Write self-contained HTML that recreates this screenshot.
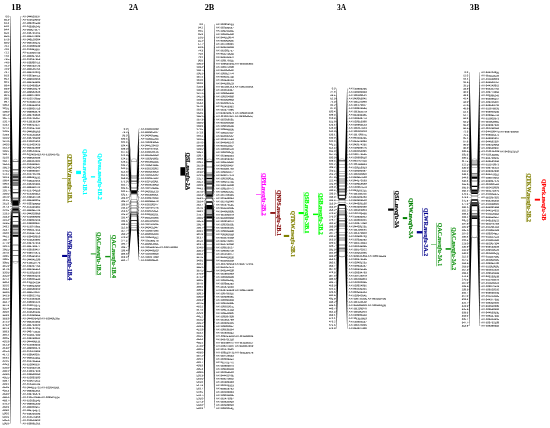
<!DOCTYPE html>
<html lang="en">
<head>
<meta charset="utf-8">
<title>QTL linkage map</title>
<style>
html,body{margin:0;padding:0;background:#fff;}
svg{display:block;}
</style>
</head>
<body>
<svg width="550" height="428" viewBox="0 0 550 428">
<rect width="550" height="428" fill="#fff"/>
<g>
<text x="16.1" y="9.9" font-family="'Liberation Serif',serif" font-weight="bold" font-size="8.5" text-anchor="middle">1B</text>
<path d="M12.5 162.25 A3.05 3.05 0 0 1 18.6 162.25 L18.6 204.1 L18.6 206.3 L18.6 208.5 L18.6 260.35 A3.05 3.05 0 0 1 12.5 260.35 L12.5 208.5 L12.5 206.3 L12.5 204.1 Z" fill="#fff" stroke="#000" stroke-width="0.2"/>
<path d="M12.5 161.06L18.6 161.06L18.6 161.34L12.5 161.34ZM12.5 161.46L18.6 161.46L18.6 161.74L12.5 161.74ZM12.5 169.36L18.6 169.36L18.6 169.64L12.5 169.64ZM12.5 170.26L18.6 170.26L18.6 170.54L12.5 170.54ZM12.5 172.16L18.6 172.16L18.6 172.44L12.5 172.44ZM12.5 173.06L18.6 173.06L18.6 173.34L12.5 173.34ZM12.5 173.96L18.6 173.96L18.6 174.24L12.5 174.24ZM12.5 174.86L18.6 174.86L18.6 175.14L12.5 175.14ZM12.5 175.86L18.6 175.86L18.6 176.14L12.5 176.14ZM12.5 176.26L18.6 176.26L18.6 176.54L12.5 176.54ZM12.5 176.66L18.6 176.66L18.6 176.94L12.5 176.94ZM12.5 177.06L18.6 177.06L18.6 177.34L12.5 177.34ZM12.5 177.46L18.6 177.46L18.6 177.74L12.5 177.74ZM12.5 177.86L18.6 177.86L18.6 178.14L12.5 178.14ZM12.5 179.16L18.6 179.16L18.6 179.44L12.5 179.44ZM12.5 179.54L18.6 179.54L18.6 179.82L12.5 179.82ZM12.5 179.92L18.6 179.92L18.6 180.2L12.5 180.2ZM12.5 180.3L18.6 180.3L18.6 180.58L12.5 180.58ZM12.5 180.68L18.6 180.68L18.6 180.96L12.5 180.96ZM12.5 181.06L18.6 181.06L18.6 181.34L12.5 181.34ZM12.5 181.96L18.6 181.96L18.6 182.24L12.5 182.24ZM12.5 182.593L18.6 182.593L18.6 182.873L12.5 182.873ZM12.5 183.227L18.6 183.227L18.6 183.507L12.5 183.507ZM12.5 183.86L18.6 183.86L18.6 184.14L12.5 184.14ZM12.5 184.76L18.6 184.76L18.6 185.04L12.5 185.04ZM12.5 185.21L18.6 185.21L18.6 185.49L12.5 185.49ZM12.5 185.66L18.6 185.66L18.6 185.94L12.5 185.94ZM12.5 188.96L18.6 188.96L18.6 189.24L12.5 189.24ZM12.5 192.06L18.6 192.06L18.6 192.34L12.5 192.34ZM12.5 192.427L18.6 192.427L18.6 192.707L12.5 192.707ZM12.5 192.793L18.6 192.793L18.6 193.073L12.5 193.073ZM12.5 193.16L18.6 193.16L18.6 193.44L12.5 193.44ZM12.5 197.86L18.6 197.86L18.6 198.14L12.5 198.14ZM12.5 198.51L18.6 198.51L18.6 198.79L12.5 198.79ZM12.5 199.16L18.6 199.16L18.6 199.44L12.5 199.44ZM12.5 200.16L18.6 200.16L18.6 200.44L12.5 200.44ZM12.5 200.401L18.6 200.401L18.6 200.681L12.5 200.681ZM12.5 200.642L18.6 200.642L18.6 200.922L12.5 200.922ZM12.5 200.883L18.6 200.883L18.6 201.163L12.5 201.163ZM12.5 201.124L18.6 201.124L18.6 201.404L12.5 201.404ZM12.5 201.365L18.6 201.365L18.6 201.645L12.5 201.645ZM12.5 201.605L18.6 201.605L18.6 201.885L12.5 201.885ZM12.5 201.846L18.6 201.846L18.6 202.126L12.5 202.126ZM12.5 202.087L18.6 202.087L18.6 202.367L12.5 202.367ZM12.5 202.328L18.6 202.328L18.6 202.608L12.5 202.608ZM12.5 202.569L18.6 202.569L18.6 202.849L12.5 202.849ZM12.5 202.81L18.6 202.81L18.6 203.09L12.5 203.09ZM12.5 203.051L18.6 203.051L18.6 203.331L12.5 203.331ZM12.5 203.292L18.6 203.292L18.6 203.572L12.5 203.572ZM12.5 203.533L18.6 203.533L18.6 203.813L12.5 203.813ZM12.5 203.774L18.6 203.774L18.6 204.054L12.5 204.054ZM12.5 204.015L18.6 204.015L18.6 204.295L12.5 204.295ZM12.5 204.255L18.6 204.255L18.6 204.535L12.5 204.535ZM12.5 204.496L18.6 204.496L18.6 204.776L12.5 204.776ZM12.5 204.737L18.6 204.737L18.6 205.017L12.5 205.017ZM12.5 204.978L18.6 204.978L18.6 205.258L12.5 205.258ZM12.5 205.219L18.6 205.219L18.6 205.499L12.5 205.499ZM12.5 205.46L18.6 205.46L18.6 205.74L12.5 205.74ZM12.5 206.16L18.6 206.16L18.6 206.44L12.5 206.44ZM12.5 207.01L18.6 207.01L18.6 207.29L12.5 207.29ZM12.5 207.86L18.6 207.86L18.6 208.14L12.5 208.14ZM12.5 208.56L18.6 208.56L18.6 208.84L12.5 208.84ZM12.5 208.704L18.6 208.704L18.6 208.984L12.5 208.984ZM12.5 208.849L18.6 208.849L18.6 209.129L12.5 209.129ZM12.5 208.993L18.6 208.993L18.6 209.273L12.5 209.273ZM12.5 209.138L18.6 209.138L18.6 209.418L12.5 209.418ZM12.5 209.282L18.6 209.282L18.6 209.562L12.5 209.562ZM12.5 209.427L18.6 209.427L18.6 209.707L12.5 209.707ZM12.5 209.571L18.6 209.571L18.6 209.851L12.5 209.851ZM12.5 209.716L18.6 209.716L18.6 209.996L12.5 209.996ZM12.5 209.86L18.6 209.86L18.6 210.14L12.5 210.14ZM12.5 210.46L18.6 210.46L18.6 210.74L12.5 210.74ZM12.5 210.82L18.6 210.82L18.6 211.1L12.5 211.1ZM12.5 211.18L18.6 211.18L18.6 211.46L12.5 211.46ZM12.5 211.54L18.6 211.54L18.6 211.82L12.5 211.82ZM12.5 211.9L18.6 211.9L18.6 212.18L12.5 212.18ZM12.5 212.26L18.6 212.26L18.6 212.54L12.5 212.54ZM12.5 212.86L18.6 212.86L18.6 213.14L12.5 213.14ZM12.5 212.96L18.6 212.96L18.6 213.24L12.5 213.24ZM12.5 213.06L18.6 213.06L18.6 213.34L12.5 213.34ZM12.5 216.06L18.6 216.06L18.6 216.34L12.5 216.34ZM12.5 216.21L18.6 216.21L18.6 216.49L12.5 216.49ZM12.5 216.36L18.6 216.36L18.6 216.64L12.5 216.64ZM12.5 216.51L18.6 216.51L18.6 216.79L12.5 216.79ZM12.5 216.66L18.6 216.66L18.6 216.94L12.5 216.94ZM12.5 216.81L18.6 216.81L18.6 217.09L12.5 217.09ZM12.5 216.96L18.6 216.96L18.6 217.24L12.5 217.24ZM12.5 221.36L18.6 221.36L18.6 221.64L12.5 221.64ZM12.5 221.46L18.6 221.46L18.6 221.74L12.5 221.74ZM12.5 221.56L18.6 221.56L18.6 221.84L12.5 221.84ZM12.5 224.66L18.6 224.66L18.6 224.94L12.5 224.94ZM12.5 224.76L18.6 224.76L18.6 225.04L12.5 225.04ZM12.5 224.86L18.6 224.86L18.6 225.14L12.5 225.14ZM12.5 225.46L18.6 225.46L18.6 225.74L12.5 225.74ZM12.5 225.793L18.6 225.793L18.6 226.073L12.5 226.073ZM12.5 226.127L18.6 226.127L18.6 226.407L12.5 226.407ZM12.5 226.46L18.6 226.46L18.6 226.74L12.5 226.74ZM12.5 226.793L18.6 226.793L18.6 227.073L12.5 227.073ZM12.5 227.127L18.6 227.127L18.6 227.407L12.5 227.407ZM12.5 227.46L18.6 227.46L18.6 227.74L12.5 227.74ZM12.5 228.86L18.6 228.86L18.6 229.14L12.5 229.14ZM12.5 229.01L18.6 229.01L18.6 229.29L12.5 229.29ZM12.5 229.16L18.6 229.16L18.6 229.44L12.5 229.44ZM12.5 230.86L18.6 230.86L18.6 231.14L12.5 231.14ZM12.5 230.96L18.6 230.96L18.6 231.24L12.5 231.24ZM12.5 231.06L18.6 231.06L18.6 231.34L12.5 231.34ZM12.5 232.46L18.6 232.46L18.6 232.74L12.5 232.74ZM12.5 232.727L18.6 232.727L18.6 233.007L12.5 233.007ZM12.5 232.993L18.6 232.993L18.6 233.273L12.5 233.273ZM12.5 233.26L18.6 233.26L18.6 233.54L12.5 233.54ZM12.5 234.86L18.6 234.86L18.6 235.14L12.5 235.14ZM12.5 235.089L18.6 235.089L18.6 235.369L12.5 235.369ZM12.5 235.317L18.6 235.317L18.6 235.597L12.5 235.597ZM12.5 235.546L18.6 235.546L18.6 235.826L12.5 235.826ZM12.5 235.774L18.6 235.774L18.6 236.054L12.5 236.054ZM12.5 236.003L18.6 236.003L18.6 236.283L12.5 236.283ZM12.5 236.231L18.6 236.231L18.6 236.511L12.5 236.511ZM12.5 236.46L18.6 236.46L18.6 236.74L12.5 236.74ZM12.5 244.86L18.6 244.86L18.6 245.14L12.5 245.14ZM12.5 250.36L18.6 250.36L18.6 250.64L12.5 250.64ZM12.5 250.36L18.6 250.36L18.6 250.64L12.5 250.64ZM12.5 255.06L18.6 255.06L18.6 255.34L12.5 255.34ZM12.5 255.16L18.6 255.16L18.6 255.44L12.5 255.44ZM12.5 255.26L18.6 255.26L18.6 255.54L12.5 255.54ZM12.5 261.16L18.6 261.16L18.6 261.44L12.5 261.44Z" fill="#000" stroke="none"/>
<path d="M9.2 16.34L10.33 16.34L10.33 16.46L9.2 16.46ZM20.67 16.34L21.4 16.34L21.4 16.46L20.67 16.46ZM10.07 16.4L10.33 16.4L12.58 161.2L12.32 161.2ZM20.67 16.4L20.93 16.4L18.78 161.2L18.52 161.2ZM9.2 19.622L10.33 19.622L10.33 19.742L9.2 19.742ZM20.67 19.622L21.4 19.622L21.4 19.742L20.67 19.742ZM10.07 19.682L10.33 19.682L12.58 161.6L12.32 161.6ZM20.67 19.682L20.93 19.682L18.78 161.6L18.52 161.6ZM9.2 22.904L10.33 22.904L10.33 23.024L9.2 23.024ZM20.67 22.904L21.4 22.904L21.4 23.024L20.67 23.024ZM10.07 22.964L10.33 22.964L12.58 169.5L12.32 169.5ZM20.67 22.964L20.93 22.964L18.78 169.5L18.52 169.5ZM9.2 26.186L10.33 26.186L10.33 26.306L9.2 26.306ZM20.67 26.186L21.4 26.186L21.4 26.306L20.67 26.306ZM10.07 26.246L10.33 26.246L12.58 170.4L12.32 170.4ZM20.67 26.246L20.93 26.246L18.78 170.4L18.52 170.4ZM9.2 29.468L10.33 29.468L10.33 29.588L9.2 29.588ZM20.67 29.468L21.4 29.468L21.4 29.588L20.67 29.588ZM10.07 29.528L10.33 29.528L12.58 172.3L12.32 172.3ZM20.67 29.528L20.93 29.528L18.78 172.3L18.52 172.3ZM9.2 32.75L10.33 32.75L10.33 32.87L9.2 32.87ZM20.67 32.75L21.4 32.75L21.4 32.87L20.67 32.87ZM10.07 32.81L10.33 32.81L12.58 173.2L12.32 173.2ZM20.67 32.81L20.93 32.81L18.78 173.2L18.52 173.2ZM9.2 36.032L10.33 36.032L10.33 36.152L9.2 36.152ZM20.67 36.032L21.4 36.032L21.4 36.152L20.67 36.152ZM10.07 36.092L10.33 36.092L12.58 174.1L12.32 174.1ZM20.67 36.092L20.93 36.092L18.78 174.1L18.52 174.1ZM9.2 39.314L10.33 39.314L10.33 39.434L9.2 39.434ZM20.67 39.314L21.4 39.314L21.4 39.434L20.67 39.434ZM10.07 39.374L10.33 39.374L12.58 175L12.32 175ZM20.67 39.374L20.93 39.374L18.78 175L18.52 175ZM9.2 42.596L10.33 42.596L10.33 42.716L9.2 42.716ZM20.67 42.596L21.4 42.596L21.4 42.716L20.67 42.716ZM10.07 42.656L10.33 42.656L12.58 176L12.32 176ZM20.67 42.656L20.93 42.656L18.78 176L18.52 176ZM9.2 45.878L10.33 45.878L10.33 45.998L9.2 45.998ZM20.67 45.878L21.4 45.878L21.4 45.998L20.67 45.998ZM10.07 45.938L10.33 45.938L12.58 176.4L12.32 176.4ZM20.67 45.938L20.93 45.938L18.78 176.4L18.52 176.4ZM9.2 49.16L10.33 49.16L10.33 49.28L9.2 49.28ZM20.67 49.16L21.4 49.16L21.4 49.28L20.67 49.28ZM10.07 49.22L10.33 49.22L12.58 176.8L12.32 176.8ZM20.67 49.22L20.93 49.22L18.78 176.8L18.52 176.8ZM9.2 52.442L10.33 52.442L10.33 52.562L9.2 52.562ZM20.67 52.442L21.4 52.442L21.4 52.562L20.67 52.562ZM10.07 52.502L10.33 52.502L12.58 177.2L12.32 177.2ZM20.67 52.502L20.93 52.502L18.78 177.2L18.52 177.2ZM9.2 55.724L10.33 55.724L10.33 55.844L9.2 55.844ZM20.67 55.724L21.4 55.724L21.4 55.844L20.67 55.844ZM10.07 55.784L10.33 55.784L12.58 177.6L12.32 177.6ZM20.67 55.784L20.93 55.784L18.78 177.6L18.52 177.6ZM9.2 59.006L10.33 59.006L10.33 59.126L9.2 59.126ZM20.67 59.006L21.4 59.006L21.4 59.126L20.67 59.126ZM10.07 59.066L10.33 59.066L12.58 178L12.32 178ZM20.67 59.066L20.93 59.066L18.78 178L18.52 178ZM9.2 62.288L10.33 62.288L10.33 62.408L9.2 62.408ZM20.67 62.288L21.4 62.288L21.4 62.408L20.67 62.408ZM10.07 62.348L10.33 62.348L12.58 179.3L12.32 179.3ZM20.67 62.348L20.93 62.348L18.78 179.3L18.52 179.3ZM9.2 65.57L10.33 65.57L10.33 65.69L9.2 65.69ZM20.67 65.57L21.4 65.57L21.4 65.69L20.67 65.69ZM10.07 65.63L10.33 65.63L12.58 179.68L12.32 179.68ZM20.67 65.63L20.93 65.63L18.78 179.68L18.52 179.68ZM9.2 68.852L10.33 68.852L10.33 68.972L9.2 68.972ZM20.67 68.852L21.4 68.852L21.4 68.972L20.67 68.972ZM10.07 68.912L10.33 68.912L12.58 180.06L12.32 180.06ZM20.67 68.912L20.93 68.912L18.78 180.06L18.52 180.06ZM9.2 72.134L10.33 72.134L10.33 72.254L9.2 72.254ZM20.67 72.134L21.4 72.134L21.4 72.254L20.67 72.254ZM10.07 72.194L10.33 72.194L12.58 180.44L12.32 180.44ZM20.67 72.194L20.93 72.194L18.78 180.44L18.52 180.44ZM9.2 75.416L10.33 75.416L10.33 75.536L9.2 75.536ZM20.67 75.416L21.4 75.416L21.4 75.536L20.67 75.536ZM10.07 75.476L10.33 75.476L12.58 180.82L12.32 180.82ZM20.67 75.476L20.93 75.476L18.78 180.82L18.52 180.82ZM9.2 78.698L10.33 78.698L10.33 78.818L9.2 78.818ZM20.67 78.698L21.4 78.698L21.4 78.818L20.67 78.818ZM10.07 78.758L10.33 78.758L12.58 181.2L12.32 181.2ZM20.67 78.758L20.93 78.758L18.78 181.2L18.52 181.2ZM9.2 81.98L10.33 81.98L10.33 82.1L9.2 82.1ZM20.67 81.98L21.4 81.98L21.4 82.1L20.67 82.1ZM10.07 82.04L10.33 82.04L12.58 182.1L12.32 182.1ZM20.67 82.04L20.93 82.04L18.78 182.1L18.52 182.1ZM9.2 85.262L10.33 85.262L10.33 85.382L9.2 85.382ZM20.67 85.262L21.4 85.262L21.4 85.382L20.67 85.382ZM10.07 85.322L10.33 85.322L12.58 182.733L12.32 182.733ZM20.67 85.322L20.93 85.322L18.78 182.733L18.52 182.733ZM9.2 88.544L10.33 88.544L10.33 88.664L9.2 88.664ZM20.67 88.544L21.4 88.544L21.4 88.664L20.67 88.664ZM10.07 88.604L10.33 88.604L12.58 183.367L12.32 183.367ZM20.67 88.604L20.93 88.604L18.78 183.367L18.52 183.367ZM9.2 91.826L10.33 91.826L10.33 91.946L9.2 91.946ZM20.67 91.826L21.4 91.826L21.4 91.946L20.67 91.946ZM10.07 91.886L10.33 91.886L12.58 184L12.32 184ZM20.67 91.886L20.93 91.886L18.78 184L18.52 184ZM9.2 95.108L10.33 95.108L10.33 95.228L9.2 95.228ZM20.67 95.108L21.4 95.108L21.4 95.228L20.67 95.228ZM10.07 95.168L10.33 95.168L12.58 184.9L12.32 184.9ZM20.67 95.168L20.93 95.168L18.78 184.9L18.52 184.9ZM9.2 98.39L10.33 98.39L10.33 98.51L9.2 98.51ZM20.67 98.39L21.4 98.39L21.4 98.51L20.67 98.51ZM10.07 98.45L10.33 98.45L12.58 185.35L12.32 185.35ZM20.67 98.45L20.93 98.45L18.78 185.35L18.52 185.35ZM9.2 101.672L10.33 101.672L10.33 101.792L9.2 101.792ZM20.67 101.672L21.4 101.672L21.4 101.792L20.67 101.792ZM10.07 101.732L10.33 101.732L12.58 185.8L12.32 185.8ZM20.67 101.732L20.93 101.732L18.78 185.8L18.52 185.8ZM9.2 104.954L10.33 104.954L10.33 105.074L9.2 105.074ZM20.67 104.954L21.4 104.954L21.4 105.074L20.67 105.074ZM10.07 105.014L10.33 105.014L12.58 189.1L12.32 189.1ZM20.67 105.014L20.93 105.014L18.78 189.1L18.52 189.1ZM9.2 108.236L10.33 108.236L10.33 108.356L9.2 108.356ZM20.67 108.236L21.4 108.236L21.4 108.356L20.67 108.356ZM10.07 108.296L10.33 108.296L12.58 192.2L12.32 192.2ZM20.67 108.296L20.93 108.296L18.78 192.2L18.52 192.2ZM9.2 111.518L10.33 111.518L10.33 111.638L9.2 111.638ZM20.67 111.518L21.4 111.518L21.4 111.638L20.67 111.638ZM10.07 111.578L10.33 111.578L12.58 192.567L12.32 192.567ZM20.67 111.578L20.93 111.578L18.78 192.567L18.52 192.567ZM9.2 114.8L10.33 114.8L10.33 114.92L9.2 114.92ZM20.67 114.8L21.4 114.8L21.4 114.92L20.67 114.92ZM10.07 114.86L10.33 114.86L12.58 192.933L12.32 192.933ZM20.67 114.86L20.93 114.86L18.78 192.933L18.52 192.933ZM9.2 118.082L10.33 118.082L10.33 118.202L9.2 118.202ZM20.67 118.082L21.4 118.082L21.4 118.202L20.67 118.202ZM10.07 118.142L10.33 118.142L12.58 193.3L12.32 193.3ZM20.67 118.142L20.93 118.142L18.78 193.3L18.52 193.3ZM9.2 121.364L10.33 121.364L10.33 121.484L9.2 121.484ZM20.67 121.364L21.4 121.364L21.4 121.484L20.67 121.484ZM10.07 121.424L10.33 121.424L12.58 198L12.32 198ZM20.67 121.424L20.93 121.424L18.78 198L18.52 198ZM9.2 124.646L10.33 124.646L10.33 124.766L9.2 124.766ZM20.67 124.646L21.4 124.646L21.4 124.766L20.67 124.766ZM10.07 124.706L10.33 124.706L12.58 198.65L12.32 198.65ZM20.67 124.706L20.93 124.706L18.78 198.65L18.52 198.65ZM9.2 127.928L10.33 127.928L10.33 128.048L9.2 128.048ZM20.67 127.928L21.4 127.928L21.4 128.048L20.67 128.048ZM10.07 127.988L10.33 127.988L12.58 199.3L12.32 199.3ZM20.67 127.988L20.93 127.988L18.78 199.3L18.52 199.3ZM9.2 131.21L10.33 131.21L10.33 131.33L9.2 131.33ZM20.67 131.21L21.4 131.21L21.4 131.33L20.67 131.33ZM10.07 131.27L10.33 131.27L12.58 200.3L12.32 200.3ZM20.67 131.27L20.93 131.27L18.78 200.3L18.52 200.3ZM9.2 134.492L10.33 134.492L10.33 134.612L9.2 134.612ZM20.67 134.492L21.4 134.492L21.4 134.612L20.67 134.612ZM10.07 134.552L10.33 134.552L12.58 200.541L12.32 200.541ZM20.67 134.552L20.93 134.552L18.78 200.541L18.52 200.541ZM9.2 137.774L10.33 137.774L10.33 137.894L9.2 137.894ZM20.67 137.774L21.4 137.774L21.4 137.894L20.67 137.894ZM10.07 137.834L10.33 137.834L12.58 200.782L12.32 200.782ZM20.67 137.834L20.93 137.834L18.78 200.782L18.52 200.782ZM9.2 141.056L10.33 141.056L10.33 141.176L9.2 141.176ZM20.67 141.056L21.4 141.056L21.4 141.176L20.67 141.176ZM10.07 141.116L10.33 141.116L12.58 201.023L12.32 201.023ZM20.67 141.116L20.93 141.116L18.78 201.023L18.52 201.023ZM9.2 144.338L10.33 144.338L10.33 144.458L9.2 144.458ZM20.67 144.338L21.4 144.338L21.4 144.458L20.67 144.458ZM10.07 144.398L10.33 144.398L12.58 201.264L12.32 201.264ZM20.67 144.398L20.93 144.398L18.78 201.264L18.52 201.264ZM9.2 147.62L10.33 147.62L10.33 147.74L9.2 147.74ZM20.67 147.62L21.4 147.62L21.4 147.74L20.67 147.74ZM10.07 147.68L10.33 147.68L12.58 201.505L12.32 201.505ZM20.67 147.68L20.93 147.68L18.78 201.505L18.52 201.505ZM9.2 150.902L10.33 150.902L10.33 151.022L9.2 151.022ZM20.67 150.902L21.4 150.902L21.4 151.022L20.67 151.022ZM10.07 150.962L10.33 150.962L12.58 201.745L12.32 201.745ZM20.67 150.962L20.93 150.962L18.78 201.745L18.52 201.745ZM9.2 154.184L10.33 154.184L10.33 154.304L9.2 154.304ZM20.67 154.184L21.4 154.184L21.4 154.304L20.67 154.304ZM10.07 154.244L10.33 154.244L12.58 201.986L12.32 201.986ZM20.67 154.244L20.93 154.244L18.78 201.986L18.52 201.986ZM9.2 157.466L10.33 157.466L10.33 157.586L9.2 157.586ZM20.67 157.466L21.4 157.466L21.4 157.586L20.67 157.586ZM10.07 157.526L10.33 157.526L12.58 202.227L12.32 202.227ZM20.67 157.526L20.93 157.526L18.78 202.227L18.52 202.227ZM9.2 160.748L10.33 160.748L10.33 160.868L9.2 160.868ZM20.67 160.748L21.4 160.748L21.4 160.868L20.67 160.868ZM10.07 160.808L10.33 160.808L12.58 202.468L12.32 202.468ZM20.67 160.808L20.93 160.808L18.78 202.468L18.52 202.468ZM9.2 164.03L10.33 164.03L10.33 164.15L9.2 164.15ZM20.67 164.03L21.4 164.03L21.4 164.15L20.67 164.15ZM10.07 164.09L10.33 164.09L12.58 202.709L12.32 202.709ZM20.67 164.09L20.93 164.09L18.78 202.709L18.52 202.709ZM9.2 167.312L10.33 167.312L10.33 167.432L9.2 167.432ZM20.67 167.312L21.4 167.312L21.4 167.432L20.67 167.432ZM10.07 167.372L10.33 167.372L12.58 202.95L12.32 202.95ZM20.67 167.372L20.93 167.372L18.78 202.95L18.52 202.95ZM9.2 170.594L10.33 170.594L10.33 170.714L9.2 170.714ZM20.67 170.594L21.4 170.594L21.4 170.714L20.67 170.714ZM10.07 170.654L10.33 170.654L12.58 203.191L12.32 203.191ZM20.67 170.654L20.93 170.654L18.78 203.191L18.52 203.191ZM9.2 173.876L10.33 173.876L10.33 173.996L9.2 173.996ZM20.67 173.876L21.4 173.876L21.4 173.996L20.67 173.996ZM10.07 173.936L10.33 173.936L12.58 203.432L12.32 203.432ZM20.67 173.936L20.93 173.936L18.78 203.432L18.52 203.432ZM9.2 177.158L10.33 177.158L10.33 177.278L9.2 177.278ZM20.67 177.158L21.4 177.158L21.4 177.278L20.67 177.278ZM10.07 177.218L10.33 177.218L12.58 203.673L12.32 203.673ZM20.67 177.218L20.93 177.218L18.78 203.673L18.52 203.673ZM9.2 180.44L10.33 180.44L10.33 180.56L9.2 180.56ZM20.67 180.44L21.4 180.44L21.4 180.56L20.67 180.56ZM10.069 180.5L10.331 180.5L12.581 203.914L12.319 203.914ZM20.669 180.5L20.931 180.5L18.781 203.914L18.519 203.914ZM9.2 183.722L10.33 183.722L10.33 183.842L9.2 183.842ZM20.67 183.722L21.4 183.722L21.4 183.842L20.67 183.842ZM10.069 183.782L10.331 183.782L12.581 204.155L12.319 204.155ZM20.669 183.782L20.931 183.782L18.781 204.155L18.519 204.155ZM9.2 187.004L10.33 187.004L10.33 187.124L9.2 187.124ZM20.67 187.004L21.4 187.004L21.4 187.124L20.67 187.124ZM10.069 187.064L10.331 187.064L12.581 204.395L12.319 204.395ZM20.669 187.064L20.931 187.064L18.781 204.395L18.519 204.395ZM9.2 190.286L10.33 190.286L10.33 190.406L9.2 190.406ZM20.67 190.286L21.4 190.286L21.4 190.406L20.67 190.406ZM10.068 190.346L10.332 190.346L12.582 204.636L12.318 204.636ZM20.669 190.346L20.931 190.346L18.781 204.636L18.519 204.636ZM9.2 193.568L10.33 193.568L10.33 193.688L9.2 193.688ZM20.67 193.568L21.4 193.568L21.4 193.688L20.67 193.688ZM10.067 193.628L10.333 193.628L12.583 204.877L12.317 204.877ZM20.668 193.628L20.932 193.628L18.782 204.877L18.518 204.877ZM9.2 196.85L10.33 196.85L10.33 196.97L9.2 196.97ZM20.67 196.85L21.4 196.85L21.4 196.97L20.67 196.97ZM10.065 196.91L10.335 196.91L12.585 205.118L12.315 205.118ZM20.666 196.91L20.934 196.91L18.784 205.118L18.516 205.118ZM9.2 200.132L10.33 200.132L10.33 200.252L9.2 200.252ZM20.67 200.132L21.4 200.132L21.4 200.252L20.67 200.252ZM10.058 200.192L10.342 200.192L12.592 205.359L12.308 205.359ZM20.659 200.192L20.941 200.192L18.791 205.359L18.509 205.359ZM9.2 203.414L10.33 203.414L10.33 203.534L9.2 203.534ZM20.67 203.414L21.4 203.414L21.4 203.534L20.67 203.534ZM10.2 203.295L12.45 205.421L12.45 205.779L10.2 203.653ZM20.8 203.657L18.65 205.783L18.65 205.417L20.8 203.291ZM9.2 206.696L10.33 206.696L10.33 206.816L9.2 206.816ZM20.67 206.696L21.4 206.696L21.4 206.816L20.67 206.816ZM10.2 206.623L12.45 206.167L12.45 206.433L10.2 206.889ZM20.8 206.889L18.65 206.433L18.65 206.167L20.8 206.623ZM9.2 209.978L10.33 209.978L10.33 210.098L9.2 210.098ZM20.67 209.978L21.4 209.978L21.4 210.098L20.67 210.098ZM12.285 207.15L12.615 207.15L10.365 210.038L10.035 210.038ZM18.488 207.15L18.812 207.15L20.962 210.038L20.638 210.038ZM9.2 213.26L10.33 213.26L10.33 213.38L9.2 213.38ZM20.67 213.26L21.4 213.26L21.4 213.38L20.67 213.38ZM12.309 208L12.591 208L10.341 213.32L10.059 213.32ZM18.51 208L18.79 208L20.94 213.32L20.66 213.32ZM9.2 216.542L10.33 216.542L10.33 216.662L9.2 216.662ZM20.67 216.542L21.4 216.542L21.4 216.662L20.67 216.662ZM12.315 208.7L12.585 208.7L10.335 216.602L10.065 216.602ZM18.515 208.7L18.785 208.7L20.935 216.602L20.665 216.602ZM9.2 219.824L10.33 219.824L10.33 219.944L9.2 219.944ZM20.67 219.824L21.4 219.824L21.4 219.944L20.67 219.944ZM12.317 208.844L12.583 208.844L10.333 219.884L10.067 219.884ZM18.518 208.844L18.782 208.844L20.932 219.884L20.668 219.884ZM9.2 223.106L10.33 223.106L10.33 223.226L9.2 223.226ZM20.67 223.106L21.4 223.106L21.4 223.226L20.67 223.226ZM12.318 208.989L12.582 208.989L10.332 223.166L10.068 223.166ZM18.519 208.989L18.781 208.989L20.931 223.166L20.669 223.166ZM9.2 226.388L10.33 226.388L10.33 226.508L9.2 226.508ZM20.67 226.388L21.4 226.388L21.4 226.508L20.67 226.508ZM12.319 209.133L12.581 209.133L10.331 226.448L10.069 226.448ZM18.519 209.133L18.781 209.133L20.931 226.448L20.669 226.448ZM9.2 229.67L10.33 229.67L10.33 229.79L9.2 229.79ZM20.67 229.67L21.4 229.67L21.4 229.79L20.67 229.79ZM12.319 209.278L12.581 209.278L10.331 229.73L10.069 229.73ZM18.519 209.278L18.781 209.278L20.931 229.73L20.669 229.73ZM9.2 232.952L10.33 232.952L10.33 233.072L9.2 233.072ZM20.67 232.952L21.4 232.952L21.4 233.072L20.67 233.072ZM12.319 209.422L12.581 209.422L10.331 233.012L10.069 233.012ZM18.519 209.422L18.781 209.422L20.931 233.012L20.669 233.012ZM9.2 236.234L10.33 236.234L10.33 236.354L9.2 236.354ZM20.67 236.234L21.4 236.234L21.4 236.354L20.67 236.354ZM12.32 209.567L12.58 209.567L10.33 236.294L10.07 236.294ZM18.52 209.567L18.78 209.567L20.93 236.294L20.67 236.294ZM9.2 239.516L10.33 239.516L10.33 239.636L9.2 239.636ZM20.67 239.516L21.4 239.516L21.4 239.636L20.67 239.636ZM12.32 209.711L12.58 209.711L10.33 239.576L10.07 239.576ZM18.52 209.711L18.78 209.711L20.93 239.576L20.67 239.576ZM9.2 242.798L10.33 242.798L10.33 242.918L9.2 242.918ZM20.67 242.798L21.4 242.798L21.4 242.918L20.67 242.918ZM12.32 209.856L12.58 209.856L10.33 242.858L10.07 242.858ZM18.52 209.856L18.78 209.856L20.93 242.858L20.67 242.858ZM9.2 246.08L10.33 246.08L10.33 246.2L9.2 246.2ZM20.67 246.08L21.4 246.08L21.4 246.2L20.67 246.2ZM12.32 210L12.58 210L10.33 246.14L10.07 246.14ZM18.52 210L18.78 210L20.93 246.14L20.67 246.14ZM9.2 249.362L10.33 249.362L10.33 249.482L9.2 249.482ZM20.67 249.362L21.4 249.362L21.4 249.482L20.67 249.482ZM12.32 210.6L12.58 210.6L10.33 249.422L10.07 249.422ZM18.52 210.6L18.78 210.6L20.93 249.422L20.67 249.422ZM9.2 252.644L10.33 252.644L10.33 252.764L9.2 252.764ZM20.67 252.644L21.4 252.644L21.4 252.764L20.67 252.764ZM12.32 210.96L12.58 210.96L10.33 252.704L10.07 252.704ZM18.52 210.96L18.78 210.96L20.93 252.704L20.67 252.704ZM9.2 255.926L10.33 255.926L10.33 256.046L9.2 256.046ZM20.67 255.926L21.4 255.926L21.4 256.046L20.67 256.046ZM12.32 211.32L12.58 211.32L10.33 255.986L10.07 255.986ZM18.52 211.32L18.78 211.32L20.93 255.986L20.67 255.986ZM9.2 259.208L10.33 259.208L10.33 259.328L9.2 259.328ZM20.67 259.208L21.4 259.208L21.4 259.328L20.67 259.328ZM12.32 211.68L12.58 211.68L10.33 259.268L10.07 259.268ZM18.52 211.68L18.78 211.68L20.93 259.268L20.67 259.268ZM9.2 262.49L10.33 262.49L10.33 262.61L9.2 262.61ZM20.67 262.49L21.4 262.49L21.4 262.61L20.67 262.61ZM12.32 212.04L12.58 212.04L10.33 262.55L10.07 262.55ZM18.52 212.04L18.78 212.04L20.93 262.55L20.67 262.55ZM9.2 265.772L10.33 265.772L10.33 265.892L9.2 265.892ZM20.67 265.772L21.4 265.772L21.4 265.892L20.67 265.892ZM12.32 212.4L12.58 212.4L10.33 265.832L10.07 265.832ZM18.52 212.4L18.78 212.4L20.93 265.832L20.67 265.832ZM9.2 269.054L10.33 269.054L10.33 269.174L9.2 269.174ZM20.67 269.054L21.4 269.054L21.4 269.174L20.67 269.174ZM12.32 213L12.58 213L10.33 269.114L10.07 269.114ZM18.52 213L18.78 213L20.93 269.114L20.67 269.114ZM9.2 272.336L10.33 272.336L10.33 272.456L9.2 272.456ZM20.67 272.336L21.4 272.336L21.4 272.456L20.67 272.456ZM12.32 213.1L12.58 213.1L10.33 272.396L10.07 272.396ZM18.52 213.1L18.78 213.1L20.93 272.396L20.67 272.396ZM9.2 275.618L10.33 275.618L10.33 275.738L9.2 275.738ZM20.67 275.618L21.4 275.618L21.4 275.738L20.67 275.738ZM12.32 213.2L12.58 213.2L10.33 275.678L10.07 275.678ZM18.52 213.2L18.78 213.2L20.93 275.678L20.67 275.678ZM9.2 278.9L10.33 278.9L10.33 279.02L9.2 279.02ZM20.67 278.9L21.4 278.9L21.4 279.02L20.67 279.02ZM12.32 216.2L12.58 216.2L10.33 278.96L10.07 278.96ZM18.52 216.2L18.78 216.2L20.93 278.96L20.67 278.96ZM9.2 282.182L10.33 282.182L10.33 282.302L9.2 282.302ZM20.67 282.182L21.4 282.182L21.4 282.302L20.67 282.302ZM12.32 216.35L12.58 216.35L10.33 282.242L10.07 282.242ZM18.52 216.35L18.78 216.35L20.93 282.242L20.67 282.242ZM9.2 285.464L10.33 285.464L10.33 285.584L9.2 285.584ZM20.67 285.464L21.4 285.464L21.4 285.584L20.67 285.584ZM12.32 216.5L12.58 216.5L10.33 285.524L10.07 285.524ZM18.52 216.5L18.78 216.5L20.93 285.524L20.67 285.524ZM9.2 288.746L10.33 288.746L10.33 288.866L9.2 288.866ZM20.67 288.746L21.4 288.746L21.4 288.866L20.67 288.866ZM12.32 216.65L12.58 216.65L10.33 288.806L10.07 288.806ZM18.52 216.65L18.78 216.65L20.93 288.806L20.67 288.806ZM9.2 292.028L10.33 292.028L10.33 292.148L9.2 292.148ZM20.67 292.028L21.4 292.028L21.4 292.148L20.67 292.148ZM12.32 216.8L12.58 216.8L10.33 292.088L10.07 292.088ZM18.52 216.8L18.78 216.8L20.93 292.088L20.67 292.088ZM9.2 295.31L10.33 295.31L10.33 295.43L9.2 295.43ZM20.67 295.31L21.4 295.31L21.4 295.43L20.67 295.43ZM12.32 216.95L12.58 216.95L10.33 295.37L10.07 295.37ZM18.52 216.95L18.78 216.95L20.93 295.37L20.67 295.37ZM9.2 298.592L10.33 298.592L10.33 298.712L9.2 298.712ZM20.67 298.592L21.4 298.592L21.4 298.712L20.67 298.712ZM12.32 217.1L12.58 217.1L10.33 298.652L10.07 298.652ZM18.52 217.1L18.78 217.1L20.93 298.652L20.67 298.652ZM9.2 301.874L10.33 301.874L10.33 301.994L9.2 301.994ZM20.67 301.874L21.4 301.874L21.4 301.994L20.67 301.994ZM12.32 221.5L12.58 221.5L10.33 301.934L10.07 301.934ZM18.52 221.5L18.78 221.5L20.93 301.934L20.67 301.934ZM9.2 305.156L10.33 305.156L10.33 305.276L9.2 305.276ZM20.67 305.156L21.4 305.156L21.4 305.276L20.67 305.276ZM12.32 221.6L12.58 221.6L10.33 305.216L10.07 305.216ZM18.52 221.6L18.78 221.6L20.93 305.216L20.67 305.216ZM9.2 308.438L10.33 308.438L10.33 308.558L9.2 308.558ZM20.67 308.438L21.4 308.438L21.4 308.558L20.67 308.558ZM12.32 221.7L12.58 221.7L10.33 308.498L10.07 308.498ZM18.52 221.7L18.78 221.7L20.93 308.498L20.67 308.498ZM9.2 311.72L10.33 311.72L10.33 311.84L9.2 311.84ZM20.67 311.72L21.4 311.72L21.4 311.84L20.67 311.84ZM12.32 224.8L12.58 224.8L10.33 311.78L10.07 311.78ZM18.52 224.8L18.78 224.8L20.93 311.78L20.67 311.78ZM9.2 315.002L10.33 315.002L10.33 315.122L9.2 315.122ZM20.67 315.002L21.4 315.002L21.4 315.122L20.67 315.122ZM12.32 224.9L12.58 224.9L10.33 315.062L10.07 315.062ZM18.52 224.9L18.78 224.9L20.93 315.062L20.67 315.062ZM9.2 318.284L10.33 318.284L10.33 318.404L9.2 318.404ZM20.67 318.284L21.4 318.284L21.4 318.404L20.67 318.404ZM12.32 225L12.58 225L10.33 318.344L10.07 318.344ZM18.52 225L18.78 225L20.93 318.344L20.67 318.344ZM9.2 321.566L10.33 321.566L10.33 321.686L9.2 321.686ZM20.67 321.566L21.4 321.566L21.4 321.686L20.67 321.686ZM12.32 225.6L12.58 225.6L10.33 321.626L10.07 321.626ZM18.52 225.6L18.78 225.6L20.93 321.626L20.67 321.626ZM9.2 324.848L10.33 324.848L10.33 324.968L9.2 324.968ZM20.67 324.848L21.4 324.848L21.4 324.968L20.67 324.968ZM12.32 225.933L12.58 225.933L10.33 324.908L10.07 324.908ZM18.52 225.933L18.78 225.933L20.93 324.908L20.67 324.908ZM9.2 328.13L10.33 328.13L10.33 328.25L9.2 328.25ZM20.67 328.13L21.4 328.13L21.4 328.25L20.67 328.25ZM12.32 226.267L12.58 226.267L10.33 328.19L10.07 328.19ZM18.52 226.267L18.78 226.267L20.93 328.19L20.67 328.19ZM9.2 331.412L10.33 331.412L10.33 331.532L9.2 331.532ZM20.67 331.412L21.4 331.412L21.4 331.532L20.67 331.532ZM12.32 226.6L12.58 226.6L10.33 331.472L10.07 331.472ZM18.52 226.6L18.78 226.6L20.93 331.472L20.67 331.472ZM9.2 334.694L10.33 334.694L10.33 334.814L9.2 334.814ZM20.67 334.694L21.4 334.694L21.4 334.814L20.67 334.814ZM12.32 226.933L12.58 226.933L10.33 334.754L10.07 334.754ZM18.52 226.933L18.78 226.933L20.93 334.754L20.67 334.754ZM9.2 337.976L10.33 337.976L10.33 338.096L9.2 338.096ZM20.67 337.976L21.4 337.976L21.4 338.096L20.67 338.096ZM12.32 227.267L12.58 227.267L10.33 338.036L10.07 338.036ZM18.52 227.267L18.78 227.267L20.93 338.036L20.67 338.036ZM9.2 341.258L10.33 341.258L10.33 341.378L9.2 341.378ZM20.67 341.258L21.4 341.258L21.4 341.378L20.67 341.378ZM12.32 227.6L12.58 227.6L10.33 341.318L10.07 341.318ZM18.52 227.6L18.78 227.6L20.93 341.318L20.67 341.318ZM9.2 344.54L10.33 344.54L10.33 344.66L9.2 344.66ZM20.67 344.54L21.4 344.54L21.4 344.66L20.67 344.66ZM12.32 229L12.58 229L10.33 344.6L10.07 344.6ZM18.52 229L18.78 229L20.93 344.6L20.67 344.6ZM9.2 347.822L10.33 347.822L10.33 347.942L9.2 347.942ZM20.67 347.822L21.4 347.822L21.4 347.942L20.67 347.942ZM12.32 229.15L12.58 229.15L10.33 347.882L10.07 347.882ZM18.52 229.15L18.78 229.15L20.93 347.882L20.67 347.882ZM9.2 351.104L10.33 351.104L10.33 351.224L9.2 351.224ZM20.67 351.104L21.4 351.104L21.4 351.224L20.67 351.224ZM12.32 229.3L12.58 229.3L10.33 351.164L10.07 351.164ZM18.52 229.3L18.78 229.3L20.93 351.164L20.67 351.164ZM9.2 354.386L10.33 354.386L10.33 354.506L9.2 354.506ZM20.67 354.386L21.4 354.386L21.4 354.506L20.67 354.506ZM12.32 231L12.58 231L10.33 354.446L10.07 354.446ZM18.52 231L18.78 231L20.93 354.446L20.67 354.446ZM9.2 357.668L10.33 357.668L10.33 357.788L9.2 357.788ZM20.67 357.668L21.4 357.668L21.4 357.788L20.67 357.788ZM12.32 231.1L12.58 231.1L10.33 357.728L10.07 357.728ZM18.52 231.1L18.78 231.1L20.93 357.728L20.67 357.728ZM9.2 360.95L10.33 360.95L10.33 361.07L9.2 361.07ZM20.67 360.95L21.4 360.95L21.4 361.07L20.67 361.07ZM12.32 231.2L12.58 231.2L10.33 361.01L10.07 361.01ZM18.52 231.2L18.78 231.2L20.93 361.01L20.67 361.01ZM9.2 364.232L10.33 364.232L10.33 364.352L9.2 364.352ZM20.67 364.232L21.4 364.232L21.4 364.352L20.67 364.352ZM12.32 232.6L12.58 232.6L10.33 364.292L10.07 364.292ZM18.52 232.6L18.78 232.6L20.93 364.292L20.67 364.292ZM9.2 367.514L10.33 367.514L10.33 367.634L9.2 367.634ZM20.67 367.514L21.4 367.514L21.4 367.634L20.67 367.634ZM12.32 232.867L12.58 232.867L10.33 367.574L10.07 367.574ZM18.52 232.867L18.78 232.867L20.93 367.574L20.67 367.574ZM9.2 370.796L10.33 370.796L10.33 370.916L9.2 370.916ZM20.67 370.796L21.4 370.796L21.4 370.916L20.67 370.916ZM12.32 233.133L12.58 233.133L10.33 370.856L10.07 370.856ZM18.52 233.133L18.78 233.133L20.93 370.856L20.67 370.856ZM9.2 374.078L10.33 374.078L10.33 374.198L9.2 374.198ZM20.67 374.078L21.4 374.078L21.4 374.198L20.67 374.198ZM12.32 233.4L12.58 233.4L10.33 374.138L10.07 374.138ZM18.52 233.4L18.78 233.4L20.93 374.138L20.67 374.138ZM9.2 377.36L10.33 377.36L10.33 377.48L9.2 377.48ZM20.67 377.36L21.4 377.36L21.4 377.48L20.67 377.48ZM12.32 235L12.58 235L10.33 377.42L10.07 377.42ZM18.52 235L18.78 235L20.93 377.42L20.67 377.42ZM9.2 380.642L10.33 380.642L10.33 380.762L9.2 380.762ZM20.67 380.642L21.4 380.642L21.4 380.762L20.67 380.762ZM12.32 235.229L12.58 235.229L10.33 380.702L10.07 380.702ZM18.52 235.229L18.78 235.229L20.93 380.702L20.67 380.702ZM9.2 383.924L10.33 383.924L10.33 384.044L9.2 384.044ZM20.67 383.924L21.4 383.924L21.4 384.044L20.67 384.044ZM12.32 235.457L12.58 235.457L10.33 383.984L10.07 383.984ZM18.52 235.457L18.78 235.457L20.93 383.984L20.67 383.984ZM9.2 387.206L10.33 387.206L10.33 387.326L9.2 387.326ZM20.67 387.206L21.4 387.206L21.4 387.326L20.67 387.326ZM12.32 235.686L12.58 235.686L10.33 387.266L10.07 387.266ZM18.52 235.686L18.78 235.686L20.93 387.266L20.67 387.266ZM9.2 390.488L10.33 390.488L10.33 390.608L9.2 390.608ZM20.67 390.488L21.4 390.488L21.4 390.608L20.67 390.608ZM12.32 235.914L12.58 235.914L10.33 390.548L10.07 390.548ZM18.52 235.914L18.78 235.914L20.93 390.548L20.67 390.548ZM9.2 393.77L10.33 393.77L10.33 393.89L9.2 393.89ZM20.67 393.77L21.4 393.77L21.4 393.89L20.67 393.89ZM12.32 236.143L12.58 236.143L10.33 393.83L10.07 393.83ZM18.52 236.143L18.78 236.143L20.93 393.83L20.67 393.83ZM9.2 397.052L10.33 397.052L10.33 397.172L9.2 397.172ZM20.67 397.052L21.4 397.052L21.4 397.172L20.67 397.172ZM12.32 236.371L12.58 236.371L10.33 397.112L10.07 397.112ZM18.52 236.371L18.78 236.371L20.93 397.112L20.67 397.112ZM9.2 400.334L10.33 400.334L10.33 400.454L9.2 400.454ZM20.67 400.334L21.4 400.334L21.4 400.454L20.67 400.454ZM12.32 236.6L12.58 236.6L10.33 400.394L10.07 400.394ZM18.52 236.6L18.78 236.6L20.93 400.394L20.67 400.394ZM9.2 403.616L10.33 403.616L10.33 403.736L9.2 403.736ZM20.67 403.616L21.4 403.616L21.4 403.736L20.67 403.736ZM12.32 245L12.58 245L10.33 403.676L10.07 403.676ZM18.52 245L18.78 245L20.93 403.676L20.67 403.676ZM9.2 406.898L10.33 406.898L10.33 407.018L9.2 407.018ZM20.67 406.898L21.4 406.898L21.4 407.018L20.67 407.018ZM12.32 250.5L12.58 250.5L10.33 406.958L10.07 406.958ZM18.52 250.5L18.78 250.5L20.93 406.958L20.67 406.958ZM9.2 410.18L10.33 410.18L10.33 410.3L9.2 410.3ZM20.67 410.18L21.4 410.18L21.4 410.3L20.67 410.3ZM12.32 250.5L12.58 250.5L10.33 410.24L10.07 410.24ZM18.52 250.5L18.78 250.5L20.93 410.24L20.67 410.24ZM9.2 413.462L10.33 413.462L10.33 413.582L9.2 413.582ZM20.67 413.462L21.4 413.462L21.4 413.582L20.67 413.582ZM12.32 255.2L12.58 255.2L10.33 413.522L10.07 413.522ZM18.52 255.2L18.78 255.2L20.93 413.522L20.67 413.522ZM9.2 416.744L10.33 416.744L10.33 416.864L9.2 416.864ZM20.67 416.744L21.4 416.744L21.4 416.864L20.67 416.864ZM12.32 255.3L12.58 255.3L10.33 416.804L10.07 416.804ZM18.52 255.3L18.78 255.3L20.93 416.804L20.67 416.804ZM9.2 420.026L10.33 420.026L10.33 420.146L9.2 420.146ZM20.67 420.026L21.4 420.026L21.4 420.146L20.67 420.146ZM12.32 255.4L12.58 255.4L10.33 420.086L10.07 420.086ZM18.52 255.4L18.78 255.4L20.93 420.086L20.67 420.086ZM9.2 423.308L10.33 423.308L10.33 423.428L9.2 423.428ZM20.67 423.308L21.4 423.308L21.4 423.428L20.67 423.428ZM12.32 261.3L12.58 261.3L10.33 423.368L10.07 423.368ZM18.52 261.3L18.78 261.3L20.93 423.368L20.67 423.368Z" fill="#000" stroke="none"/>
<g transform="scale(0.1)" text-rendering="geometricPrecision" font-family="'Liberation Sans',sans-serif" font-size="23" fill="#000" stroke="#000" stroke-width="0.4">
<text transform="translate(90 172.5) rotate(0.3)" text-anchor="end" textLength="36.14" lengthAdjust="spacingAndGlyphs">0.0</text>
<text transform="translate(224.5 172.5) rotate(0.3)" textLength="178" lengthAdjust="spacingAndGlyphs">AX-944603137</text>
<text transform="translate(90 205.32) rotate(0.3)" text-anchor="end" textLength="50.6" lengthAdjust="spacingAndGlyphs">60.3</text>
<text transform="translate(224.5 205.32) rotate(0.3)" textLength="178" lengthAdjust="spacingAndGlyphs">AX-110159010</text>
<text transform="translate(90 238.14) rotate(0.3)" text-anchor="end" textLength="50.6" lengthAdjust="spacingAndGlyphs">61.3</text>
<text transform="translate(224.5 238.14) rotate(0.3)" textLength="178" lengthAdjust="spacingAndGlyphs">AX-949281590</text>
<text transform="translate(90 270.96) rotate(0.3)" text-anchor="end" textLength="50.6" lengthAdjust="spacingAndGlyphs">62.0</text>
<text transform="translate(224.5 270.96) rotate(0.3)" textLength="178" lengthAdjust="spacingAndGlyphs">AX-109396245</text>
<text transform="translate(90 303.78) rotate(0.3)" text-anchor="end" textLength="50.6" lengthAdjust="spacingAndGlyphs">64.4</text>
<text transform="translate(224.5 303.78) rotate(0.3)" textLength="178" lengthAdjust="spacingAndGlyphs">AX-949571177</text>
<text transform="translate(90 336.6) rotate(0.3)" text-anchor="end" textLength="50.6" lengthAdjust="spacingAndGlyphs">65.0</text>
<text transform="translate(224.5 336.6) rotate(0.3)" textLength="178" lengthAdjust="spacingAndGlyphs">AX-108741215</text>
<text transform="translate(90 369.42) rotate(0.3)" text-anchor="end" textLength="50.6" lengthAdjust="spacingAndGlyphs">66.8</text>
<text transform="translate(224.5 369.42) rotate(0.3)" textLength="178" lengthAdjust="spacingAndGlyphs">AX-944472803</text>
<text transform="translate(90 402.24) rotate(0.3)" text-anchor="end" textLength="50.6" lengthAdjust="spacingAndGlyphs">67.9</text>
<text transform="translate(224.5 402.24) rotate(0.3)" textLength="178" lengthAdjust="spacingAndGlyphs">AX-949528084</text>
<text transform="translate(90 435.06) rotate(0.3)" text-anchor="end" textLength="50.6" lengthAdjust="spacingAndGlyphs">68.6</text>
<text transform="translate(224.5 435.06) rotate(0.3)" textLength="178" lengthAdjust="spacingAndGlyphs">AX-944148525</text>
<text transform="translate(90 467.88) rotate(0.3)" text-anchor="end" textLength="50.6" lengthAdjust="spacingAndGlyphs">70.2</text>
<text transform="translate(224.5 467.88) rotate(0.3)" textLength="178" lengthAdjust="spacingAndGlyphs">AX-110888539</text>
<text transform="translate(90 500.7) rotate(0.3)" text-anchor="end" textLength="50.6" lengthAdjust="spacingAndGlyphs">70.8</text>
<text transform="translate(224.5 500.7) rotate(0.3)" textLength="178" lengthAdjust="spacingAndGlyphs">AX-110363387</text>
<text transform="translate(90 533.52) rotate(0.3)" text-anchor="end" textLength="50.6" lengthAdjust="spacingAndGlyphs">72.2</text>
<text transform="translate(224.5 533.52) rotate(0.3)" textLength="178" lengthAdjust="spacingAndGlyphs">AX-111004743</text>
<text transform="translate(90 566.34) rotate(0.3)" text-anchor="end" textLength="50.6" lengthAdjust="spacingAndGlyphs">72.8</text>
<text transform="translate(224.5 566.34) rotate(0.3)" textLength="178" lengthAdjust="spacingAndGlyphs">AX-944957551</text>
<text transform="translate(90 599.16) rotate(0.3)" text-anchor="end" textLength="50.6" lengthAdjust="spacingAndGlyphs">73.5</text>
<text transform="translate(224.5 599.16) rotate(0.3)" textLength="178" lengthAdjust="spacingAndGlyphs">AX-110137353</text>
<text transform="translate(90 631.98) rotate(0.3)" text-anchor="end" textLength="50.6" lengthAdjust="spacingAndGlyphs">74.8</text>
<text transform="translate(224.5 631.98) rotate(0.3)" textLength="178" lengthAdjust="spacingAndGlyphs">AX-108990751</text>
<text transform="translate(90 664.8) rotate(0.3)" text-anchor="end" textLength="50.6" lengthAdjust="spacingAndGlyphs">78.2</text>
<text transform="translate(224.5 664.8) rotate(0.3)" textLength="178" lengthAdjust="spacingAndGlyphs">AX-944163726</text>
<text transform="translate(90 697.62) rotate(0.3)" text-anchor="end" textLength="50.6" lengthAdjust="spacingAndGlyphs">78.9</text>
<text transform="translate(224.5 697.62) rotate(0.3)" textLength="178" lengthAdjust="spacingAndGlyphs">AX-944516761</text>
<text transform="translate(90 730.44) rotate(0.3)" text-anchor="end" textLength="50.6" lengthAdjust="spacingAndGlyphs">79.7</text>
<text transform="translate(224.5 730.44) rotate(0.3)" textLength="178" lengthAdjust="spacingAndGlyphs">AX-944222029</text>
<text transform="translate(90 763.26) rotate(0.3)" text-anchor="end" textLength="50.6" lengthAdjust="spacingAndGlyphs">81.9</text>
<text transform="translate(224.5 763.26) rotate(0.3)" textLength="178" lengthAdjust="spacingAndGlyphs">AX-108299752</text>
<text transform="translate(90 796.08) rotate(0.3)" text-anchor="end" textLength="50.6" lengthAdjust="spacingAndGlyphs">86.2</text>
<text transform="translate(224.5 796.08) rotate(0.3)" textLength="178" lengthAdjust="spacingAndGlyphs">AX-949820018</text>
<text transform="translate(90 828.9) rotate(0.3)" text-anchor="end" textLength="50.6" lengthAdjust="spacingAndGlyphs">88.1</text>
<text transform="translate(224.5 828.9) rotate(0.3)" textLength="178" lengthAdjust="spacingAndGlyphs">AX-944263304</text>
<text transform="translate(90 861.72) rotate(0.3)" text-anchor="end" textLength="50.6" lengthAdjust="spacingAndGlyphs">89.4</text>
<text transform="translate(224.5 861.72) rotate(0.3)" textLength="178" lengthAdjust="spacingAndGlyphs">AX-110483954</text>
<text transform="translate(90 894.54) rotate(0.3)" text-anchor="end" textLength="50.6" lengthAdjust="spacingAndGlyphs">93.9</text>
<text transform="translate(224.5 894.54) rotate(0.3)" textLength="178" lengthAdjust="spacingAndGlyphs">AX-949620579</text>
<text transform="translate(90 927.36) rotate(0.3)" text-anchor="end" textLength="50.6" lengthAdjust="spacingAndGlyphs">94.5</text>
<text transform="translate(224.5 927.36) rotate(0.3)" textLength="178" lengthAdjust="spacingAndGlyphs">AX-949682828</text>
<text transform="translate(90 960.18) rotate(0.3)" text-anchor="end" textLength="50.6" lengthAdjust="spacingAndGlyphs">98.1</text>
<text transform="translate(224.5 960.18) rotate(0.3)" textLength="178" lengthAdjust="spacingAndGlyphs">AX-949072902</text>
<text transform="translate(90 993) rotate(0.3)" text-anchor="end" textLength="50.6" lengthAdjust="spacingAndGlyphs">99.0</text>
<text transform="translate(224.5 993) rotate(0.3)" textLength="178" lengthAdjust="spacingAndGlyphs">AX-110279180</text>
<text transform="translate(90 1025.82) rotate(0.3)" text-anchor="end" textLength="50.6" lengthAdjust="spacingAndGlyphs">99.7</text>
<text transform="translate(224.5 1025.82) rotate(0.3)" textLength="178" lengthAdjust="spacingAndGlyphs">AX-111888718</text>
<text transform="translate(90 1058.64) rotate(0.3)" text-anchor="end" textLength="65.05" lengthAdjust="spacingAndGlyphs">100.4</text>
<text transform="translate(224.5 1058.64) rotate(0.3)" textLength="178" lengthAdjust="spacingAndGlyphs">AX-109334018</text>
<text transform="translate(90 1091.46) rotate(0.3)" text-anchor="end" textLength="65.05" lengthAdjust="spacingAndGlyphs">102.6</text>
<text transform="translate(224.5 1091.46) rotate(0.3)" textLength="178" lengthAdjust="spacingAndGlyphs">AX-108801759</text>
<text transform="translate(90 1124.28) rotate(0.3)" text-anchor="end" textLength="65.05" lengthAdjust="spacingAndGlyphs">109.8</text>
<text transform="translate(224.5 1124.28) rotate(0.3)" textLength="178" lengthAdjust="spacingAndGlyphs">AX-949983478</text>
<text transform="translate(90 1157.1) rotate(0.3)" text-anchor="end" textLength="65.05" lengthAdjust="spacingAndGlyphs">111.4</text>
<text transform="translate(224.5 1157.1) rotate(0.3)" textLength="178" lengthAdjust="spacingAndGlyphs">AX-949783848</text>
<text transform="translate(90 1189.92) rotate(0.3)" text-anchor="end" textLength="65.05" lengthAdjust="spacingAndGlyphs">115.7</text>
<text transform="translate(224.5 1189.92) rotate(0.3)" textLength="178" lengthAdjust="spacingAndGlyphs">AX-110726167</text>
<text transform="translate(90 1222.74) rotate(0.3)" text-anchor="end" textLength="65.05" lengthAdjust="spacingAndGlyphs">120.7</text>
<text transform="translate(224.5 1222.74) rotate(0.3)" textLength="178" lengthAdjust="spacingAndGlyphs">AX-111136134</text>
<text transform="translate(90 1255.56) rotate(0.3)" text-anchor="end" textLength="65.05" lengthAdjust="spacingAndGlyphs">123.2</text>
<text transform="translate(224.5 1255.56) rotate(0.3)" textLength="178" lengthAdjust="spacingAndGlyphs">AX-109252427</text>
<text transform="translate(90 1288.38) rotate(0.3)" text-anchor="end" textLength="65.05" lengthAdjust="spacingAndGlyphs">127.2</text>
<text transform="translate(224.5 1288.38) rotate(0.3)" textLength="178" lengthAdjust="spacingAndGlyphs">AX-110167232</text>
<text transform="translate(90 1321.2) rotate(0.3)" text-anchor="end" textLength="65.05" lengthAdjust="spacingAndGlyphs">128.6</text>
<text transform="translate(224.5 1321.2) rotate(0.3)" textLength="178" lengthAdjust="spacingAndGlyphs">AX-944686563</text>
<text transform="translate(90 1354.02) rotate(0.3)" text-anchor="end" textLength="65.05" lengthAdjust="spacingAndGlyphs">129.9</text>
<text transform="translate(224.5 1354.02) rotate(0.3)" textLength="178" lengthAdjust="spacingAndGlyphs">AX-111515058</text>
<text transform="translate(90 1386.84) rotate(0.3)" text-anchor="end" textLength="65.05" lengthAdjust="spacingAndGlyphs">131.6</text>
<text transform="translate(224.5 1386.84) rotate(0.3)" textLength="178" lengthAdjust="spacingAndGlyphs">AX-108706589</text>
<text transform="translate(90 1419.66) rotate(0.3)" text-anchor="end" textLength="65.05" lengthAdjust="spacingAndGlyphs">137.0</text>
<text transform="translate(224.5 1419.66) rotate(0.3)" textLength="178" lengthAdjust="spacingAndGlyphs">AX-111811311</text>
<text transform="translate(90 1452.48) rotate(0.3)" text-anchor="end" textLength="65.05" lengthAdjust="spacingAndGlyphs">140.0</text>
<text transform="translate(224.5 1452.48) rotate(0.3)" textLength="178" lengthAdjust="spacingAndGlyphs">AX-111402426</text>
<text transform="translate(90 1485.3) rotate(0.3)" text-anchor="end" textLength="65.05" lengthAdjust="spacingAndGlyphs">142.2</text>
<text transform="translate(224.5 1485.3) rotate(0.3)" textLength="178" lengthAdjust="spacingAndGlyphs">AX-944462889</text>
<text transform="translate(90 1518.12) rotate(0.3)" text-anchor="end" textLength="65.05" lengthAdjust="spacingAndGlyphs">146.5</text>
<text transform="translate(224.5 1518.12) rotate(0.3)" textLength="178" lengthAdjust="spacingAndGlyphs">AX-108514026</text>
<text transform="translate(90 1550.94) rotate(0.3)" text-anchor="end" textLength="65.05" lengthAdjust="spacingAndGlyphs">149.7</text>
<text transform="translate(224.5 1550.94) rotate(0.3)" textLength="372" lengthAdjust="spacingAndGlyphs">AX-109401419 AX-110141705</text>
<text transform="translate(90 1583.76) rotate(0.3)" text-anchor="end" textLength="65.05" lengthAdjust="spacingAndGlyphs">151.8</text>
<text transform="translate(224.5 1583.76) rotate(0.3)" textLength="178" lengthAdjust="spacingAndGlyphs">AX-949649208</text>
<text transform="translate(90 1616.58) rotate(0.3)" text-anchor="end" textLength="65.05" lengthAdjust="spacingAndGlyphs">158.7</text>
<text transform="translate(224.5 1616.58) rotate(0.3)" textLength="178" lengthAdjust="spacingAndGlyphs">AX-944312402</text>
<text transform="translate(90 1649.4) rotate(0.3)" text-anchor="end" textLength="65.05" lengthAdjust="spacingAndGlyphs">164.4</text>
<text transform="translate(224.5 1649.4) rotate(0.3)" textLength="178" lengthAdjust="spacingAndGlyphs">AX-110448347</text>
<text transform="translate(90 1682.22) rotate(0.3)" text-anchor="end" textLength="65.05" lengthAdjust="spacingAndGlyphs">166.2</text>
<text transform="translate(224.5 1682.22) rotate(0.3)" textLength="178" lengthAdjust="spacingAndGlyphs">AX-949245040</text>
<text transform="translate(90 1715.04) rotate(0.3)" text-anchor="end" textLength="65.05" lengthAdjust="spacingAndGlyphs">170.5</text>
<text transform="translate(224.5 1715.04) rotate(0.3)" textLength="178" lengthAdjust="spacingAndGlyphs">AX-109088387</text>
<text transform="translate(90 1747.86) rotate(0.3)" text-anchor="end" textLength="65.05" lengthAdjust="spacingAndGlyphs">174.2</text>
<text transform="translate(224.5 1747.86) rotate(0.3)" textLength="178" lengthAdjust="spacingAndGlyphs">AX-110716786</text>
<text transform="translate(90 1780.68) rotate(0.3)" text-anchor="end" textLength="65.05" lengthAdjust="spacingAndGlyphs">182.3</text>
<text transform="translate(224.5 1780.68) rotate(0.3)" textLength="178" lengthAdjust="spacingAndGlyphs">AX-949433532</text>
<text transform="translate(90 1813.5) rotate(0.3)" text-anchor="end" textLength="65.05" lengthAdjust="spacingAndGlyphs">188.4</text>
<text transform="translate(224.5 1813.5) rotate(0.3)" textLength="178" lengthAdjust="spacingAndGlyphs">AX-108502014</text>
<text transform="translate(90 1846.32) rotate(0.3)" text-anchor="end" textLength="65.05" lengthAdjust="spacingAndGlyphs">190.4</text>
<text transform="translate(224.5 1846.32) rotate(0.3)" textLength="178" lengthAdjust="spacingAndGlyphs">AX-108201684</text>
<text transform="translate(90 1879.14) rotate(0.3)" text-anchor="end" textLength="65.05" lengthAdjust="spacingAndGlyphs">200.3</text>
<text transform="translate(224.5 1879.14) rotate(0.3)" textLength="178" lengthAdjust="spacingAndGlyphs">AX-949340722</text>
<text transform="translate(90 1911.96) rotate(0.3)" text-anchor="end" textLength="65.05" lengthAdjust="spacingAndGlyphs">201.7</text>
<text transform="translate(224.5 1911.96) rotate(0.3)" textLength="178" lengthAdjust="spacingAndGlyphs">AX-111704558</text>
<text transform="translate(90 1944.78) rotate(0.3)" text-anchor="end" textLength="65.05" lengthAdjust="spacingAndGlyphs">204.6</text>
<text transform="translate(224.5 1944.78) rotate(0.3)" textLength="178" lengthAdjust="spacingAndGlyphs">AX-111304352</text>
<text transform="translate(90 1977.6) rotate(0.3)" text-anchor="end" textLength="65.05" lengthAdjust="spacingAndGlyphs">211.0</text>
<text transform="translate(224.5 1977.6) rotate(0.3)" textLength="178" lengthAdjust="spacingAndGlyphs">AX-109561748</text>
<text transform="translate(90 2010.42) rotate(0.3)" text-anchor="end" textLength="65.05" lengthAdjust="spacingAndGlyphs">212.5</text>
<text transform="translate(224.5 2010.42) rotate(0.3)" textLength="178" lengthAdjust="spacingAndGlyphs">AX-944338014</text>
<text transform="translate(90 2043.24) rotate(0.3)" text-anchor="end" textLength="65.05" lengthAdjust="spacingAndGlyphs">215.9</text>
<text transform="translate(224.5 2043.24) rotate(0.3)" textLength="178" lengthAdjust="spacingAndGlyphs">AX-109269060</text>
<text transform="translate(90 2076.06) rotate(0.3)" text-anchor="end" textLength="65.05" lengthAdjust="spacingAndGlyphs">217.3</text>
<text transform="translate(224.5 2076.06) rotate(0.3)" textLength="178" lengthAdjust="spacingAndGlyphs">AX-111431982</text>
<text transform="translate(90 2108.88) rotate(0.3)" text-anchor="end" textLength="65.05" lengthAdjust="spacingAndGlyphs">222.6</text>
<text transform="translate(224.5 2108.88) rotate(0.3)" textLength="178" lengthAdjust="spacingAndGlyphs">AX-944965724</text>
<text transform="translate(90 2141.7) rotate(0.3)" text-anchor="end" textLength="65.05" lengthAdjust="spacingAndGlyphs">229.1</text>
<text transform="translate(224.5 2141.7) rotate(0.3)" textLength="178" lengthAdjust="spacingAndGlyphs">AX-944920868</text>
<text transform="translate(90 2174.52) rotate(0.3)" text-anchor="end" textLength="65.05" lengthAdjust="spacingAndGlyphs">233.3</text>
<text transform="translate(224.5 2174.52) rotate(0.3)" textLength="178" lengthAdjust="spacingAndGlyphs">AX-110889093</text>
<text transform="translate(90 2207.34) rotate(0.3)" text-anchor="end" textLength="65.05" lengthAdjust="spacingAndGlyphs">241.4</text>
<text transform="translate(224.5 2207.34) rotate(0.3)" textLength="178" lengthAdjust="spacingAndGlyphs">AX-109002516</text>
<text transform="translate(90 2240.16) rotate(0.3)" text-anchor="end" textLength="65.05" lengthAdjust="spacingAndGlyphs">243.6</text>
<text transform="translate(224.5 2240.16) rotate(0.3)" textLength="178" lengthAdjust="spacingAndGlyphs">AX-108800837</text>
<text transform="translate(90 2272.98) rotate(0.3)" text-anchor="end" textLength="65.05" lengthAdjust="spacingAndGlyphs">249.2</text>
<text transform="translate(224.5 2272.98) rotate(0.3)" textLength="178" lengthAdjust="spacingAndGlyphs">AX-111071881</text>
<text transform="translate(90 2305.8) rotate(0.3)" text-anchor="end" textLength="65.05" lengthAdjust="spacingAndGlyphs">253.7</text>
<text transform="translate(224.5 2305.8) rotate(0.3)" textLength="178" lengthAdjust="spacingAndGlyphs">AX-944817414</text>
<text transform="translate(90 2338.62) rotate(0.3)" text-anchor="end" textLength="65.05" lengthAdjust="spacingAndGlyphs">258.0</text>
<text transform="translate(224.5 2338.62) rotate(0.3)" textLength="178" lengthAdjust="spacingAndGlyphs">AX-110337761</text>
<text transform="translate(90 2371.44) rotate(0.3)" text-anchor="end" textLength="65.05" lengthAdjust="spacingAndGlyphs">261.1</text>
<text transform="translate(224.5 2371.44) rotate(0.3)" textLength="178" lengthAdjust="spacingAndGlyphs">AX-108409319</text>
<text transform="translate(90 2404.26) rotate(0.3)" text-anchor="end" textLength="65.05" lengthAdjust="spacingAndGlyphs">268.7</text>
<text transform="translate(224.5 2404.26) rotate(0.3)" textLength="178" lengthAdjust="spacingAndGlyphs">AX-110544992</text>
<text transform="translate(90 2437.08) rotate(0.3)" text-anchor="end" textLength="65.05" lengthAdjust="spacingAndGlyphs">277.9</text>
<text transform="translate(224.5 2437.08) rotate(0.3)" textLength="178" lengthAdjust="spacingAndGlyphs">AX-109707413</text>
<text transform="translate(90 2469.9) rotate(0.3)" text-anchor="end" textLength="65.05" lengthAdjust="spacingAndGlyphs">281.2</text>
<text transform="translate(224.5 2469.9) rotate(0.3)" textLength="178" lengthAdjust="spacingAndGlyphs">AX-944748477</text>
<text transform="translate(90 2502.72) rotate(0.3)" text-anchor="end" textLength="65.05" lengthAdjust="spacingAndGlyphs">286.5</text>
<text transform="translate(224.5 2502.72) rotate(0.3)" textLength="178" lengthAdjust="spacingAndGlyphs">AX-108183417</text>
<text transform="translate(90 2535.54) rotate(0.3)" text-anchor="end" textLength="65.05" lengthAdjust="spacingAndGlyphs">287.8</text>
<text transform="translate(224.5 2535.54) rotate(0.3)" textLength="178" lengthAdjust="spacingAndGlyphs">AX-109471874</text>
<text transform="translate(90 2568.36) rotate(0.3)" text-anchor="end" textLength="65.05" lengthAdjust="spacingAndGlyphs">293.5</text>
<text transform="translate(224.5 2568.36) rotate(0.3)" textLength="178" lengthAdjust="spacingAndGlyphs">AX-108331912</text>
<text transform="translate(90 2601.18) rotate(0.3)" text-anchor="end" textLength="65.05" lengthAdjust="spacingAndGlyphs">298.5</text>
<text transform="translate(224.5 2601.18) rotate(0.3)" textLength="178" lengthAdjust="spacingAndGlyphs">AX-944845298</text>
<text transform="translate(90 2634) rotate(0.3)" text-anchor="end" textLength="65.05" lengthAdjust="spacingAndGlyphs">308.6</text>
<text transform="translate(224.5 2634) rotate(0.3)" textLength="178" lengthAdjust="spacingAndGlyphs">AX-111153776</text>
<text transform="translate(90 2666.82) rotate(0.3)" text-anchor="end" textLength="65.05" lengthAdjust="spacingAndGlyphs">315.9</text>
<text transform="translate(224.5 2666.82) rotate(0.3)" textLength="178" lengthAdjust="spacingAndGlyphs">AX-109207764</text>
<text transform="translate(90 2699.64) rotate(0.3)" text-anchor="end" textLength="65.05" lengthAdjust="spacingAndGlyphs">317.9</text>
<text transform="translate(224.5 2699.64) rotate(0.3)" textLength="178" lengthAdjust="spacingAndGlyphs">AX-944265651</text>
<text transform="translate(90 2732.46) rotate(0.3)" text-anchor="end" textLength="65.05" lengthAdjust="spacingAndGlyphs">320.6</text>
<text transform="translate(224.5 2732.46) rotate(0.3)" textLength="178" lengthAdjust="spacingAndGlyphs">AX-111055613</text>
<text transform="translate(90 2765.28) rotate(0.3)" text-anchor="end" textLength="65.05" lengthAdjust="spacingAndGlyphs">325.8</text>
<text transform="translate(224.5 2765.28) rotate(0.3)" textLength="178" lengthAdjust="spacingAndGlyphs">AX-944044516</text>
<text transform="translate(90 2798.1) rotate(0.3)" text-anchor="end" textLength="65.05" lengthAdjust="spacingAndGlyphs">327.2</text>
<text transform="translate(224.5 2798.1) rotate(0.3)" textLength="178" lengthAdjust="spacingAndGlyphs">AX-108915640</text>
<text transform="translate(90 2830.92) rotate(0.3)" text-anchor="end" textLength="65.05" lengthAdjust="spacingAndGlyphs">330.4</text>
<text transform="translate(224.5 2830.92) rotate(0.3)" textLength="178" lengthAdjust="spacingAndGlyphs">AX-111104234</text>
<text transform="translate(90 2863.74) rotate(0.3)" text-anchor="end" textLength="65.05" lengthAdjust="spacingAndGlyphs">332.0</text>
<text transform="translate(224.5 2863.74) rotate(0.3)" textLength="178" lengthAdjust="spacingAndGlyphs">AX-108853560</text>
<text transform="translate(90 2896.56) rotate(0.3)" text-anchor="end" textLength="65.05" lengthAdjust="spacingAndGlyphs">333.4</text>
<text transform="translate(224.5 2896.56) rotate(0.3)" textLength="178" lengthAdjust="spacingAndGlyphs">AX-944688310</text>
<text transform="translate(90 2929.38) rotate(0.3)" text-anchor="end" textLength="65.05" lengthAdjust="spacingAndGlyphs">334.8</text>
<text transform="translate(224.5 2929.38) rotate(0.3)" textLength="178" lengthAdjust="spacingAndGlyphs">AX-944679247</text>
<text transform="translate(90 2962.2) rotate(0.3)" text-anchor="end" textLength="65.05" lengthAdjust="spacingAndGlyphs">341.3</text>
<text transform="translate(224.5 2962.2) rotate(0.3)" textLength="178" lengthAdjust="spacingAndGlyphs">AX-109822765</text>
<text transform="translate(90 2995.02) rotate(0.3)" text-anchor="end" textLength="65.05" lengthAdjust="spacingAndGlyphs">342.8</text>
<text transform="translate(224.5 2995.02) rotate(0.3)" textLength="178" lengthAdjust="spacingAndGlyphs">AX-111444634</text>
<text transform="translate(90 3027.84) rotate(0.3)" text-anchor="end" textLength="65.05" lengthAdjust="spacingAndGlyphs">344.7</text>
<text transform="translate(224.5 3027.84) rotate(0.3)" textLength="178" lengthAdjust="spacingAndGlyphs">AX-108861221</text>
<text transform="translate(90 3060.66) rotate(0.3)" text-anchor="end" textLength="65.05" lengthAdjust="spacingAndGlyphs">347.3</text>
<text transform="translate(224.5 3060.66) rotate(0.3)" textLength="178" lengthAdjust="spacingAndGlyphs">AX-110878375</text>
<text transform="translate(90 3093.48) rotate(0.3)" text-anchor="end" textLength="65.05" lengthAdjust="spacingAndGlyphs">355.4</text>
<text transform="translate(224.5 3093.48) rotate(0.3)" textLength="178" lengthAdjust="spacingAndGlyphs">AX-108628331</text>
<text transform="translate(90 3126.3) rotate(0.3)" text-anchor="end" textLength="65.05" lengthAdjust="spacingAndGlyphs">356.8</text>
<text transform="translate(224.5 3126.3) rotate(0.3)" textLength="178" lengthAdjust="spacingAndGlyphs">AX-110581535</text>
<text transform="translate(90 3159.12) rotate(0.3)" text-anchor="end" textLength="65.05" lengthAdjust="spacingAndGlyphs">359.9</text>
<text transform="translate(224.5 3159.12) rotate(0.3)" textLength="178" lengthAdjust="spacingAndGlyphs">AX-111930666</text>
<text transform="translate(90 3191.94) rotate(0.3)" text-anchor="end" textLength="65.05" lengthAdjust="spacingAndGlyphs">363.9</text>
<text transform="translate(224.5 3191.94) rotate(0.3)" textLength="372" lengthAdjust="spacingAndGlyphs">AX-944836450 AX-108495288</text>
<text transform="translate(90 3224.76) rotate(0.3)" text-anchor="end" textLength="65.05" lengthAdjust="spacingAndGlyphs">372.1</text>
<text transform="translate(224.5 3224.76) rotate(0.3)" textLength="178" lengthAdjust="spacingAndGlyphs">AX-944314366</text>
<text transform="translate(90 3257.58) rotate(0.3)" text-anchor="end" textLength="65.05" lengthAdjust="spacingAndGlyphs">379.4</text>
<text transform="translate(224.5 3257.58) rotate(0.3)" textLength="178" lengthAdjust="spacingAndGlyphs">AX-944764020</text>
<text transform="translate(90 3290.4) rotate(0.3)" text-anchor="end" textLength="65.05" lengthAdjust="spacingAndGlyphs">387.3</text>
<text transform="translate(224.5 3290.4) rotate(0.3)" textLength="178" lengthAdjust="spacingAndGlyphs">AX-108797016</text>
<text transform="translate(90 3323.22) rotate(0.3)" text-anchor="end" textLength="65.05" lengthAdjust="spacingAndGlyphs">389.3</text>
<text transform="translate(224.5 3323.22) rotate(0.3)" textLength="178" lengthAdjust="spacingAndGlyphs">AX-949773132</text>
<text transform="translate(90 3356.04) rotate(0.3)" text-anchor="end" textLength="65.05" lengthAdjust="spacingAndGlyphs">392.2</text>
<text transform="translate(224.5 3356.04) rotate(0.3)" textLength="178" lengthAdjust="spacingAndGlyphs">AX-110817180</text>
<text transform="translate(90 3388.86) rotate(0.3)" text-anchor="end" textLength="65.05" lengthAdjust="spacingAndGlyphs">394.6</text>
<text transform="translate(224.5 3388.86) rotate(0.3)" textLength="178" lengthAdjust="spacingAndGlyphs">AX-109239042</text>
<text transform="translate(90 3421.68) rotate(0.3)" text-anchor="end" textLength="65.05" lengthAdjust="spacingAndGlyphs">402.9</text>
<text transform="translate(224.5 3421.68) rotate(0.3)" textLength="178" lengthAdjust="spacingAndGlyphs">AX-944486111</text>
<text transform="translate(90 3454.5) rotate(0.3)" text-anchor="end" textLength="65.05" lengthAdjust="spacingAndGlyphs">412.3</text>
<text transform="translate(224.5 3454.5) rotate(0.3)" textLength="178" lengthAdjust="spacingAndGlyphs">AX-111893643</text>
<text transform="translate(90 3487.32) rotate(0.3)" text-anchor="end" textLength="65.05" lengthAdjust="spacingAndGlyphs">413.8</text>
<text transform="translate(224.5 3487.32) rotate(0.3)" textLength="178" lengthAdjust="spacingAndGlyphs">AX-949008474</text>
<text transform="translate(90 3520.14) rotate(0.3)" text-anchor="end" textLength="65.05" lengthAdjust="spacingAndGlyphs">415.4</text>
<text transform="translate(224.5 3520.14) rotate(0.3)" textLength="178" lengthAdjust="spacingAndGlyphs">AX-111378383</text>
<text transform="translate(90 3552.96) rotate(0.3)" text-anchor="end" textLength="65.05" lengthAdjust="spacingAndGlyphs">417.2</text>
<text transform="translate(224.5 3552.96) rotate(0.3)" textLength="178" lengthAdjust="spacingAndGlyphs">AX-109640037</text>
<text transform="translate(90 3585.78) rotate(0.3)" text-anchor="end" textLength="65.05" lengthAdjust="spacingAndGlyphs">419.1</text>
<text transform="translate(224.5 3585.78) rotate(0.3)" textLength="178" lengthAdjust="spacingAndGlyphs">AX-944614365</text>
<text transform="translate(90 3618.6) rotate(0.3)" text-anchor="end" textLength="65.05" lengthAdjust="spacingAndGlyphs">422.5</text>
<text transform="translate(224.5 3618.6) rotate(0.3)" textLength="178" lengthAdjust="spacingAndGlyphs">AX-110705656</text>
<text transform="translate(90 3651.42) rotate(0.3)" text-anchor="end" textLength="65.05" lengthAdjust="spacingAndGlyphs">426.9</text>
<text transform="translate(224.5 3651.42) rotate(0.3)" textLength="178" lengthAdjust="spacingAndGlyphs">AX-110048137</text>
<text transform="translate(90 3684.24) rotate(0.3)" text-anchor="end" textLength="65.05" lengthAdjust="spacingAndGlyphs">428.8</text>
<text transform="translate(224.5 3684.24) rotate(0.3)" textLength="178" lengthAdjust="spacingAndGlyphs">AX-110433734</text>
<text transform="translate(90 3717.06) rotate(0.3)" text-anchor="end" textLength="65.05" lengthAdjust="spacingAndGlyphs">430.1</text>
<text transform="translate(224.5 3717.06) rotate(0.3)" textLength="178" lengthAdjust="spacingAndGlyphs">AX-111197923</text>
<text transform="translate(90 3749.88) rotate(0.3)" text-anchor="end" textLength="65.05" lengthAdjust="spacingAndGlyphs">433.0</text>
<text transform="translate(224.5 3749.88) rotate(0.3)" textLength="178" lengthAdjust="spacingAndGlyphs">AX-108609260</text>
<text transform="translate(90 3782.7) rotate(0.3)" text-anchor="end" textLength="65.05" lengthAdjust="spacingAndGlyphs">435.5</text>
<text transform="translate(224.5 3782.7) rotate(0.3)" textLength="178" lengthAdjust="spacingAndGlyphs">AX-110092600</text>
<text transform="translate(90 3815.52) rotate(0.3)" text-anchor="end" textLength="65.05" lengthAdjust="spacingAndGlyphs">439.7</text>
<text transform="translate(224.5 3815.52) rotate(0.3)" textLength="178" lengthAdjust="spacingAndGlyphs">AX-110675112</text>
<text transform="translate(90 3848.34) rotate(0.3)" text-anchor="end" textLength="65.05" lengthAdjust="spacingAndGlyphs">449.1</text>
<text transform="translate(224.5 3848.34) rotate(0.3)" textLength="178" lengthAdjust="spacingAndGlyphs">AX-111328704</text>
<text transform="translate(90 3881.16) rotate(0.3)" text-anchor="end" textLength="65.05" lengthAdjust="spacingAndGlyphs">454.6</text>
<text transform="translate(224.5 3881.16) rotate(0.3)" textLength="372" lengthAdjust="spacingAndGlyphs">AX-944655721 AX-109141561</text>
<text transform="translate(90 3913.98) rotate(0.3)" text-anchor="end" textLength="65.05" lengthAdjust="spacingAndGlyphs">458.3</text>
<text transform="translate(224.5 3913.98) rotate(0.3)" textLength="178" lengthAdjust="spacingAndGlyphs">AX-949365461</text>
<text transform="translate(90 3946.8) rotate(0.3)" text-anchor="end" textLength="65.05" lengthAdjust="spacingAndGlyphs">463.0</text>
<text transform="translate(224.5 3946.8) rotate(0.3)" textLength="178" lengthAdjust="spacingAndGlyphs">AX-109735873</text>
<text transform="translate(90 3979.62) rotate(0.3)" text-anchor="end" textLength="65.05" lengthAdjust="spacingAndGlyphs">468.4</text>
<text transform="translate(224.5 3979.62) rotate(0.3)" textLength="372" lengthAdjust="spacingAndGlyphs">AX-111570636 AX-109607104</text>
<text transform="translate(90 4012.44) rotate(0.3)" text-anchor="end" textLength="65.05" lengthAdjust="spacingAndGlyphs">469.7</text>
<text transform="translate(224.5 4012.44) rotate(0.3)" textLength="178" lengthAdjust="spacingAndGlyphs">AX-110195545</text>
<text transform="translate(90 4045.26) rotate(0.3)" text-anchor="end" textLength="65.05" lengthAdjust="spacingAndGlyphs">478.2</text>
<text transform="translate(224.5 4045.26) rotate(0.3)" textLength="178" lengthAdjust="spacingAndGlyphs">AX-949045440</text>
<text transform="translate(90 4078.08) rotate(0.3)" text-anchor="end" textLength="65.05" lengthAdjust="spacingAndGlyphs">484.9</text>
<text transform="translate(224.5 4078.08) rotate(0.3)" textLength="178" lengthAdjust="spacingAndGlyphs">AX-944910317</text>
<text transform="translate(90 4110.9) rotate(0.3)" text-anchor="end" textLength="65.05" lengthAdjust="spacingAndGlyphs">493.0</text>
<text transform="translate(224.5 4110.9) rotate(0.3)" textLength="178" lengthAdjust="spacingAndGlyphs">AX-944764672</text>
<text transform="translate(90 4143.72) rotate(0.3)" text-anchor="end" textLength="65.05" lengthAdjust="spacingAndGlyphs">500.0</text>
<text transform="translate(224.5 4143.72) rotate(0.3)" textLength="178" lengthAdjust="spacingAndGlyphs">AX-108204293</text>
<text transform="translate(90 4176.54) rotate(0.3)" text-anchor="end" textLength="65.05" lengthAdjust="spacingAndGlyphs">502.6</text>
<text transform="translate(224.5 4176.54) rotate(0.3)" textLength="178" lengthAdjust="spacingAndGlyphs">AX-111575918</text>
<text transform="translate(90 4209.36) rotate(0.3)" text-anchor="end" textLength="65.05" lengthAdjust="spacingAndGlyphs">505.4</text>
<text transform="translate(224.5 4209.36) rotate(0.3)" textLength="178" lengthAdjust="spacingAndGlyphs">AX-110623610</text>
<text transform="translate(90 4242.18) rotate(0.3)" text-anchor="end" textLength="65.05" lengthAdjust="spacingAndGlyphs">506.8</text>
<text transform="translate(224.5 4242.18) rotate(0.3)" textLength="178" lengthAdjust="spacingAndGlyphs">AX-108885261</text>
</g>
</g>
<g>
<text x="133.7" y="9.7" font-family="'Liberation Serif',serif" font-weight="bold" font-size="7.5" text-anchor="middle">2A</text>
<path d="M131.1 161.5 A2.9 2.9 0 0 1 136.9 161.5 L136.9 190.5 L136.9 192.7 L136.9 194.9 L136.9 227.7 A2.9 2.9 0 0 1 131.1 227.7 L131.1 194.9 L131.1 192.7 L131.1 190.5 Z" fill="#fff" stroke="#000" stroke-width="0.2"/>
<path d="M131.1 161.46L136.9 161.46L136.9 161.74L131.1 161.74ZM131.1 175.86L136.9 175.86L136.9 176.14L131.1 176.14ZM131.1 177.86L136.9 177.86L136.9 178.14L131.1 178.14ZM131.1 180.46L136.9 180.46L136.9 180.74L131.1 180.74ZM131.1 180.96L136.9 180.96L136.9 181.24L131.1 181.24ZM131.1 181.46L136.9 181.46L136.9 181.74L131.1 181.74ZM131.1 183.16L136.9 183.16L136.9 183.44L131.1 183.44ZM131.1 187.86L136.9 187.86L136.9 188.14L131.1 188.14ZM131.1 190.26L136.9 190.26L136.9 190.54L131.1 190.54ZM131.1 190.48L136.9 190.48L136.9 190.76L131.1 190.76ZM131.1 190.7L136.9 190.7L136.9 190.98L131.1 190.98ZM131.1 190.92L136.9 190.92L136.9 191.2L131.1 191.2ZM131.1 191.14L136.9 191.14L136.9 191.42L131.1 191.42ZM131.1 191.36L136.9 191.36L136.9 191.64L131.1 191.64ZM131.1 191.58L136.9 191.58L136.9 191.86L131.1 191.86ZM131.1 191.8L136.9 191.8L136.9 192.08L131.1 192.08ZM131.1 192.02L136.9 192.02L136.9 192.3L131.1 192.3ZM131.1 192.24L136.9 192.24L136.9 192.52L131.1 192.52ZM131.1 192.46L136.9 192.46L136.9 192.74L131.1 192.74ZM131.1 192.66L136.9 192.66L136.9 192.94L131.1 192.94ZM131.1 193.06L136.9 193.06L136.9 193.34L131.1 193.34ZM131.1 193.46L136.9 193.46L136.9 193.74L131.1 193.74ZM131.1 193.86L136.9 193.86L136.9 194.14L131.1 194.14ZM131.1 199.66L136.9 199.66L136.9 199.94L131.1 199.94ZM131.1 200.91L136.9 200.91L136.9 201.19L131.1 201.19ZM131.1 202.16L136.9 202.16L136.9 202.44L131.1 202.44ZM131.1 205.26L136.9 205.26L136.9 205.54L131.1 205.54ZM131.1 207.86L136.9 207.86L136.9 208.14L131.1 208.14ZM131.1 211.16L136.9 211.16L136.9 211.44L131.1 211.44ZM131.1 211.96L136.9 211.96L136.9 212.24L131.1 212.24ZM131.1 212.76L136.9 212.76L136.9 213.04L131.1 213.04ZM131.1 213.56L136.9 213.56L136.9 213.84L131.1 213.84ZM131.1 214.36L136.9 214.36L136.9 214.64L131.1 214.64ZM131.1 215.16L136.9 215.16L136.9 215.44L131.1 215.44ZM131.1 216.16L136.9 216.16L136.9 216.44L131.1 216.44ZM131.1 219.96L136.9 219.96L136.9 220.24L131.1 220.24ZM131.1 220.36L136.9 220.36L136.9 220.64L131.1 220.64ZM131.1 223.26L136.9 223.26L136.9 223.54L131.1 223.54ZM131.1 225.21L136.9 225.21L136.9 225.49L131.1 225.49ZM131.1 227.16L136.9 227.16L136.9 227.44L131.1 227.44ZM131.1 229.86L136.9 229.86L136.9 230.14L131.1 230.14Z" fill="#000" stroke="none"/>
<path d="M127.6 128.84L128.73 128.84L128.73 128.96L127.6 128.96ZM138.87 128.84L139.6 128.84L139.6 128.96L138.87 128.96ZM128.47 128.9L128.73 128.9L131.18 161.6L130.92 161.6ZM138.87 128.9L139.13 128.9L137.08 161.6L136.82 161.6ZM127.6 132.122L128.73 132.122L128.73 132.242L127.6 132.242ZM138.87 132.122L139.6 132.122L139.6 132.242L138.87 132.242ZM128.47 132.182L128.73 132.182L131.18 176L130.92 176ZM138.87 132.182L139.13 132.182L137.08 176L136.82 176ZM127.6 135.404L128.73 135.404L128.73 135.524L127.6 135.524ZM138.87 135.404L139.6 135.404L139.6 135.524L138.87 135.524ZM128.47 135.464L128.73 135.464L131.18 178L130.92 178ZM138.87 135.464L139.13 135.464L137.08 178L136.82 178ZM127.6 138.686L128.73 138.686L128.73 138.806L127.6 138.806ZM138.87 138.686L139.6 138.686L139.6 138.806L138.87 138.806ZM128.47 138.746L128.73 138.746L131.18 180.6L130.92 180.6ZM138.87 138.746L139.13 138.746L137.08 180.6L136.82 180.6ZM127.6 141.968L128.73 141.968L128.73 142.088L127.6 142.088ZM138.87 141.968L139.6 141.968L139.6 142.088L138.87 142.088ZM128.47 142.028L128.73 142.028L131.18 181.1L130.92 181.1ZM138.87 142.028L139.13 142.028L137.08 181.1L136.82 181.1ZM127.6 145.25L128.73 145.25L128.73 145.37L127.6 145.37ZM138.87 145.25L139.6 145.25L139.6 145.37L138.87 145.37ZM128.47 145.31L128.73 145.31L131.18 181.6L130.92 181.6ZM138.87 145.31L139.13 145.31L137.08 181.6L136.82 181.6ZM127.6 148.532L128.73 148.532L128.73 148.652L127.6 148.652ZM138.87 148.532L139.6 148.532L139.6 148.652L138.87 148.652ZM128.47 148.592L128.73 148.592L131.18 183.3L130.92 183.3ZM138.87 148.592L139.13 148.592L137.08 183.3L136.82 183.3ZM127.6 151.814L128.73 151.814L128.73 151.934L127.6 151.934ZM138.87 151.814L139.6 151.814L139.6 151.934L138.87 151.934ZM128.47 151.874L128.73 151.874L131.18 188L130.92 188ZM138.87 151.874L139.13 151.874L137.08 188L136.82 188ZM127.6 155.096L128.73 155.096L128.73 155.216L127.6 155.216ZM138.87 155.096L139.6 155.096L139.6 155.216L138.87 155.216ZM128.47 155.156L128.73 155.156L131.18 190.4L130.92 190.4ZM138.87 155.156L139.13 155.156L137.08 190.4L136.82 190.4ZM127.6 158.378L128.73 158.378L128.73 158.498L127.6 158.498ZM138.87 158.378L139.6 158.378L139.6 158.498L138.87 158.498ZM128.47 158.438L128.73 158.438L131.18 190.62L130.92 190.62ZM138.87 158.438L139.13 158.438L137.08 190.62L136.82 190.62ZM127.6 161.66L128.73 161.66L128.73 161.78L127.6 161.78ZM138.87 161.66L139.6 161.66L139.6 161.78L138.87 161.78ZM128.47 161.72L128.73 161.72L131.18 190.84L130.92 190.84ZM138.87 161.72L139.13 161.72L137.08 190.84L136.82 190.84ZM127.6 164.942L128.73 164.942L128.73 165.062L127.6 165.062ZM138.87 164.942L139.6 164.942L139.6 165.062L138.87 165.062ZM128.469 165.002L128.731 165.002L131.181 191.06L130.919 191.06ZM138.87 165.002L139.13 165.002L137.08 191.06L136.82 191.06ZM127.6 168.224L128.73 168.224L128.73 168.344L127.6 168.344ZM138.87 168.224L139.6 168.224L139.6 168.344L138.87 168.344ZM128.469 168.284L128.731 168.284L131.181 191.28L130.919 191.28ZM138.869 168.284L139.131 168.284L137.081 191.28L136.819 191.28ZM127.6 171.506L128.73 171.506L128.73 171.626L127.6 171.626ZM138.87 171.506L139.6 171.506L139.6 171.626L138.87 171.626ZM128.469 171.566L128.731 171.566L131.181 191.5L130.919 191.5ZM138.869 171.566L139.131 171.566L137.081 191.5L136.819 191.5ZM127.6 174.788L128.73 174.788L128.73 174.908L127.6 174.908ZM138.87 174.788L139.6 174.788L139.6 174.908L138.87 174.908ZM128.469 174.848L128.731 174.848L131.181 191.72L130.919 191.72ZM138.869 174.848L139.131 174.848L137.081 191.72L136.819 191.72ZM127.6 178.07L128.73 178.07L128.73 178.19L127.6 178.19ZM138.87 178.07L139.6 178.07L139.6 178.19L138.87 178.19ZM128.468 178.13L128.732 178.13L131.182 191.94L130.918 191.94ZM138.869 178.13L139.131 178.13L137.081 191.94L136.819 191.94ZM127.6 181.352L128.73 181.352L128.73 181.472L127.6 181.472ZM138.87 181.352L139.6 181.352L139.6 181.472L138.87 181.472ZM128.467 181.412L128.733 181.412L131.183 192.16L130.917 192.16ZM138.868 181.412L139.132 181.412L137.082 192.16L136.818 192.16ZM127.6 184.634L128.73 184.634L128.73 184.754L127.6 184.754ZM138.87 184.634L139.6 184.634L139.6 184.754L138.87 184.754ZM128.464 184.694L128.736 184.694L131.186 192.38L130.914 192.38ZM138.865 184.694L139.135 184.694L137.085 192.38L136.815 192.38ZM127.6 187.916L128.73 187.916L128.73 188.036L127.6 188.036ZM138.87 187.916L139.6 187.916L139.6 188.036L138.87 188.036ZM128.453 187.976L128.747 187.976L131.197 192.6L130.903 192.6ZM138.858 187.976L139.142 187.976L137.092 192.6L136.808 192.6ZM127.6 191.198L128.73 191.198L128.73 191.318L127.6 191.318ZM138.87 191.198L139.6 191.198L139.6 191.318L138.87 191.318ZM128.6 191.104L131.05 192.646L131.05 192.954L128.6 191.412ZM139 191.421L136.95 192.963L136.95 192.637L139 191.095ZM127.6 194.48L128.73 194.48L128.73 194.6L127.6 194.6ZM138.87 194.48L139.6 194.48L139.6 194.6L138.87 194.6ZM128.6 194.392L131.05 193.052L131.05 193.348L128.6 194.688ZM139 194.695L136.95 193.355L136.95 193.045L139 194.385ZM127.6 197.762L128.73 197.762L128.73 197.882L127.6 197.882ZM138.87 197.762L139.6 197.762L139.6 197.882L138.87 197.882ZM130.9 193.6L131.2 193.6L128.75 197.822L128.45 197.822ZM136.805 193.6L137.095 193.6L139.145 197.822L138.855 197.822ZM127.6 201.044L128.73 201.044L128.73 201.164L127.6 201.164ZM138.87 201.044L139.6 201.044L139.6 201.164L138.87 201.164ZM130.912 194L131.188 194L128.738 201.104L128.462 201.104ZM136.815 194L137.085 194L139.135 201.104L138.865 201.104ZM127.6 204.326L128.73 204.326L128.73 204.446L127.6 204.446ZM138.87 204.326L139.6 204.326L139.6 204.446L138.87 204.446ZM130.903 199.8L131.197 199.8L128.747 204.386L128.453 204.386ZM136.808 199.8L137.092 199.8L139.142 204.386L138.858 204.386ZM127.6 207.608L128.73 207.608L128.73 207.728L127.6 207.728ZM138.87 207.608L139.6 207.608L139.6 207.728L138.87 207.728ZM130.911 201.05L131.189 201.05L128.739 207.668L128.461 207.668ZM136.814 201.05L137.086 201.05L139.136 207.668L138.864 207.668ZM127.6 210.89L128.73 210.89L128.73 211.01L127.6 211.01ZM138.87 210.89L139.6 210.89L139.6 211.01L138.87 211.01ZM130.915 202.3L131.185 202.3L128.735 210.95L128.465 210.95ZM136.816 202.3L137.084 202.3L139.134 210.95L138.866 210.95ZM127.6 214.172L128.73 214.172L128.73 214.292L127.6 214.292ZM138.87 214.172L139.6 214.172L139.6 214.292L138.87 214.292ZM130.915 205.4L131.185 205.4L128.735 214.232L128.465 214.232ZM136.817 205.4L137.083 205.4L139.133 214.232L138.867 214.232ZM127.6 217.454L128.73 217.454L128.73 217.574L127.6 217.574ZM138.87 217.454L139.6 217.454L139.6 217.574L138.87 217.574ZM130.916 208L131.184 208L128.734 217.514L128.466 217.514ZM136.817 208L137.083 208L139.133 217.514L138.867 217.514ZM127.6 220.736L128.73 220.736L128.73 220.856L127.6 220.856ZM138.87 220.736L139.6 220.736L139.6 220.856L138.87 220.856ZM130.916 211.3L131.184 211.3L128.734 220.796L128.466 220.796ZM136.817 211.3L137.083 211.3L139.133 220.796L138.867 220.796ZM127.6 224.018L128.73 224.018L128.73 224.138L127.6 224.138ZM138.87 224.018L139.6 224.018L139.6 224.138L138.87 224.138ZM130.917 212.1L131.183 212.1L128.733 224.078L128.467 224.078ZM136.818 212.1L137.082 212.1L139.132 224.078L138.868 224.078ZM127.6 227.3L128.73 227.3L128.73 227.42L127.6 227.42ZM138.87 227.3L139.6 227.3L139.6 227.42L138.87 227.42ZM130.918 212.9L131.182 212.9L128.732 227.36L128.468 227.36ZM136.819 212.9L137.081 212.9L139.131 227.36L138.869 227.36ZM127.6 230.582L128.73 230.582L128.73 230.702L127.6 230.702ZM138.87 230.582L139.6 230.582L139.6 230.702L138.87 230.702ZM130.919 213.7L131.181 213.7L128.731 230.642L128.469 230.642ZM136.819 213.7L137.081 213.7L139.131 230.642L138.869 230.642ZM127.6 233.864L128.73 233.864L128.73 233.984L127.6 233.984ZM138.87 233.864L139.6 233.864L139.6 233.984L138.87 233.984ZM130.919 214.5L131.181 214.5L128.731 233.924L128.469 233.924ZM136.819 214.5L137.081 214.5L139.131 233.924L138.869 233.924ZM127.6 237.146L128.73 237.146L128.73 237.266L127.6 237.266ZM138.87 237.146L139.6 237.146L139.6 237.266L138.87 237.266ZM130.919 215.3L131.181 215.3L128.731 237.206L128.469 237.206ZM136.819 215.3L137.081 215.3L139.131 237.206L138.869 237.206ZM127.6 240.428L128.73 240.428L128.73 240.548L127.6 240.548ZM138.87 240.428L139.6 240.428L139.6 240.548L138.87 240.548ZM130.919 216.3L131.181 216.3L128.731 240.488L128.469 240.488ZM136.82 216.3L137.08 216.3L139.13 240.488L138.87 240.488ZM127.6 243.71L128.73 243.71L128.73 243.83L127.6 243.83ZM138.87 243.71L139.6 243.71L139.6 243.83L138.87 243.83ZM130.919 220.1L131.181 220.1L128.731 243.77L128.469 243.77ZM136.82 220.1L137.08 220.1L139.13 243.77L138.87 243.77ZM127.6 246.992L128.73 246.992L128.73 247.112L127.6 247.112ZM138.87 246.992L139.6 246.992L139.6 247.112L138.87 247.112ZM130.919 220.5L131.181 220.5L128.731 247.052L128.469 247.052ZM136.82 220.5L137.08 220.5L139.13 247.052L138.87 247.052ZM127.6 250.274L128.73 250.274L128.73 250.394L127.6 250.394ZM138.87 250.274L139.6 250.274L139.6 250.394L138.87 250.394ZM130.919 223.4L131.181 223.4L128.731 250.334L128.469 250.334ZM136.82 223.4L137.08 223.4L139.13 250.334L138.87 250.334ZM127.6 253.556L128.73 253.556L128.73 253.676L127.6 253.676ZM138.87 253.556L139.6 253.556L139.6 253.676L138.87 253.676ZM130.92 225.35L131.18 225.35L128.73 253.616L128.47 253.616ZM136.82 225.35L137.08 225.35L139.13 253.616L138.87 253.616ZM127.6 256.838L128.73 256.838L128.73 256.958L127.6 256.958ZM138.87 256.838L139.6 256.838L139.6 256.958L138.87 256.958ZM130.92 227.3L131.18 227.3L128.73 256.898L128.47 256.898ZM136.82 227.3L137.08 227.3L139.13 256.898L138.87 256.898ZM127.6 260.12L128.73 260.12L128.73 260.24L127.6 260.24ZM138.87 260.12L139.6 260.12L139.6 260.24L138.87 260.24ZM130.92 230L131.18 230L128.73 260.18L128.47 260.18ZM136.82 230L137.08 230L139.13 260.18L138.87 260.18Z" fill="#000" stroke="none"/>
<g transform="scale(0.1)" text-rendering="geometricPrecision" font-family="'Liberation Sans',sans-serif" font-size="23" fill="#000" stroke="#000" stroke-width="0.4">
<text transform="translate(1274 1297.5) rotate(0.3)" text-anchor="end" textLength="36.14" lengthAdjust="spacingAndGlyphs">0.0</text>
<text transform="translate(1406.5 1297.5) rotate(0.3)" textLength="178" lengthAdjust="spacingAndGlyphs">AX-109431039</text>
<text transform="translate(1274 1330.32) rotate(0.3)" text-anchor="end" textLength="50.6" lengthAdjust="spacingAndGlyphs">73.2</text>
<text transform="translate(1406.5 1330.32) rotate(0.3)" textLength="178" lengthAdjust="spacingAndGlyphs">AX-949315827</text>
<text transform="translate(1274 1363.14) rotate(0.3)" text-anchor="end" textLength="50.6" lengthAdjust="spacingAndGlyphs">96.0</text>
<text transform="translate(1406.5 1363.14) rotate(0.3)" textLength="178" lengthAdjust="spacingAndGlyphs">AX-949401995</text>
<text transform="translate(1274 1395.96) rotate(0.3)" text-anchor="end" textLength="65.05" lengthAdjust="spacingAndGlyphs">100.4</text>
<text transform="translate(1406.5 1395.96) rotate(0.3)" textLength="178" lengthAdjust="spacingAndGlyphs">AX-110055203</text>
<text transform="translate(1274 1428.78) rotate(0.3)" text-anchor="end" textLength="65.05" lengthAdjust="spacingAndGlyphs">102.4</text>
<text transform="translate(1406.5 1428.78) rotate(0.3)" textLength="178" lengthAdjust="spacingAndGlyphs">AX-111093056</text>
<text transform="translate(1274 1461.6) rotate(0.3)" text-anchor="end" textLength="65.05" lengthAdjust="spacingAndGlyphs">104.4</text>
<text transform="translate(1406.5 1461.6) rotate(0.3)" textLength="178" lengthAdjust="spacingAndGlyphs">AX-944529413</text>
<text transform="translate(1274 1494.42) rotate(0.3)" text-anchor="end" textLength="65.05" lengthAdjust="spacingAndGlyphs">109.3</text>
<text transform="translate(1406.5 1494.42) rotate(0.3)" textLength="178" lengthAdjust="spacingAndGlyphs">AX-109787161</text>
<text transform="translate(1274 1527.24) rotate(0.3)" text-anchor="end" textLength="65.05" lengthAdjust="spacingAndGlyphs">117.5</text>
<text transform="translate(1406.5 1527.24) rotate(0.3)" textLength="178" lengthAdjust="spacingAndGlyphs">AX-108828126</text>
<text transform="translate(1274 1560.06) rotate(0.3)" text-anchor="end" textLength="65.05" lengthAdjust="spacingAndGlyphs">121.9</text>
<text transform="translate(1406.5 1560.06) rotate(0.3)" textLength="178" lengthAdjust="spacingAndGlyphs">AX-944464460</text>
<text transform="translate(1274 1592.88) rotate(0.3)" text-anchor="end" textLength="65.05" lengthAdjust="spacingAndGlyphs">124.5</text>
<text transform="translate(1406.5 1592.88) rotate(0.3)" textLength="178" lengthAdjust="spacingAndGlyphs">AX-111956605</text>
<text transform="translate(1274 1625.7) rotate(0.3)" text-anchor="end" textLength="65.05" lengthAdjust="spacingAndGlyphs">128.5</text>
<text transform="translate(1406.5 1625.7) rotate(0.3)" textLength="178" lengthAdjust="spacingAndGlyphs">AX-944366306</text>
<text transform="translate(1274 1658.52) rotate(0.3)" text-anchor="end" textLength="65.05" lengthAdjust="spacingAndGlyphs">135.2</text>
<text transform="translate(1406.5 1658.52) rotate(0.3)" textLength="178" lengthAdjust="spacingAndGlyphs">AX-110611695</text>
<text transform="translate(1274 1691.34) rotate(0.3)" text-anchor="end" textLength="65.05" lengthAdjust="spacingAndGlyphs">142.8</text>
<text transform="translate(1406.5 1691.34) rotate(0.3)" textLength="178" lengthAdjust="spacingAndGlyphs">AX-108220082</text>
<text transform="translate(1274 1724.16) rotate(0.3)" text-anchor="end" textLength="65.05" lengthAdjust="spacingAndGlyphs">151.6</text>
<text transform="translate(1406.5 1724.16) rotate(0.3)" textLength="178" lengthAdjust="spacingAndGlyphs">AX-944619958</text>
<text transform="translate(1274 1756.98) rotate(0.3)" text-anchor="end" textLength="65.05" lengthAdjust="spacingAndGlyphs">162.5</text>
<text transform="translate(1406.5 1756.98) rotate(0.3)" textLength="178" lengthAdjust="spacingAndGlyphs">AX-110254282</text>
<text transform="translate(1274 1789.8) rotate(0.3)" text-anchor="end" textLength="65.05" lengthAdjust="spacingAndGlyphs">169.9</text>
<text transform="translate(1406.5 1789.8) rotate(0.3)" textLength="178" lengthAdjust="spacingAndGlyphs">AX-109167342</text>
<text transform="translate(1274 1822.62) rotate(0.3)" text-anchor="end" textLength="65.05" lengthAdjust="spacingAndGlyphs">171.9</text>
<text transform="translate(1406.5 1822.62) rotate(0.3)" textLength="178" lengthAdjust="spacingAndGlyphs">AX-109750961</text>
<text transform="translate(1274 1855.44) rotate(0.3)" text-anchor="end" textLength="65.05" lengthAdjust="spacingAndGlyphs">182.7</text>
<text transform="translate(1406.5 1855.44) rotate(0.3)" textLength="178" lengthAdjust="spacingAndGlyphs">AX-944923969</text>
<text transform="translate(1274 1888.26) rotate(0.3)" text-anchor="end" textLength="65.05" lengthAdjust="spacingAndGlyphs">185.6</text>
<text transform="translate(1406.5 1888.26) rotate(0.3)" textLength="178" lengthAdjust="spacingAndGlyphs">AX-110729306</text>
<text transform="translate(1274 1921.08) rotate(0.3)" text-anchor="end" textLength="65.05" lengthAdjust="spacingAndGlyphs">191.5</text>
<text transform="translate(1406.5 1921.08) rotate(0.3)" textLength="178" lengthAdjust="spacingAndGlyphs">AX-949265123</text>
<text transform="translate(1274 1953.9) rotate(0.3)" text-anchor="end" textLength="65.05" lengthAdjust="spacingAndGlyphs">195.1</text>
<text transform="translate(1406.5 1953.9) rotate(0.3)" textLength="178" lengthAdjust="spacingAndGlyphs">AX-944308051</text>
<text transform="translate(1274 1986.72) rotate(0.3)" text-anchor="end" textLength="65.05" lengthAdjust="spacingAndGlyphs">203.8</text>
<text transform="translate(1406.5 1986.72) rotate(0.3)" textLength="178" lengthAdjust="spacingAndGlyphs">AX-108978464</text>
<text transform="translate(1274 2019.54) rotate(0.3)" text-anchor="end" textLength="65.05" lengthAdjust="spacingAndGlyphs">206.2</text>
<text transform="translate(1406.5 2019.54) rotate(0.3)" textLength="178" lengthAdjust="spacingAndGlyphs">AX-949366578</text>
<text transform="translate(1274 2052.36) rotate(0.3)" text-anchor="end" textLength="65.05" lengthAdjust="spacingAndGlyphs">208.8</text>
<text transform="translate(1406.5 2052.36) rotate(0.3)" textLength="178" lengthAdjust="spacingAndGlyphs">AX-108200977</text>
<text transform="translate(1274 2085.18) rotate(0.3)" text-anchor="end" textLength="65.05" lengthAdjust="spacingAndGlyphs">211.5</text>
<text transform="translate(1406.5 2085.18) rotate(0.3)" textLength="178" lengthAdjust="spacingAndGlyphs">AX-110797276</text>
<text transform="translate(1274 2118) rotate(0.3)" text-anchor="end" textLength="65.05" lengthAdjust="spacingAndGlyphs">213.6</text>
<text transform="translate(1406.5 2118) rotate(0.3)" textLength="178" lengthAdjust="spacingAndGlyphs">AX-109125651</text>
<text transform="translate(1274 2150.82) rotate(0.3)" text-anchor="end" textLength="65.05" lengthAdjust="spacingAndGlyphs">225.3</text>
<text transform="translate(1406.5 2150.82) rotate(0.3)" textLength="178" lengthAdjust="spacingAndGlyphs">AX-108880021</text>
<text transform="translate(1274 2183.64) rotate(0.3)" text-anchor="end" textLength="65.05" lengthAdjust="spacingAndGlyphs">231.4</text>
<text transform="translate(1406.5 2183.64) rotate(0.3)" textLength="178" lengthAdjust="spacingAndGlyphs">AX-944581086</text>
<text transform="translate(1274 2216.46) rotate(0.3)" text-anchor="end" textLength="65.05" lengthAdjust="spacingAndGlyphs">234.6</text>
<text transform="translate(1406.5 2216.46) rotate(0.3)" textLength="178" lengthAdjust="spacingAndGlyphs">AX-944201913</text>
<text transform="translate(1274 2249.28) rotate(0.3)" text-anchor="end" textLength="65.05" lengthAdjust="spacingAndGlyphs">238.4</text>
<text transform="translate(1406.5 2249.28) rotate(0.3)" textLength="178" lengthAdjust="spacingAndGlyphs">AX-110742315</text>
<text transform="translate(1274 2282.1) rotate(0.3)" text-anchor="end" textLength="65.05" lengthAdjust="spacingAndGlyphs">252.6</text>
<text transform="translate(1406.5 2282.1) rotate(0.3)" textLength="178" lengthAdjust="spacingAndGlyphs">AX-949425947</text>
<text transform="translate(1274 2314.92) rotate(0.3)" text-anchor="end" textLength="65.05" lengthAdjust="spacingAndGlyphs">257.7</text>
<text transform="translate(1406.5 2314.92) rotate(0.3)" textLength="178" lengthAdjust="spacingAndGlyphs">AX-110487394</text>
<text transform="translate(1274 2347.74) rotate(0.3)" text-anchor="end" textLength="65.05" lengthAdjust="spacingAndGlyphs">260.2</text>
<text transform="translate(1406.5 2347.74) rotate(0.3)" textLength="178" lengthAdjust="spacingAndGlyphs">AX-949835503</text>
<text transform="translate(1274 2380.56) rotate(0.3)" text-anchor="end" textLength="65.05" lengthAdjust="spacingAndGlyphs">270.3</text>
<text transform="translate(1406.5 2380.56) rotate(0.3)" textLength="178" lengthAdjust="spacingAndGlyphs">AX-110624562</text>
<text transform="translate(1274 2413.38) rotate(0.3)" text-anchor="end" textLength="65.05" lengthAdjust="spacingAndGlyphs">277.5</text>
<text transform="translate(1406.5 2413.38) rotate(0.3)" textLength="178" lengthAdjust="spacingAndGlyphs">AX-111180578</text>
<text transform="translate(1274 2446.2) rotate(0.3)" text-anchor="end" textLength="65.05" lengthAdjust="spacingAndGlyphs">291.7</text>
<text transform="translate(1406.5 2446.2) rotate(0.3)" textLength="178" lengthAdjust="spacingAndGlyphs">AX-949914865</text>
<text transform="translate(1274 2479.02) rotate(0.3)" text-anchor="end" textLength="65.05" lengthAdjust="spacingAndGlyphs">293.7</text>
<text transform="translate(1406.5 2479.02) rotate(0.3)" textLength="372" lengthAdjust="spacingAndGlyphs">AX-111659255 AX-109732904</text>
<text transform="translate(1274 2511.84) rotate(0.3)" text-anchor="end" textLength="65.05" lengthAdjust="spacingAndGlyphs">298.4</text>
<text transform="translate(1406.5 2511.84) rotate(0.3)" textLength="178" lengthAdjust="spacingAndGlyphs">AX-949449500</text>
<text transform="translate(1274 2544.66) rotate(0.3)" text-anchor="end" textLength="65.05" lengthAdjust="spacingAndGlyphs">308.6</text>
<text transform="translate(1406.5 2544.66) rotate(0.3)" textLength="178" lengthAdjust="spacingAndGlyphs">AX-110249668</text>
<text transform="translate(1274 2577.48) rotate(0.3)" text-anchor="end" textLength="65.05" lengthAdjust="spacingAndGlyphs">319.4</text>
<text transform="translate(1406.5 2577.48) rotate(0.3)" textLength="178" lengthAdjust="spacingAndGlyphs">AX-111027390</text>
<text transform="translate(1274 2610.3) rotate(0.3)" text-anchor="end" textLength="65.05" lengthAdjust="spacingAndGlyphs">331.7</text>
<text transform="translate(1406.5 2610.3) rotate(0.3)" textLength="178" lengthAdjust="spacingAndGlyphs">AX-109009541</text>
</g>
</g>
<g>
<text x="209.5" y="9.8" font-family="'Liberation Serif',serif" font-weight="bold" font-size="8.2" text-anchor="middle">2B</text>
<path d="M206.3 161.9 A3 3 0 0 1 212.3 161.9 L212.3 195.1 L212.3 197.3 L212.3 199.5 L212.3 269 A3 3 0 0 1 206.3 269 L206.3 199.5 L206.3 197.3 L206.3 195.1 Z" fill="#fff" stroke="#000" stroke-width="0.2"/>
<path d="M206.3 161.06L212.3 161.06L212.3 161.34L206.3 161.34ZM206.3 161.61L212.3 161.61L212.3 161.89L206.3 161.89ZM206.3 162.16L212.3 162.16L212.3 162.44L206.3 162.44ZM206.3 166.56L212.3 166.56L212.3 166.84L206.3 166.84ZM206.3 167.56L212.3 167.56L212.3 167.84L206.3 167.84ZM206.3 171.96L212.3 171.96L212.3 172.24L206.3 172.24ZM206.3 172.96L212.3 172.96L212.3 173.24L206.3 173.24ZM206.3 173.96L212.3 173.96L212.3 174.24L206.3 174.24ZM206.3 174.46L212.3 174.46L212.3 174.74L206.3 174.74ZM206.3 175.16L212.3 175.16L212.3 175.44L206.3 175.44ZM206.3 175.86L212.3 175.86L212.3 176.14L206.3 176.14ZM206.3 177.86L212.3 177.86L212.3 178.14L206.3 178.14ZM206.3 178.36L212.3 178.36L212.3 178.64L206.3 178.64ZM206.3 178.86L212.3 178.86L212.3 179.14L206.3 179.14ZM206.3 180.86L212.3 180.86L212.3 181.14L206.3 181.14ZM206.3 181.26L212.3 181.26L212.3 181.54L206.3 181.54ZM206.3 182.26L212.3 182.26L212.3 182.54L206.3 182.54ZM206.3 182.66L212.3 182.66L212.3 182.94L206.3 182.94ZM206.3 183.06L212.3 183.06L212.3 183.34L206.3 183.34ZM206.3 183.46L212.3 183.46L212.3 183.74L206.3 183.74ZM206.3 183.86L212.3 183.86L212.3 184.14L206.3 184.14ZM206.3 184.26L212.3 184.26L212.3 184.54L206.3 184.54ZM206.3 186.16L212.3 186.16L212.3 186.44L206.3 186.44ZM206.3 187.16L212.3 187.16L212.3 187.44L206.3 187.44ZM206.3 187.86L212.3 187.86L212.3 188.14L206.3 188.14ZM206.3 188.51L212.3 188.51L212.3 188.79L206.3 188.79ZM206.3 189.16L212.3 189.16L212.3 189.44L206.3 189.44ZM206.3 191.26L212.3 191.26L212.3 191.54L206.3 191.54ZM206.3 191.76L212.3 191.76L212.3 192.04L206.3 192.04ZM206.3 192.26L212.3 192.26L212.3 192.54L206.3 192.54ZM206.3 192.76L212.3 192.76L212.3 193.04L206.3 193.04ZM206.3 193.26L212.3 193.26L212.3 193.54L206.3 193.54ZM206.3 193.76L212.3 193.76L212.3 194.04L206.3 194.04ZM206.3 194.26L212.3 194.26L212.3 194.54L206.3 194.54ZM206.3 194.41L212.3 194.41L212.3 194.69L206.3 194.69ZM206.3 194.56L212.3 194.56L212.3 194.84L206.3 194.84ZM206.3 194.71L212.3 194.71L212.3 194.99L206.3 194.99ZM206.3 194.86L212.3 194.86L212.3 195.14L206.3 195.14ZM206.3 195.01L212.3 195.01L212.3 195.29L206.3 195.29ZM206.3 195.16L212.3 195.16L212.3 195.44L206.3 195.44ZM206.3 195.31L212.3 195.31L212.3 195.59L206.3 195.59ZM206.3 195.46L212.3 195.46L212.3 195.74L206.3 195.74ZM206.3 195.61L212.3 195.61L212.3 195.89L206.3 195.89ZM206.3 195.76L212.3 195.76L212.3 196.04L206.3 196.04ZM206.3 196.16L212.3 196.16L212.3 196.44L206.3 196.44ZM206.3 196.273L212.3 196.273L212.3 196.553L206.3 196.553ZM206.3 196.385L212.3 196.385L212.3 196.665L206.3 196.665ZM206.3 196.498L212.3 196.498L212.3 196.777L206.3 196.777ZM206.3 196.61L212.3 196.61L212.3 196.89L206.3 196.89ZM206.3 196.723L212.3 196.723L212.3 197.002L206.3 197.002ZM206.3 196.835L212.3 196.835L212.3 197.115L206.3 197.115ZM206.3 196.947L212.3 196.947L212.3 197.227L206.3 197.227ZM206.3 197.06L212.3 197.06L212.3 197.34L206.3 197.34ZM206.3 197.66L212.3 197.66L212.3 197.94L206.3 197.94ZM206.3 197.91L212.3 197.91L212.3 198.19L206.3 198.19ZM206.3 198.16L212.3 198.16L212.3 198.44L206.3 198.44ZM206.3 201.36L212.3 201.36L212.3 201.64L206.3 201.64ZM206.3 201.531L212.3 201.531L212.3 201.811L206.3 201.811ZM206.3 201.703L212.3 201.703L212.3 201.983L206.3 201.983ZM206.3 201.874L212.3 201.874L212.3 202.154L206.3 202.154ZM206.3 202.046L212.3 202.046L212.3 202.326L206.3 202.326ZM206.3 202.217L212.3 202.217L212.3 202.497L206.3 202.497ZM206.3 202.389L212.3 202.389L212.3 202.669L206.3 202.669ZM206.3 202.56L212.3 202.56L212.3 202.84L206.3 202.84ZM206.3 205.06L212.3 205.06L212.3 205.34L206.3 205.34ZM206.3 205.339L212.3 205.339L212.3 205.619L206.3 205.619ZM206.3 205.617L212.3 205.617L212.3 205.897L206.3 205.897ZM206.3 205.896L212.3 205.896L212.3 206.176L206.3 206.176ZM206.3 206.174L212.3 206.174L212.3 206.454L206.3 206.454ZM206.3 206.453L212.3 206.453L212.3 206.733L206.3 206.733ZM206.3 206.731L212.3 206.731L212.3 207.011L206.3 207.011ZM206.3 207.01L212.3 207.01L212.3 207.29L206.3 207.29ZM206.3 207.289L212.3 207.289L212.3 207.569L206.3 207.569ZM206.3 207.567L212.3 207.567L212.3 207.847L206.3 207.847ZM206.3 207.846L212.3 207.846L212.3 208.126L206.3 208.126ZM206.3 208.124L212.3 208.124L212.3 208.404L206.3 208.404ZM206.3 208.403L212.3 208.403L212.3 208.683L206.3 208.683ZM206.3 208.681L212.3 208.681L212.3 208.961L206.3 208.961ZM206.3 208.96L212.3 208.96L212.3 209.24L206.3 209.24ZM206.3 209.46L212.3 209.46L212.3 209.74L206.3 209.74ZM206.3 210.56L212.3 210.56L212.3 210.84L206.3 210.84ZM206.3 211.66L212.3 211.66L212.3 211.94L206.3 211.94ZM206.3 212.76L212.3 212.76L212.3 213.04L206.3 213.04ZM206.3 213.86L212.3 213.86L212.3 214.14L206.3 214.14ZM206.3 214.36L212.3 214.36L212.3 214.64L206.3 214.64ZM206.3 215.027L212.3 215.027L212.3 215.307L206.3 215.307ZM206.3 215.693L212.3 215.693L212.3 215.973L206.3 215.973ZM206.3 216.36L212.3 216.36L212.3 216.64L206.3 216.64ZM206.3 216.86L212.3 216.86L212.3 217.14L206.3 217.14ZM206.3 217.193L212.3 217.193L212.3 217.473L206.3 217.473ZM206.3 217.527L212.3 217.527L212.3 217.807L206.3 217.807ZM206.3 217.86L212.3 217.86L212.3 218.14L206.3 218.14ZM206.3 218.26L212.3 218.26L212.3 218.54L206.3 218.54ZM206.3 220.26L212.3 220.26L212.3 220.54L206.3 220.54ZM206.3 220.76L212.3 220.76L212.3 221.04L206.3 221.04ZM206.3 221.26L212.3 221.26L212.3 221.54L206.3 221.54ZM206.3 221.76L212.3 221.76L212.3 222.04L206.3 222.04ZM206.3 226.16L212.3 226.16L212.3 226.44L206.3 226.44ZM206.3 227.16L212.3 227.16L212.3 227.44L206.3 227.44ZM206.3 229.36L212.3 229.36L212.3 229.64L206.3 229.64ZM206.3 229.96L212.3 229.96L212.3 230.24L206.3 230.24ZM206.3 230.56L212.3 230.56L212.3 230.84L206.3 230.84ZM206.3 231.16L212.3 231.16L212.3 231.44L206.3 231.44ZM206.3 233.06L212.3 233.06L212.3 233.34L206.3 233.34ZM206.3 234.01L212.3 234.01L212.3 234.29L206.3 234.29ZM206.3 234.96L212.3 234.96L212.3 235.24L206.3 235.24ZM206.3 239.26L212.3 239.26L212.3 239.54L206.3 239.54ZM206.3 240.06L212.3 240.06L212.3 240.34L206.3 240.34ZM206.3 240.86L212.3 240.86L212.3 241.14L206.3 241.14ZM206.3 241.66L212.3 241.66L212.3 241.94L206.3 241.94ZM206.3 244.26L212.3 244.26L212.3 244.54L206.3 244.54ZM206.3 247.06L212.3 247.06L212.3 247.34L206.3 247.34ZM206.3 248.06L212.3 248.06L212.3 248.34L206.3 248.34ZM206.3 249.26L212.3 249.26L212.3 249.54L206.3 249.54ZM206.3 252.76L212.3 252.76L212.3 253.04L206.3 253.04ZM206.3 259.16L212.3 259.16L212.3 259.44L206.3 259.44ZM206.3 260.36L212.3 260.36L212.3 260.64L206.3 260.64ZM206.3 271.36L212.3 271.36L212.3 271.64L206.3 271.64Z" fill="#000" stroke="none"/>
<path d="M203.2 24.14L204.33 24.14L204.33 24.26L203.2 24.26ZM214.27 24.14L215 24.14L215 24.26L214.27 24.26ZM204.07 24.2L204.33 24.2L206.38 161.2L206.12 161.2ZM214.27 24.2L214.53 24.2L212.48 161.2L212.22 161.2ZM203.2 27.422L204.33 27.422L204.33 27.542L203.2 27.542ZM214.27 27.422L215 27.422L215 27.542L214.27 27.542ZM204.07 27.482L204.33 27.482L206.38 161.75L206.12 161.75ZM214.27 27.482L214.53 27.482L212.48 161.75L212.22 161.75ZM203.2 30.704L204.33 30.704L204.33 30.824L203.2 30.824ZM214.27 30.704L215 30.704L215 30.824L214.27 30.824ZM204.07 30.764L204.33 30.764L206.38 162.3L206.12 162.3ZM214.27 30.764L214.53 30.764L212.48 162.3L212.22 162.3ZM203.2 33.986L204.33 33.986L204.33 34.106L203.2 34.106ZM214.27 33.986L215 33.986L215 34.106L214.27 34.106ZM204.07 34.046L204.33 34.046L206.38 166.7L206.12 166.7ZM214.27 34.046L214.53 34.046L212.48 166.7L212.22 166.7ZM203.2 37.268L204.33 37.268L204.33 37.388L203.2 37.388ZM214.27 37.268L215 37.268L215 37.388L214.27 37.388ZM204.07 37.328L204.33 37.328L206.38 167.7L206.12 167.7ZM214.27 37.328L214.53 37.328L212.48 167.7L212.22 167.7ZM203.2 40.55L204.33 40.55L204.33 40.67L203.2 40.67ZM214.27 40.55L215 40.55L215 40.67L214.27 40.67ZM204.07 40.61L204.33 40.61L206.38 172.1L206.12 172.1ZM214.27 40.61L214.53 40.61L212.48 172.1L212.22 172.1ZM203.2 43.832L204.33 43.832L204.33 43.952L203.2 43.952ZM214.27 43.832L215 43.832L215 43.952L214.27 43.952ZM204.07 43.892L204.33 43.892L206.38 173.1L206.12 173.1ZM214.27 43.892L214.53 43.892L212.48 173.1L212.22 173.1ZM203.2 47.114L204.33 47.114L204.33 47.234L203.2 47.234ZM214.27 47.114L215 47.114L215 47.234L214.27 47.234ZM204.07 47.174L204.33 47.174L206.38 174.1L206.12 174.1ZM214.27 47.174L214.53 47.174L212.48 174.1L212.22 174.1ZM203.2 50.396L204.33 50.396L204.33 50.516L203.2 50.516ZM214.27 50.396L215 50.396L215 50.516L214.27 50.516ZM204.07 50.456L204.33 50.456L206.38 174.6L206.12 174.6ZM214.27 50.456L214.53 50.456L212.48 174.6L212.22 174.6ZM203.2 53.678L204.33 53.678L204.33 53.798L203.2 53.798ZM214.27 53.678L215 53.678L215 53.798L214.27 53.798ZM204.07 53.738L204.33 53.738L206.38 175.3L206.12 175.3ZM214.27 53.738L214.53 53.738L212.48 175.3L212.22 175.3ZM203.2 56.96L204.33 56.96L204.33 57.08L203.2 57.08ZM214.27 56.96L215 56.96L215 57.08L214.27 57.08ZM204.07 57.02L204.33 57.02L206.38 176L206.12 176ZM214.27 57.02L214.53 57.02L212.48 176L212.22 176ZM203.2 60.242L204.33 60.242L204.33 60.362L203.2 60.362ZM214.27 60.242L215 60.242L215 60.362L214.27 60.362ZM204.07 60.302L204.33 60.302L206.38 178L206.12 178ZM214.27 60.302L214.53 60.302L212.48 178L212.22 178ZM203.2 63.524L204.33 63.524L204.33 63.644L203.2 63.644ZM214.27 63.524L215 63.524L215 63.644L214.27 63.644ZM204.07 63.584L204.33 63.584L206.38 178.5L206.12 178.5ZM214.27 63.584L214.53 63.584L212.48 178.5L212.22 178.5ZM203.2 66.806L204.33 66.806L204.33 66.926L203.2 66.926ZM214.27 66.806L215 66.806L215 66.926L214.27 66.926ZM204.07 66.866L204.33 66.866L206.38 179L206.12 179ZM214.27 66.866L214.53 66.866L212.48 179L212.22 179ZM203.2 70.088L204.33 70.088L204.33 70.208L203.2 70.208ZM214.27 70.088L215 70.088L215 70.208L214.27 70.208ZM204.07 70.148L204.33 70.148L206.38 181L206.12 181ZM214.27 70.148L214.53 70.148L212.48 181L212.22 181ZM203.2 73.37L204.33 73.37L204.33 73.49L203.2 73.49ZM214.27 73.37L215 73.37L215 73.49L214.27 73.49ZM204.07 73.43L204.33 73.43L206.38 181.4L206.12 181.4ZM214.27 73.43L214.53 73.43L212.48 181.4L212.22 181.4ZM203.2 76.652L204.33 76.652L204.33 76.772L203.2 76.772ZM214.27 76.652L215 76.652L215 76.772L214.27 76.772ZM204.07 76.712L204.33 76.712L206.38 182.4L206.12 182.4ZM214.27 76.712L214.53 76.712L212.48 182.4L212.22 182.4ZM203.2 79.934L204.33 79.934L204.33 80.054L203.2 80.054ZM214.27 79.934L215 79.934L215 80.054L214.27 80.054ZM204.07 79.994L204.33 79.994L206.38 182.8L206.12 182.8ZM214.27 79.994L214.53 79.994L212.48 182.8L212.22 182.8ZM203.2 83.216L204.33 83.216L204.33 83.336L203.2 83.336ZM214.27 83.216L215 83.216L215 83.336L214.27 83.336ZM204.07 83.276L204.33 83.276L206.38 183.2L206.12 183.2ZM214.27 83.276L214.53 83.276L212.48 183.2L212.22 183.2ZM203.2 86.498L204.33 86.498L204.33 86.618L203.2 86.618ZM214.27 86.498L215 86.498L215 86.618L214.27 86.618ZM204.07 86.558L204.33 86.558L206.38 183.6L206.12 183.6ZM214.27 86.558L214.53 86.558L212.48 183.6L212.22 183.6ZM203.2 89.78L204.33 89.78L204.33 89.9L203.2 89.9ZM214.27 89.78L215 89.78L215 89.9L214.27 89.9ZM204.07 89.84L204.33 89.84L206.38 184L206.12 184ZM214.27 89.84L214.53 89.84L212.48 184L212.22 184ZM203.2 93.062L204.33 93.062L204.33 93.182L203.2 93.182ZM214.27 93.062L215 93.062L215 93.182L214.27 93.182ZM204.07 93.122L204.33 93.122L206.38 184.4L206.12 184.4ZM214.27 93.122L214.53 93.122L212.48 184.4L212.22 184.4ZM203.2 96.344L204.33 96.344L204.33 96.464L203.2 96.464ZM214.27 96.344L215 96.344L215 96.464L214.27 96.464ZM204.07 96.404L204.33 96.404L206.38 186.3L206.12 186.3ZM214.27 96.404L214.53 96.404L212.48 186.3L212.22 186.3ZM203.2 99.626L204.33 99.626L204.33 99.746L203.2 99.746ZM214.27 99.626L215 99.626L215 99.746L214.27 99.746ZM204.07 99.686L204.33 99.686L206.38 187.3L206.12 187.3ZM214.27 99.686L214.53 99.686L212.48 187.3L212.22 187.3ZM203.2 102.908L204.33 102.908L204.33 103.028L203.2 103.028ZM214.27 102.908L215 102.908L215 103.028L214.27 103.028ZM204.07 102.968L204.33 102.968L206.38 188L206.12 188ZM214.27 102.968L214.53 102.968L212.48 188L212.22 188ZM203.2 106.19L204.33 106.19L204.33 106.31L203.2 106.31ZM214.27 106.19L215 106.19L215 106.31L214.27 106.31ZM204.07 106.25L204.33 106.25L206.38 188.65L206.12 188.65ZM214.27 106.25L214.53 106.25L212.48 188.65L212.22 188.65ZM203.2 109.472L204.33 109.472L204.33 109.592L203.2 109.592ZM214.27 109.472L215 109.472L215 109.592L214.27 109.592ZM204.07 109.532L204.33 109.532L206.38 189.3L206.12 189.3ZM214.27 109.532L214.53 109.532L212.48 189.3L212.22 189.3ZM203.2 112.754L204.33 112.754L204.33 112.874L203.2 112.874ZM214.27 112.754L215 112.754L215 112.874L214.27 112.874ZM204.07 112.814L204.33 112.814L206.38 191.4L206.12 191.4ZM214.27 112.814L214.53 112.814L212.48 191.4L212.22 191.4ZM203.2 116.036L204.33 116.036L204.33 116.156L203.2 116.156ZM214.27 116.036L215 116.036L215 116.156L214.27 116.156ZM204.07 116.096L204.33 116.096L206.38 191.9L206.12 191.9ZM214.27 116.096L214.53 116.096L212.48 191.9L212.22 191.9ZM203.2 119.318L204.33 119.318L204.33 119.438L203.2 119.438ZM214.27 119.318L215 119.318L215 119.438L214.27 119.438ZM204.07 119.378L204.33 119.378L206.38 192.4L206.12 192.4ZM214.27 119.378L214.53 119.378L212.48 192.4L212.22 192.4ZM203.2 122.6L204.33 122.6L204.33 122.72L203.2 122.72ZM214.27 122.6L215 122.6L215 122.72L214.27 122.72ZM204.07 122.66L204.33 122.66L206.38 192.9L206.12 192.9ZM214.27 122.66L214.53 122.66L212.48 192.9L212.22 192.9ZM203.2 125.882L204.33 125.882L204.33 126.002L203.2 126.002ZM214.27 125.882L215 125.882L215 126.002L214.27 126.002ZM204.07 125.942L204.33 125.942L206.38 193.4L206.12 193.4ZM214.27 125.942L214.53 125.942L212.48 193.4L212.22 193.4ZM203.2 129.164L204.33 129.164L204.33 129.284L203.2 129.284ZM214.27 129.164L215 129.164L215 129.284L214.27 129.284ZM204.07 129.224L204.33 129.224L206.38 193.9L206.12 193.9ZM214.27 129.224L214.53 129.224L212.48 193.9L212.22 193.9ZM203.2 132.446L204.33 132.446L204.33 132.566L203.2 132.566ZM214.27 132.446L215 132.446L215 132.566L214.27 132.566ZM204.07 132.506L204.33 132.506L206.38 194.4L206.12 194.4ZM214.27 132.506L214.53 132.506L212.48 194.4L212.22 194.4ZM203.2 135.728L204.33 135.728L204.33 135.848L203.2 135.848ZM214.27 135.728L215 135.728L215 135.848L214.27 135.848ZM204.07 135.788L204.33 135.788L206.38 194.55L206.12 194.55ZM214.27 135.788L214.53 135.788L212.48 194.55L212.22 194.55ZM203.2 139.01L204.33 139.01L204.33 139.13L203.2 139.13ZM214.27 139.01L215 139.01L215 139.13L214.27 139.13ZM204.07 139.07L204.33 139.07L206.38 194.7L206.12 194.7ZM214.27 139.07L214.53 139.07L212.48 194.7L212.22 194.7ZM203.2 142.292L204.33 142.292L204.33 142.412L203.2 142.412ZM214.27 142.292L215 142.292L215 142.412L214.27 142.412ZM204.07 142.352L204.33 142.352L206.38 194.85L206.12 194.85ZM214.27 142.352L214.53 142.352L212.48 194.85L212.22 194.85ZM203.2 145.574L204.33 145.574L204.33 145.694L203.2 145.694ZM214.27 145.574L215 145.574L215 145.694L214.27 145.694ZM204.07 145.634L204.33 145.634L206.38 195L206.12 195ZM214.27 145.634L214.53 145.634L212.48 195L212.22 195ZM203.2 148.856L204.33 148.856L204.33 148.976L203.2 148.976ZM214.27 148.856L215 148.856L215 148.976L214.27 148.976ZM204.07 148.916L204.33 148.916L206.38 195.15L206.12 195.15ZM214.27 148.916L214.53 148.916L212.48 195.15L212.22 195.15ZM203.2 152.138L204.33 152.138L204.33 152.258L203.2 152.258ZM214.27 152.138L215 152.138L215 152.258L214.27 152.258ZM204.07 152.198L204.33 152.198L206.38 195.3L206.12 195.3ZM214.27 152.198L214.53 152.198L212.48 195.3L212.22 195.3ZM203.2 155.42L204.33 155.42L204.33 155.54L203.2 155.54ZM214.27 155.42L215 155.42L215 155.54L214.27 155.54ZM204.07 155.48L204.33 155.48L206.38 195.45L206.12 195.45ZM214.27 155.48L214.53 155.48L212.48 195.45L212.22 195.45ZM203.2 158.702L204.33 158.702L204.33 158.822L203.2 158.822ZM214.27 158.702L215 158.702L215 158.822L214.27 158.822ZM204.07 158.762L204.33 158.762L206.38 195.6L206.12 195.6ZM214.27 158.762L214.53 158.762L212.48 195.6L212.22 195.6ZM203.2 161.984L204.33 161.984L204.33 162.104L203.2 162.104ZM214.27 161.984L215 161.984L215 162.104L214.27 162.104ZM204.07 162.044L204.33 162.044L206.38 195.75L206.12 195.75ZM214.27 162.044L214.53 162.044L212.48 195.75L212.22 195.75ZM203.2 165.266L204.33 165.266L204.33 165.386L203.2 165.386ZM214.27 165.266L215 165.266L215 165.386L214.27 165.386ZM204.07 165.326L204.33 165.326L206.38 195.9L206.12 195.9ZM214.27 165.326L214.53 165.326L212.48 195.9L212.22 195.9ZM203.2 168.548L204.33 168.548L204.33 168.668L203.2 168.668ZM214.27 168.548L215 168.548L215 168.668L214.27 168.668ZM204.07 168.608L204.33 168.608L206.38 196.3L206.12 196.3ZM214.27 168.608L214.53 168.608L212.48 196.3L212.22 196.3ZM203.2 171.83L204.33 171.83L204.33 171.95L203.2 171.95ZM214.27 171.83L215 171.83L215 171.95L214.27 171.95ZM204.07 171.89L204.33 171.89L206.38 196.413L206.12 196.413ZM214.27 171.89L214.53 171.89L212.48 196.413L212.22 196.413ZM203.2 175.112L204.33 175.112L204.33 175.232L203.2 175.232ZM214.27 175.112L215 175.112L215 175.232L214.27 175.232ZM204.069 175.172L204.331 175.172L206.381 196.525L206.119 196.525ZM214.269 175.172L214.531 175.172L212.481 196.525L212.219 196.525ZM203.2 178.394L204.33 178.394L204.33 178.514L203.2 178.514ZM214.27 178.394L215 178.394L215 178.514L214.27 178.514ZM204.069 178.454L204.331 178.454L206.381 196.637L206.119 196.637ZM214.269 178.454L214.531 178.454L212.481 196.637L212.219 196.637ZM203.2 181.676L204.33 181.676L204.33 181.796L203.2 181.796ZM214.27 181.676L215 181.676L215 181.796L214.27 181.796ZM204.069 181.736L204.331 181.736L206.381 196.75L206.119 196.75ZM214.269 181.736L214.531 181.736L212.481 196.75L212.219 196.75ZM203.2 184.958L204.33 184.958L204.33 185.078L203.2 185.078ZM214.27 184.958L215 184.958L215 185.078L214.27 185.078ZM204.068 185.018L204.332 185.018L206.382 196.863L206.118 196.863ZM214.268 185.018L214.532 185.018L212.482 196.863L212.218 196.863ZM203.2 188.24L204.33 188.24L204.33 188.36L203.2 188.36ZM214.27 188.24L215 188.24L215 188.36L214.27 188.36ZM204.066 188.3L204.334 188.3L206.384 196.975L206.116 196.975ZM214.266 188.3L214.534 188.3L212.484 196.975L212.216 196.975ZM203.2 191.522L204.33 191.522L204.33 191.642L203.2 191.642ZM214.27 191.522L215 191.522L215 191.642L214.27 191.642ZM204.061 191.582L204.339 191.582L206.389 197.087L206.111 197.087ZM214.261 191.582L214.539 191.582L212.489 197.087L212.211 197.087ZM203.2 194.804L204.33 194.804L204.33 194.924L203.2 194.924ZM214.27 194.804L215 194.804L215 194.924L214.27 194.924ZM204.027 194.864L204.373 194.864L206.423 197.2L206.077 197.2ZM214.227 194.864L214.573 194.864L212.523 197.2L212.177 197.2ZM203.2 198.086L204.33 198.086L204.33 198.206L203.2 198.206ZM214.27 198.086L215 198.086L215 198.206L214.27 198.206ZM204.2 198.014L206.25 197.668L206.25 197.932L204.2 198.278ZM214.4 198.278L212.35 197.932L212.35 197.668L214.4 198.014ZM203.2 201.368L204.33 201.368L204.33 201.488L203.2 201.488ZM214.27 201.368L215 201.368L215 201.488L214.27 201.488ZM206.098 198.05L206.402 198.05L204.352 201.428L204.048 201.428ZM212.198 198.05L212.502 198.05L214.552 201.428L214.248 201.428ZM203.2 204.65L204.33 204.65L204.33 204.77L203.2 204.77ZM214.27 204.65L215 204.65L215 204.77L214.27 204.77ZM206.114 198.3L206.386 198.3L204.336 204.71L204.064 204.71ZM212.214 198.3L212.486 198.3L214.536 204.71L214.264 204.71ZM203.2 207.932L204.33 207.932L204.33 208.052L203.2 208.052ZM214.27 207.932L215 207.932L215 208.052L214.27 208.052ZM206.114 201.5L206.386 201.5L204.336 207.992L204.064 207.992ZM212.214 201.5L212.486 201.5L214.536 207.992L214.264 207.992ZM203.2 211.214L204.33 211.214L204.33 211.334L203.2 211.334ZM214.27 211.214L215 211.214L215 211.334L214.27 211.334ZM206.117 201.671L206.383 201.671L204.333 211.274L204.067 211.274ZM212.217 201.671L212.483 201.671L214.533 211.274L214.267 211.274ZM203.2 214.496L204.33 214.496L204.33 214.616L203.2 214.616ZM214.27 214.496L215 214.496L215 214.616L214.27 214.616ZM206.118 201.843L206.382 201.843L204.332 214.556L204.068 214.556ZM212.218 201.843L212.482 201.843L214.532 214.556L214.268 214.556ZM203.2 217.778L204.33 217.778L204.33 217.898L203.2 217.898ZM214.27 217.778L215 217.778L215 217.898L214.27 217.898ZM206.119 202.014L206.381 202.014L204.331 217.838L204.069 217.838ZM212.219 202.014L212.481 202.014L214.531 217.838L214.269 217.838ZM203.2 221.06L204.33 221.06L204.33 221.18L203.2 221.18ZM214.27 221.06L215 221.06L215 221.18L214.27 221.18ZM206.119 202.186L206.381 202.186L204.331 221.12L204.069 221.12ZM212.219 202.186L212.481 202.186L214.531 221.12L214.269 221.12ZM203.2 224.342L204.33 224.342L204.33 224.462L203.2 224.462ZM214.27 224.342L215 224.342L215 224.462L214.27 224.462ZM206.119 202.357L206.381 202.357L204.331 224.402L204.069 224.402ZM212.219 202.357L212.481 202.357L214.531 224.402L214.269 224.402ZM203.2 227.624L204.33 227.624L204.33 227.744L203.2 227.744ZM214.27 227.624L215 227.624L215 227.744L214.27 227.744ZM206.12 202.529L206.38 202.529L204.33 227.684L204.07 227.684ZM212.22 202.529L212.48 202.529L214.53 227.684L214.27 227.684ZM203.2 230.906L204.33 230.906L204.33 231.026L203.2 231.026ZM214.27 230.906L215 230.906L215 231.026L214.27 231.026ZM206.12 202.7L206.38 202.7L204.33 230.966L204.07 230.966ZM212.22 202.7L212.48 202.7L214.53 230.966L214.27 230.966ZM203.2 234.188L204.33 234.188L204.33 234.308L203.2 234.308ZM214.27 234.188L215 234.188L215 234.308L214.27 234.308ZM206.12 205.2L206.38 205.2L204.33 234.248L204.07 234.248ZM212.22 205.2L212.48 205.2L214.53 234.248L214.27 234.248ZM203.2 237.47L204.33 237.47L204.33 237.59L203.2 237.59ZM214.27 237.47L215 237.47L215 237.59L214.27 237.59ZM206.12 205.479L206.38 205.479L204.33 237.53L204.07 237.53ZM212.22 205.479L212.48 205.479L214.53 237.53L214.27 237.53ZM203.2 240.752L204.33 240.752L204.33 240.872L203.2 240.872ZM214.27 240.752L215 240.752L215 240.872L214.27 240.872ZM206.12 205.757L206.38 205.757L204.33 240.812L204.07 240.812ZM212.22 205.757L212.48 205.757L214.53 240.812L214.27 240.812ZM203.2 244.034L204.33 244.034L204.33 244.154L203.2 244.154ZM214.27 244.034L215 244.034L215 244.154L214.27 244.154ZM206.12 206.036L206.38 206.036L204.33 244.094L204.07 244.094ZM212.22 206.036L212.48 206.036L214.53 244.094L214.27 244.094ZM203.2 247.316L204.33 247.316L204.33 247.436L203.2 247.436ZM214.27 247.316L215 247.316L215 247.436L214.27 247.436ZM206.12 206.314L206.38 206.314L204.33 247.376L204.07 247.376ZM212.22 206.314L212.48 206.314L214.53 247.376L214.27 247.376ZM203.2 250.598L204.33 250.598L204.33 250.718L203.2 250.718ZM214.27 250.598L215 250.598L215 250.718L214.27 250.718ZM206.12 206.593L206.38 206.593L204.33 250.658L204.07 250.658ZM212.22 206.593L212.48 206.593L214.53 250.658L214.27 250.658ZM203.2 253.88L204.33 253.88L204.33 254L203.2 254ZM214.27 253.88L215 253.88L215 254L214.27 254ZM206.12 206.871L206.38 206.871L204.33 253.94L204.07 253.94ZM212.22 206.871L212.48 206.871L214.53 253.94L214.27 253.94ZM203.2 257.162L204.33 257.162L204.33 257.282L203.2 257.282ZM214.27 257.162L215 257.162L215 257.282L214.27 257.282ZM206.12 207.15L206.38 207.15L204.33 257.222L204.07 257.222ZM212.22 207.15L212.48 207.15L214.53 257.222L214.27 257.222ZM203.2 260.444L204.33 260.444L204.33 260.564L203.2 260.564ZM214.27 260.444L215 260.444L215 260.564L214.27 260.564ZM206.12 207.429L206.38 207.429L204.33 260.504L204.07 260.504ZM212.22 207.429L212.48 207.429L214.53 260.504L214.27 260.504ZM203.2 263.726L204.33 263.726L204.33 263.846L203.2 263.846ZM214.27 263.726L215 263.726L215 263.846L214.27 263.846ZM206.12 207.707L206.38 207.707L204.33 263.786L204.07 263.786ZM212.22 207.707L212.48 207.707L214.53 263.786L214.27 263.786ZM203.2 267.008L204.33 267.008L204.33 267.128L203.2 267.128ZM214.27 267.008L215 267.008L215 267.128L214.27 267.128ZM206.12 207.986L206.38 207.986L204.33 267.068L204.07 267.068ZM212.22 207.986L212.48 207.986L214.53 267.068L214.27 267.068ZM203.2 270.29L204.33 270.29L204.33 270.41L203.2 270.41ZM214.27 270.29L215 270.29L215 270.41L214.27 270.41ZM206.12 208.264L206.38 208.264L204.33 270.35L204.07 270.35ZM212.22 208.264L212.48 208.264L214.53 270.35L214.27 270.35ZM203.2 273.572L204.33 273.572L204.33 273.692L203.2 273.692ZM214.27 273.572L215 273.572L215 273.692L214.27 273.692ZM206.12 208.543L206.38 208.543L204.33 273.632L204.07 273.632ZM212.22 208.543L212.48 208.543L214.53 273.632L214.27 273.632ZM203.2 276.854L204.33 276.854L204.33 276.974L203.2 276.974ZM214.27 276.854L215 276.854L215 276.974L214.27 276.974ZM206.12 208.821L206.38 208.821L204.33 276.914L204.07 276.914ZM212.22 208.821L212.48 208.821L214.53 276.914L214.27 276.914ZM203.2 280.136L204.33 280.136L204.33 280.256L203.2 280.256ZM214.27 280.136L215 280.136L215 280.256L214.27 280.256ZM206.12 209.1L206.38 209.1L204.33 280.196L204.07 280.196ZM212.22 209.1L212.48 209.1L214.53 280.196L214.27 280.196ZM203.2 283.418L204.33 283.418L204.33 283.538L203.2 283.538ZM214.27 283.418L215 283.418L215 283.538L214.27 283.538ZM206.12 209.6L206.38 209.6L204.33 283.478L204.07 283.478ZM212.22 209.6L212.48 209.6L214.53 283.478L214.27 283.478ZM203.2 286.7L204.33 286.7L204.33 286.82L203.2 286.82ZM214.27 286.7L215 286.7L215 286.82L214.27 286.82ZM206.12 210.7L206.38 210.7L204.33 286.76L204.07 286.76ZM212.22 210.7L212.48 210.7L214.53 286.76L214.27 286.76ZM203.2 289.982L204.33 289.982L204.33 290.102L203.2 290.102ZM214.27 289.982L215 289.982L215 290.102L214.27 290.102ZM206.12 211.8L206.38 211.8L204.33 290.042L204.07 290.042ZM212.22 211.8L212.48 211.8L214.53 290.042L214.27 290.042ZM203.2 293.264L204.33 293.264L204.33 293.384L203.2 293.384ZM214.27 293.264L215 293.264L215 293.384L214.27 293.384ZM206.12 212.9L206.38 212.9L204.33 293.324L204.07 293.324ZM212.22 212.9L212.48 212.9L214.53 293.324L214.27 293.324ZM203.2 296.546L204.33 296.546L204.33 296.666L203.2 296.666ZM214.27 296.546L215 296.546L215 296.666L214.27 296.666ZM206.12 214L206.38 214L204.33 296.606L204.07 296.606ZM212.22 214L212.48 214L214.53 296.606L214.27 296.606ZM203.2 299.828L204.33 299.828L204.33 299.948L203.2 299.948ZM214.27 299.828L215 299.828L215 299.948L214.27 299.948ZM206.12 214.5L206.38 214.5L204.33 299.888L204.07 299.888ZM212.22 214.5L212.48 214.5L214.53 299.888L214.27 299.888ZM203.2 303.11L204.33 303.11L204.33 303.23L203.2 303.23ZM214.27 303.11L215 303.11L215 303.23L214.27 303.23ZM206.12 215.167L206.38 215.167L204.33 303.17L204.07 303.17ZM212.22 215.167L212.48 215.167L214.53 303.17L214.27 303.17ZM203.2 306.392L204.33 306.392L204.33 306.512L203.2 306.512ZM214.27 306.392L215 306.392L215 306.512L214.27 306.512ZM206.12 215.833L206.38 215.833L204.33 306.452L204.07 306.452ZM212.22 215.833L212.48 215.833L214.53 306.452L214.27 306.452ZM203.2 309.674L204.33 309.674L204.33 309.794L203.2 309.794ZM214.27 309.674L215 309.674L215 309.794L214.27 309.794ZM206.12 216.5L206.38 216.5L204.33 309.734L204.07 309.734ZM212.22 216.5L212.48 216.5L214.53 309.734L214.27 309.734ZM203.2 312.956L204.33 312.956L204.33 313.076L203.2 313.076ZM214.27 312.956L215 312.956L215 313.076L214.27 313.076ZM206.12 217L206.38 217L204.33 313.016L204.07 313.016ZM212.22 217L212.48 217L214.53 313.016L214.27 313.016ZM203.2 316.238L204.33 316.238L204.33 316.358L203.2 316.358ZM214.27 316.238L215 316.238L215 316.358L214.27 316.358ZM206.12 217.333L206.38 217.333L204.33 316.298L204.07 316.298ZM212.22 217.333L212.48 217.333L214.53 316.298L214.27 316.298ZM203.2 319.52L204.33 319.52L204.33 319.64L203.2 319.64ZM214.27 319.52L215 319.52L215 319.64L214.27 319.64ZM206.12 217.667L206.38 217.667L204.33 319.58L204.07 319.58ZM212.22 217.667L212.48 217.667L214.53 319.58L214.27 319.58ZM203.2 322.802L204.33 322.802L204.33 322.922L203.2 322.922ZM214.27 322.802L215 322.802L215 322.922L214.27 322.922ZM206.12 218L206.38 218L204.33 322.862L204.07 322.862ZM212.22 218L212.48 218L214.53 322.862L214.27 322.862ZM203.2 326.084L204.33 326.084L204.33 326.204L203.2 326.204ZM214.27 326.084L215 326.084L215 326.204L214.27 326.204ZM206.12 218.4L206.38 218.4L204.33 326.144L204.07 326.144ZM212.22 218.4L212.48 218.4L214.53 326.144L214.27 326.144ZM203.2 329.366L204.33 329.366L204.33 329.486L203.2 329.486ZM214.27 329.366L215 329.366L215 329.486L214.27 329.486ZM206.12 220.4L206.38 220.4L204.33 329.426L204.07 329.426ZM212.22 220.4L212.48 220.4L214.53 329.426L214.27 329.426ZM203.2 332.648L204.33 332.648L204.33 332.768L203.2 332.768ZM214.27 332.648L215 332.648L215 332.768L214.27 332.768ZM206.12 220.9L206.38 220.9L204.33 332.708L204.07 332.708ZM212.22 220.9L212.48 220.9L214.53 332.708L214.27 332.708ZM203.2 335.93L204.33 335.93L204.33 336.05L203.2 336.05ZM214.27 335.93L215 335.93L215 336.05L214.27 336.05ZM206.12 221.4L206.38 221.4L204.33 335.99L204.07 335.99ZM212.22 221.4L212.48 221.4L214.53 335.99L214.27 335.99ZM203.2 339.212L204.33 339.212L204.33 339.332L203.2 339.332ZM214.27 339.212L215 339.212L215 339.332L214.27 339.332ZM206.12 221.9L206.38 221.9L204.33 339.272L204.07 339.272ZM212.22 221.9L212.48 221.9L214.53 339.272L214.27 339.272ZM203.2 342.494L204.33 342.494L204.33 342.614L203.2 342.614ZM214.27 342.494L215 342.494L215 342.614L214.27 342.614ZM206.12 226.3L206.38 226.3L204.33 342.554L204.07 342.554ZM212.22 226.3L212.48 226.3L214.53 342.554L214.27 342.554ZM203.2 345.776L204.33 345.776L204.33 345.896L203.2 345.896ZM214.27 345.776L215 345.776L215 345.896L214.27 345.896ZM206.12 227.3L206.38 227.3L204.33 345.836L204.07 345.836ZM212.22 227.3L212.48 227.3L214.53 345.836L214.27 345.836ZM203.2 349.058L204.33 349.058L204.33 349.178L203.2 349.178ZM214.27 349.058L215 349.058L215 349.178L214.27 349.178ZM206.12 229.5L206.38 229.5L204.33 349.118L204.07 349.118ZM212.22 229.5L212.48 229.5L214.53 349.118L214.27 349.118ZM203.2 352.34L204.33 352.34L204.33 352.46L203.2 352.46ZM214.27 352.34L215 352.34L215 352.46L214.27 352.46ZM206.12 230.1L206.38 230.1L204.33 352.4L204.07 352.4ZM212.22 230.1L212.48 230.1L214.53 352.4L214.27 352.4ZM203.2 355.622L204.33 355.622L204.33 355.742L203.2 355.742ZM214.27 355.622L215 355.622L215 355.742L214.27 355.742ZM206.12 230.7L206.38 230.7L204.33 355.682L204.07 355.682ZM212.22 230.7L212.48 230.7L214.53 355.682L214.27 355.682ZM203.2 358.904L204.33 358.904L204.33 359.024L203.2 359.024ZM214.27 358.904L215 358.904L215 359.024L214.27 359.024ZM206.12 231.3L206.38 231.3L204.33 358.964L204.07 358.964ZM212.22 231.3L212.48 231.3L214.53 358.964L214.27 358.964ZM203.2 362.186L204.33 362.186L204.33 362.306L203.2 362.306ZM214.27 362.186L215 362.186L215 362.306L214.27 362.306ZM206.12 233.2L206.38 233.2L204.33 362.246L204.07 362.246ZM212.22 233.2L212.48 233.2L214.53 362.246L214.27 362.246ZM203.2 365.468L204.33 365.468L204.33 365.588L203.2 365.588ZM214.27 365.468L215 365.468L215 365.588L214.27 365.588ZM206.12 234.15L206.38 234.15L204.33 365.528L204.07 365.528ZM212.22 234.15L212.48 234.15L214.53 365.528L214.27 365.528ZM203.2 368.75L204.33 368.75L204.33 368.87L203.2 368.87ZM214.27 368.75L215 368.75L215 368.87L214.27 368.87ZM206.12 235.1L206.38 235.1L204.33 368.81L204.07 368.81ZM212.22 235.1L212.48 235.1L214.53 368.81L214.27 368.81ZM203.2 372.032L204.33 372.032L204.33 372.152L203.2 372.152ZM214.27 372.032L215 372.032L215 372.152L214.27 372.152ZM206.12 239.4L206.38 239.4L204.33 372.092L204.07 372.092ZM212.22 239.4L212.48 239.4L214.53 372.092L214.27 372.092ZM203.2 375.314L204.33 375.314L204.33 375.434L203.2 375.434ZM214.27 375.314L215 375.314L215 375.434L214.27 375.434ZM206.12 240.2L206.38 240.2L204.33 375.374L204.07 375.374ZM212.22 240.2L212.48 240.2L214.53 375.374L214.27 375.374ZM203.2 378.596L204.33 378.596L204.33 378.716L203.2 378.716ZM214.27 378.596L215 378.596L215 378.716L214.27 378.716ZM206.12 241L206.38 241L204.33 378.656L204.07 378.656ZM212.22 241L212.48 241L214.53 378.656L214.27 378.656ZM203.2 381.878L204.33 381.878L204.33 381.998L203.2 381.998ZM214.27 381.878L215 381.878L215 381.998L214.27 381.998ZM206.12 241.8L206.38 241.8L204.33 381.938L204.07 381.938ZM212.22 241.8L212.48 241.8L214.53 381.938L214.27 381.938ZM203.2 385.16L204.33 385.16L204.33 385.28L203.2 385.28ZM214.27 385.16L215 385.16L215 385.28L214.27 385.28ZM206.12 244.4L206.38 244.4L204.33 385.22L204.07 385.22ZM212.22 244.4L212.48 244.4L214.53 385.22L214.27 385.22ZM203.2 388.442L204.33 388.442L204.33 388.562L203.2 388.562ZM214.27 388.442L215 388.442L215 388.562L214.27 388.562ZM206.12 247.2L206.38 247.2L204.33 388.502L204.07 388.502ZM212.22 247.2L212.48 247.2L214.53 388.502L214.27 388.502ZM203.2 391.724L204.33 391.724L204.33 391.844L203.2 391.844ZM214.27 391.724L215 391.724L215 391.844L214.27 391.844ZM206.12 248.2L206.38 248.2L204.33 391.784L204.07 391.784ZM212.22 248.2L212.48 248.2L214.53 391.784L214.27 391.784ZM203.2 395.006L204.33 395.006L204.33 395.126L203.2 395.126ZM214.27 395.006L215 395.006L215 395.126L214.27 395.126ZM206.12 249.4L206.38 249.4L204.33 395.066L204.07 395.066ZM212.22 249.4L212.48 249.4L214.53 395.066L214.27 395.066ZM203.2 398.288L204.33 398.288L204.33 398.408L203.2 398.408ZM214.27 398.288L215 398.288L215 398.408L214.27 398.408ZM206.12 252.9L206.38 252.9L204.33 398.348L204.07 398.348ZM212.22 252.9L212.48 252.9L214.53 398.348L214.27 398.348ZM203.2 401.57L204.33 401.57L204.33 401.69L203.2 401.69ZM214.27 401.57L215 401.57L215 401.69L214.27 401.69ZM206.12 259.3L206.38 259.3L204.33 401.63L204.07 401.63ZM212.22 259.3L212.48 259.3L214.53 401.63L214.27 401.63ZM203.2 404.852L204.33 404.852L204.33 404.972L203.2 404.972ZM214.27 404.852L215 404.852L215 404.972L214.27 404.972ZM206.12 260.5L206.38 260.5L204.33 404.912L204.07 404.912ZM212.22 260.5L212.48 260.5L214.53 404.912L214.27 404.912ZM203.2 408.134L204.33 408.134L204.33 408.254L203.2 408.254ZM214.27 408.134L215 408.134L215 408.254L214.27 408.254ZM206.12 271.5L206.38 271.5L204.33 408.194L204.07 408.194ZM212.22 271.5L212.48 271.5L214.53 408.194L214.27 408.194Z" fill="#000" stroke="none"/>
<g transform="scale(0.1)" text-rendering="geometricPrecision" font-family="'Liberation Sans',sans-serif" font-size="23" fill="#000" stroke="#000" stroke-width="0.4">
<text transform="translate(2030 250.5) rotate(0.3)" text-anchor="end" textLength="36.14" lengthAdjust="spacingAndGlyphs">0.0</text>
<text transform="translate(2160.5 250.5) rotate(0.3)" textLength="178" lengthAdjust="spacingAndGlyphs">AX-110816133</text>
<text transform="translate(2030 283.32) rotate(0.3)" text-anchor="end" textLength="50.6" lengthAdjust="spacingAndGlyphs">34.2</text>
<text transform="translate(2160.5 283.32) rotate(0.3)" textLength="178" lengthAdjust="spacingAndGlyphs">AX-110100147</text>
<text transform="translate(2030 316.14) rotate(0.3)" text-anchor="end" textLength="50.6" lengthAdjust="spacingAndGlyphs">40.5</text>
<text transform="translate(2160.5 316.14) rotate(0.3)" textLength="178" lengthAdjust="spacingAndGlyphs">AX-109213455</text>
<text transform="translate(2030 348.96) rotate(0.3)" text-anchor="end" textLength="50.6" lengthAdjust="spacingAndGlyphs">46.9</text>
<text transform="translate(2160.5 348.96) rotate(0.3)" textLength="178" lengthAdjust="spacingAndGlyphs">AX-108405440</text>
<text transform="translate(2030 381.78) rotate(0.3)" text-anchor="end" textLength="50.6" lengthAdjust="spacingAndGlyphs">51.6</text>
<text transform="translate(2160.5 381.78) rotate(0.3)" textLength="178" lengthAdjust="spacingAndGlyphs">AX-944559874</text>
<text transform="translate(2030 414.6) rotate(0.3)" text-anchor="end" textLength="50.6" lengthAdjust="spacingAndGlyphs">55.2</text>
<text transform="translate(2160.5 414.6) rotate(0.3)" textLength="178" lengthAdjust="spacingAndGlyphs">AX-949060681</text>
<text transform="translate(2030 447.42) rotate(0.3)" text-anchor="end" textLength="50.6" lengthAdjust="spacingAndGlyphs">57.7</text>
<text transform="translate(2160.5 447.42) rotate(0.3)" textLength="178" lengthAdjust="spacingAndGlyphs">AX-111708931</text>
<text transform="translate(2030 480.24) rotate(0.3)" text-anchor="end" textLength="50.6" lengthAdjust="spacingAndGlyphs">61.9</text>
<text transform="translate(2160.5 480.24) rotate(0.3)" textLength="178" lengthAdjust="spacingAndGlyphs">AX-949426083</text>
<text transform="translate(2030 513.06) rotate(0.3)" text-anchor="end" textLength="50.6" lengthAdjust="spacingAndGlyphs">74.3</text>
<text transform="translate(2160.5 513.06) rotate(0.3)" textLength="178" lengthAdjust="spacingAndGlyphs">AX-111005717</text>
<text transform="translate(2030 545.88) rotate(0.3)" text-anchor="end" textLength="50.6" lengthAdjust="spacingAndGlyphs">76.8</text>
<text transform="translate(2160.5 545.88) rotate(0.3)" textLength="178" lengthAdjust="spacingAndGlyphs">AX-944279584</text>
<text transform="translate(2030 578.7) rotate(0.3)" text-anchor="end" textLength="50.6" lengthAdjust="spacingAndGlyphs">79.1</text>
<text transform="translate(2160.5 578.7) rotate(0.3)" textLength="178" lengthAdjust="spacingAndGlyphs">AX-949243372</text>
<text transform="translate(2030 611.52) rotate(0.3)" text-anchor="end" textLength="50.6" lengthAdjust="spacingAndGlyphs">90.8</text>
<text transform="translate(2160.5 611.52) rotate(0.3)" textLength="178" lengthAdjust="spacingAndGlyphs">AX-109178155</text>
<text transform="translate(2030 644.34) rotate(0.3)" text-anchor="end" textLength="65.05" lengthAdjust="spacingAndGlyphs">100.4</text>
<text transform="translate(2160.5 644.34) rotate(0.3)" textLength="372" lengthAdjust="spacingAndGlyphs">AX-109661605 AX-110446882</text>
<text transform="translate(2030 677.16) rotate(0.3)" text-anchor="end" textLength="65.05" lengthAdjust="spacingAndGlyphs">103.4</text>
<text transform="translate(2160.5 677.16) rotate(0.3)" textLength="178" lengthAdjust="spacingAndGlyphs">AX-108372899</text>
<text transform="translate(2030 709.98) rotate(0.3)" text-anchor="end" textLength="65.05" lengthAdjust="spacingAndGlyphs">104.7</text>
<text transform="translate(2160.5 709.98) rotate(0.3)" textLength="178" lengthAdjust="spacingAndGlyphs">AX-944059582</text>
<text transform="translate(2030 742.8) rotate(0.3)" text-anchor="end" textLength="65.05" lengthAdjust="spacingAndGlyphs">106.1</text>
<text transform="translate(2160.5 742.8) rotate(0.3)" textLength="178" lengthAdjust="spacingAndGlyphs">AX-108852774</text>
<text transform="translate(2030 775.62) rotate(0.3)" text-anchor="end" textLength="65.05" lengthAdjust="spacingAndGlyphs">111.1</text>
<text transform="translate(2160.5 775.62) rotate(0.3)" textLength="178" lengthAdjust="spacingAndGlyphs">AX-949325738</text>
<text transform="translate(2030 808.44) rotate(0.3)" text-anchor="end" textLength="65.05" lengthAdjust="spacingAndGlyphs">113.0</text>
<text transform="translate(2160.5 808.44) rotate(0.3)" textLength="178" lengthAdjust="spacingAndGlyphs">AX-110449223</text>
<text transform="translate(2030 841.26) rotate(0.3)" text-anchor="end" textLength="65.05" lengthAdjust="spacingAndGlyphs">119.8</text>
<text transform="translate(2160.5 841.26) rotate(0.3)" textLength="178" lengthAdjust="spacingAndGlyphs">AX-944598523</text>
<text transform="translate(2030 874.08) rotate(0.3)" text-anchor="end" textLength="65.05" lengthAdjust="spacingAndGlyphs">128.9</text>
<text transform="translate(2160.5 874.08) rotate(0.3)" textLength="372" lengthAdjust="spacingAndGlyphs">AX-111341213 AX-108224464</text>
<text transform="translate(2030 906.9) rotate(0.3)" text-anchor="end" textLength="65.05" lengthAdjust="spacingAndGlyphs">130.2</text>
<text transform="translate(2160.5 906.9) rotate(0.3)" textLength="178" lengthAdjust="spacingAndGlyphs">AX-110114367</text>
<text transform="translate(2030 939.72) rotate(0.3)" text-anchor="end" textLength="65.05" lengthAdjust="spacingAndGlyphs">137.2</text>
<text transform="translate(2160.5 939.72) rotate(0.3)" textLength="178" lengthAdjust="spacingAndGlyphs">AX-109066384</text>
<text transform="translate(2030 972.54) rotate(0.3)" text-anchor="end" textLength="65.05" lengthAdjust="spacingAndGlyphs">145.1</text>
<text transform="translate(2160.5 972.54) rotate(0.3)" textLength="178" lengthAdjust="spacingAndGlyphs">AX-108024960</text>
<text transform="translate(2030 1005.36) rotate(0.3)" text-anchor="end" textLength="65.05" lengthAdjust="spacingAndGlyphs">149.4</text>
<text transform="translate(2160.5 1005.36) rotate(0.3)" textLength="178" lengthAdjust="spacingAndGlyphs">AX-944369963</text>
<text transform="translate(2030 1038.18) rotate(0.3)" text-anchor="end" textLength="65.05" lengthAdjust="spacingAndGlyphs">153.4</text>
<text transform="translate(2160.5 1038.18) rotate(0.3)" textLength="178" lengthAdjust="spacingAndGlyphs">AX-944932176</text>
<text transform="translate(2030 1071) rotate(0.3)" text-anchor="end" textLength="65.05" lengthAdjust="spacingAndGlyphs">157.8</text>
<text transform="translate(2160.5 1071) rotate(0.3)" textLength="178" lengthAdjust="spacingAndGlyphs">AX-111416362</text>
<text transform="translate(2030 1103.82) rotate(0.3)" text-anchor="end" textLength="65.05" lengthAdjust="spacingAndGlyphs">161.3</text>
<text transform="translate(2160.5 1103.82) rotate(0.3)" textLength="178" lengthAdjust="spacingAndGlyphs">AX-111677096</text>
<text transform="translate(2030 1136.64) rotate(0.3)" text-anchor="end" textLength="65.05" lengthAdjust="spacingAndGlyphs">164.6</text>
<text transform="translate(2160.5 1136.64) rotate(0.3)" textLength="372" lengthAdjust="spacingAndGlyphs">AX-949250671 AX-109483238</text>
<text transform="translate(2030 1169.46) rotate(0.3)" text-anchor="end" textLength="65.05" lengthAdjust="spacingAndGlyphs">166.1</text>
<text transform="translate(2160.5 1169.46) rotate(0.3)" textLength="372" lengthAdjust="spacingAndGlyphs">AX-111197837 AX-949058567</text>
<text transform="translate(2030 1202.28) rotate(0.3)" text-anchor="end" textLength="65.05" lengthAdjust="spacingAndGlyphs">167.3</text>
<text transform="translate(2160.5 1202.28) rotate(0.3)" textLength="178" lengthAdjust="spacingAndGlyphs">AX-110268195</text>
<text transform="translate(2030 1235.1) rotate(0.3)" text-anchor="end" textLength="65.05" lengthAdjust="spacingAndGlyphs">168.6</text>
<text transform="translate(2160.5 1235.1) rotate(0.3)" textLength="178" lengthAdjust="spacingAndGlyphs">AX-944044660</text>
<text transform="translate(2030 1267.92) rotate(0.3)" text-anchor="end" textLength="65.05" lengthAdjust="spacingAndGlyphs">169.9</text>
<text transform="translate(2160.5 1267.92) rotate(0.3)" textLength="178" lengthAdjust="spacingAndGlyphs">AX-109166594</text>
<text transform="translate(2030 1300.74) rotate(0.3)" text-anchor="end" textLength="65.05" lengthAdjust="spacingAndGlyphs">171.5</text>
<text transform="translate(2160.5 1300.74) rotate(0.3)" textLength="178" lengthAdjust="spacingAndGlyphs">AX-109346836</text>
<text transform="translate(2030 1333.56) rotate(0.3)" text-anchor="end" textLength="65.05" lengthAdjust="spacingAndGlyphs">172.9</text>
<text transform="translate(2160.5 1333.56) rotate(0.3)" textLength="178" lengthAdjust="spacingAndGlyphs">AX-108322137</text>
<text transform="translate(2030 1366.38) rotate(0.3)" text-anchor="end" textLength="65.05" lengthAdjust="spacingAndGlyphs">181.2</text>
<text transform="translate(2160.5 1366.38) rotate(0.3)" textLength="178" lengthAdjust="spacingAndGlyphs">AX-944832567</text>
<text transform="translate(2030 1399.2) rotate(0.3)" text-anchor="end" textLength="65.05" lengthAdjust="spacingAndGlyphs">182.5</text>
<text transform="translate(2160.5 1399.2) rotate(0.3)" textLength="178" lengthAdjust="spacingAndGlyphs">AX-111827534</text>
<text transform="translate(2030 1432.02) rotate(0.3)" text-anchor="end" textLength="65.05" lengthAdjust="spacingAndGlyphs">187.0</text>
<text transform="translate(2160.5 1432.02) rotate(0.3)" textLength="178" lengthAdjust="spacingAndGlyphs">AX-944646270</text>
<text transform="translate(2030 1464.84) rotate(0.3)" text-anchor="end" textLength="65.05" lengthAdjust="spacingAndGlyphs">191.9</text>
<text transform="translate(2160.5 1464.84) rotate(0.3)" textLength="178" lengthAdjust="spacingAndGlyphs">AX-944453457</text>
<text transform="translate(2030 1497.66) rotate(0.3)" text-anchor="end" textLength="65.05" lengthAdjust="spacingAndGlyphs">193.5</text>
<text transform="translate(2160.5 1497.66) rotate(0.3)" textLength="178" lengthAdjust="spacingAndGlyphs">AX-108691524</text>
<text transform="translate(2030 1530.48) rotate(0.3)" text-anchor="end" textLength="65.05" lengthAdjust="spacingAndGlyphs">196.2</text>
<text transform="translate(2160.5 1530.48) rotate(0.3)" textLength="178" lengthAdjust="spacingAndGlyphs">AX-108019528</text>
<text transform="translate(2030 1563.3) rotate(0.3)" text-anchor="end" textLength="65.05" lengthAdjust="spacingAndGlyphs">199.7</text>
<text transform="translate(2160.5 1563.3) rotate(0.3)" textLength="178" lengthAdjust="spacingAndGlyphs">AX-111900314</text>
<text transform="translate(2030 1596.12) rotate(0.3)" text-anchor="end" textLength="65.05" lengthAdjust="spacingAndGlyphs">204.4</text>
<text transform="translate(2160.5 1596.12) rotate(0.3)" textLength="178" lengthAdjust="spacingAndGlyphs">AX-111919232</text>
<text transform="translate(2030 1628.94) rotate(0.3)" text-anchor="end" textLength="65.05" lengthAdjust="spacingAndGlyphs">209.2</text>
<text transform="translate(2160.5 1628.94) rotate(0.3)" textLength="178" lengthAdjust="spacingAndGlyphs">AX-108523682</text>
<text transform="translate(2030 1661.76) rotate(0.3)" text-anchor="end" textLength="65.05" lengthAdjust="spacingAndGlyphs">211.9</text>
<text transform="translate(2160.5 1661.76) rotate(0.3)" textLength="178" lengthAdjust="spacingAndGlyphs">AX-949918437</text>
<text transform="translate(2030 1694.58) rotate(0.3)" text-anchor="end" textLength="65.05" lengthAdjust="spacingAndGlyphs">216.4</text>
<text transform="translate(2160.5 1694.58) rotate(0.3)" textLength="178" lengthAdjust="spacingAndGlyphs">AX-944381718</text>
<text transform="translate(2030 1727.4) rotate(0.3)" text-anchor="end" textLength="65.05" lengthAdjust="spacingAndGlyphs">219.8</text>
<text transform="translate(2160.5 1727.4) rotate(0.3)" textLength="178" lengthAdjust="spacingAndGlyphs">AX-109463277</text>
<text transform="translate(2030 1760.22) rotate(0.3)" text-anchor="end" textLength="65.05" lengthAdjust="spacingAndGlyphs">221.1</text>
<text transform="translate(2160.5 1760.22) rotate(0.3)" textLength="178" lengthAdjust="spacingAndGlyphs">AX-949077273</text>
<text transform="translate(2030 1793.04) rotate(0.3)" text-anchor="end" textLength="65.05" lengthAdjust="spacingAndGlyphs">225.7</text>
<text transform="translate(2160.5 1793.04) rotate(0.3)" textLength="178" lengthAdjust="spacingAndGlyphs">AX-108289025</text>
<text transform="translate(2030 1825.86) rotate(0.3)" text-anchor="end" textLength="65.05" lengthAdjust="spacingAndGlyphs">235.2</text>
<text transform="translate(2160.5 1825.86) rotate(0.3)" textLength="178" lengthAdjust="spacingAndGlyphs">AX-108974756</text>
<text transform="translate(2030 1858.68) rotate(0.3)" text-anchor="end" textLength="65.05" lengthAdjust="spacingAndGlyphs">240.9</text>
<text transform="translate(2160.5 1858.68) rotate(0.3)" textLength="178" lengthAdjust="spacingAndGlyphs">AX-108125009</text>
<text transform="translate(2030 1891.5) rotate(0.3)" text-anchor="end" textLength="65.05" lengthAdjust="spacingAndGlyphs">244.1</text>
<text transform="translate(2160.5 1891.5) rotate(0.3)" textLength="178" lengthAdjust="spacingAndGlyphs">AX-109518772</text>
<text transform="translate(2030 1924.32) rotate(0.3)" text-anchor="end" textLength="65.05" lengthAdjust="spacingAndGlyphs">247.8</text>
<text transform="translate(2160.5 1924.32) rotate(0.3)" textLength="178" lengthAdjust="spacingAndGlyphs">AX-109362515</text>
<text transform="translate(2030 1957.14) rotate(0.3)" text-anchor="end" textLength="65.05" lengthAdjust="spacingAndGlyphs">250.3</text>
<text transform="translate(2160.5 1957.14) rotate(0.3)" textLength="178" lengthAdjust="spacingAndGlyphs">AX-111788346</text>
<text transform="translate(2030 1989.96) rotate(0.3)" text-anchor="end" textLength="65.05" lengthAdjust="spacingAndGlyphs">253.1</text>
<text transform="translate(2160.5 1989.96) rotate(0.3)" textLength="178" lengthAdjust="spacingAndGlyphs">AX-111648044</text>
<text transform="translate(2030 2022.78) rotate(0.3)" text-anchor="end" textLength="65.05" lengthAdjust="spacingAndGlyphs">261.4</text>
<text transform="translate(2160.5 2022.78) rotate(0.3)" textLength="178" lengthAdjust="spacingAndGlyphs">AX-111765848</text>
<text transform="translate(2030 2055.6) rotate(0.3)" text-anchor="end" textLength="65.05" lengthAdjust="spacingAndGlyphs">262.7</text>
<text transform="translate(2160.5 2055.6) rotate(0.3)" textLength="178" lengthAdjust="spacingAndGlyphs">AX-111371535</text>
<text transform="translate(2030 2088.42) rotate(0.3)" text-anchor="end" textLength="65.05" lengthAdjust="spacingAndGlyphs">267.6</text>
<text transform="translate(2160.5 2088.42) rotate(0.3)" textLength="178" lengthAdjust="spacingAndGlyphs">AX-944429106</text>
<text transform="translate(2030 2121.24) rotate(0.3)" text-anchor="end" textLength="65.05" lengthAdjust="spacingAndGlyphs">269.1</text>
<text transform="translate(2160.5 2121.24) rotate(0.3)" textLength="178" lengthAdjust="spacingAndGlyphs">AX-944868906</text>
<text transform="translate(2030 2154.06) rotate(0.3)" text-anchor="end" textLength="65.05" lengthAdjust="spacingAndGlyphs">278.7</text>
<text transform="translate(2160.5 2154.06) rotate(0.3)" textLength="178" lengthAdjust="spacingAndGlyphs">AX-111100379</text>
<text transform="translate(2030 2186.88) rotate(0.3)" text-anchor="end" textLength="65.05" lengthAdjust="spacingAndGlyphs">280.6</text>
<text transform="translate(2160.5 2186.88) rotate(0.3)" textLength="178" lengthAdjust="spacingAndGlyphs">AX-944088969</text>
<text transform="translate(2030 2219.7) rotate(0.3)" text-anchor="end" textLength="65.05" lengthAdjust="spacingAndGlyphs">285.3</text>
<text transform="translate(2160.5 2219.7) rotate(0.3)" textLength="178" lengthAdjust="spacingAndGlyphs">AX-110913072</text>
<text transform="translate(2030 2252.52) rotate(0.3)" text-anchor="end" textLength="65.05" lengthAdjust="spacingAndGlyphs">286.7</text>
<text transform="translate(2160.5 2252.52) rotate(0.3)" textLength="178" lengthAdjust="spacingAndGlyphs">AX-109206105</text>
<text transform="translate(2030 2285.34) rotate(0.3)" text-anchor="end" textLength="65.05" lengthAdjust="spacingAndGlyphs">294.7</text>
<text transform="translate(2160.5 2285.34) rotate(0.3)" textLength="178" lengthAdjust="spacingAndGlyphs">AX-110484426</text>
<text transform="translate(2030 2318.16) rotate(0.3)" text-anchor="end" textLength="65.05" lengthAdjust="spacingAndGlyphs">303.1</text>
<text transform="translate(2160.5 2318.16) rotate(0.3)" textLength="178" lengthAdjust="spacingAndGlyphs">AX-109506990</text>
<text transform="translate(2030 2350.98) rotate(0.3)" text-anchor="end" textLength="65.05" lengthAdjust="spacingAndGlyphs">311.9</text>
<text transform="translate(2160.5 2350.98) rotate(0.3)" textLength="178" lengthAdjust="spacingAndGlyphs">AX-108980169</text>
<text transform="translate(2030 2383.8) rotate(0.3)" text-anchor="end" textLength="65.05" lengthAdjust="spacingAndGlyphs">313.7</text>
<text transform="translate(2160.5 2383.8) rotate(0.3)" textLength="178" lengthAdjust="spacingAndGlyphs">AX-944671069</text>
<text transform="translate(2030 2416.62) rotate(0.3)" text-anchor="end" textLength="65.05" lengthAdjust="spacingAndGlyphs">315.0</text>
<text transform="translate(2160.5 2416.62) rotate(0.3)" textLength="178" lengthAdjust="spacingAndGlyphs">AX-949276811</text>
<text transform="translate(2030 2449.44) rotate(0.3)" text-anchor="end" textLength="65.05" lengthAdjust="spacingAndGlyphs">319.7</text>
<text transform="translate(2160.5 2449.44) rotate(0.3)" textLength="178" lengthAdjust="spacingAndGlyphs">AX-944732060</text>
<text transform="translate(2030 2482.26) rotate(0.3)" text-anchor="end" textLength="65.05" lengthAdjust="spacingAndGlyphs">324.8</text>
<text transform="translate(2160.5 2482.26) rotate(0.3)" textLength="178" lengthAdjust="spacingAndGlyphs">AX-109113127</text>
<text transform="translate(2030 2515.08) rotate(0.3)" text-anchor="end" textLength="65.05" lengthAdjust="spacingAndGlyphs">330.1</text>
<text transform="translate(2160.5 2515.08) rotate(0.3)" textLength="178" lengthAdjust="spacingAndGlyphs">AX-109493720</text>
<text transform="translate(2030 2547.9) rotate(0.3)" text-anchor="end" textLength="65.05" lengthAdjust="spacingAndGlyphs">338.4</text>
<text transform="translate(2160.5 2547.9) rotate(0.3)" textLength="178" lengthAdjust="spacingAndGlyphs">AX-111214877</text>
<text transform="translate(2030 2580.72) rotate(0.3)" text-anchor="end" textLength="65.05" lengthAdjust="spacingAndGlyphs">347.6</text>
<text transform="translate(2160.5 2580.72) rotate(0.3)" textLength="178" lengthAdjust="spacingAndGlyphs">AX-944400000</text>
<text transform="translate(2030 2613.54) rotate(0.3)" text-anchor="end" textLength="65.05" lengthAdjust="spacingAndGlyphs">349.6</text>
<text transform="translate(2160.5 2613.54) rotate(0.3)" textLength="178" lengthAdjust="spacingAndGlyphs">AX-944916449</text>
<text transform="translate(2030 2646.36) rotate(0.3)" text-anchor="end" textLength="65.05" lengthAdjust="spacingAndGlyphs">358.2</text>
<text transform="translate(2160.5 2646.36) rotate(0.3)" textLength="372" lengthAdjust="spacingAndGlyphs">AX-110790559 AX-944772215</text>
<text transform="translate(2030 2679.18) rotate(0.3)" text-anchor="end" textLength="65.05" lengthAdjust="spacingAndGlyphs">366.1</text>
<text transform="translate(2160.5 2679.18) rotate(0.3)" textLength="178" lengthAdjust="spacingAndGlyphs">AX-944267674</text>
<text transform="translate(2030 2712) rotate(0.3)" text-anchor="end" textLength="65.05" lengthAdjust="spacingAndGlyphs">367.5</text>
<text transform="translate(2160.5 2712) rotate(0.3)" textLength="178" lengthAdjust="spacingAndGlyphs">AX-949544099</text>
<text transform="translate(2030 2744.82) rotate(0.3)" text-anchor="end" textLength="65.05" lengthAdjust="spacingAndGlyphs">370.9</text>
<text transform="translate(2160.5 2744.82) rotate(0.3)" textLength="178" lengthAdjust="spacingAndGlyphs">AX-111902949</text>
<text transform="translate(2030 2777.64) rotate(0.3)" text-anchor="end" textLength="65.05" lengthAdjust="spacingAndGlyphs">372.4</text>
<text transform="translate(2160.5 2777.64) rotate(0.3)" textLength="178" lengthAdjust="spacingAndGlyphs">AX-108366693</text>
<text transform="translate(2030 2810.46) rotate(0.3)" text-anchor="end" textLength="65.05" lengthAdjust="spacingAndGlyphs">380.6</text>
<text transform="translate(2160.5 2810.46) rotate(0.3)" textLength="178" lengthAdjust="spacingAndGlyphs">AX-108405446</text>
<text transform="translate(2030 2843.28) rotate(0.3)" text-anchor="end" textLength="65.05" lengthAdjust="spacingAndGlyphs">387.8</text>
<text transform="translate(2160.5 2843.28) rotate(0.3)" textLength="178" lengthAdjust="spacingAndGlyphs">AX-110904292</text>
<text transform="translate(2030 2876.1) rotate(0.3)" text-anchor="end" textLength="65.05" lengthAdjust="spacingAndGlyphs">389.4</text>
<text transform="translate(2160.5 2876.1) rotate(0.3)" textLength="178" lengthAdjust="spacingAndGlyphs">AX-111875818</text>
<text transform="translate(2030 2908.92) rotate(0.3)" text-anchor="end" textLength="65.05" lengthAdjust="spacingAndGlyphs">390.9</text>
<text transform="translate(2160.5 2908.92) rotate(0.3)" textLength="372" lengthAdjust="spacingAndGlyphs">AX-949763349 AX-109673490</text>
<text transform="translate(2030 2941.74) rotate(0.3)" text-anchor="end" textLength="65.05" lengthAdjust="spacingAndGlyphs">399.2</text>
<text transform="translate(2160.5 2941.74) rotate(0.3)" textLength="178" lengthAdjust="spacingAndGlyphs">AX-108781851</text>
<text transform="translate(2030 2974.56) rotate(0.3)" text-anchor="end" textLength="65.05" lengthAdjust="spacingAndGlyphs">400.8</text>
<text transform="translate(2160.5 2974.56) rotate(0.3)" textLength="178" lengthAdjust="spacingAndGlyphs">AX-110698485</text>
<text transform="translate(2030 3007.38) rotate(0.3)" text-anchor="end" textLength="65.05" lengthAdjust="spacingAndGlyphs">403.3</text>
<text transform="translate(2160.5 3007.38) rotate(0.3)" textLength="178" lengthAdjust="spacingAndGlyphs">AX-108893333</text>
<text transform="translate(2030 3040.2) rotate(0.3)" text-anchor="end" textLength="65.05" lengthAdjust="spacingAndGlyphs">407.6</text>
<text transform="translate(2160.5 3040.2) rotate(0.3)" textLength="178" lengthAdjust="spacingAndGlyphs">AX-109245995</text>
<text transform="translate(2030 3073.02) rotate(0.3)" text-anchor="end" textLength="65.05" lengthAdjust="spacingAndGlyphs">410.1</text>
<text transform="translate(2160.5 3073.02) rotate(0.3)" textLength="178" lengthAdjust="spacingAndGlyphs">AX-108823075</text>
<text transform="translate(2030 3105.84) rotate(0.3)" text-anchor="end" textLength="65.05" lengthAdjust="spacingAndGlyphs">417.4</text>
<text transform="translate(2160.5 3105.84) rotate(0.3)" textLength="178" lengthAdjust="spacingAndGlyphs">AX-109571259</text>
<text transform="translate(2030 3138.66) rotate(0.3)" text-anchor="end" textLength="65.05" lengthAdjust="spacingAndGlyphs">425.9</text>
<text transform="translate(2160.5 3138.66) rotate(0.3)" textLength="178" lengthAdjust="spacingAndGlyphs">AX-109548901</text>
<text transform="translate(2030 3171.48) rotate(0.3)" text-anchor="end" textLength="65.05" lengthAdjust="spacingAndGlyphs">435.2</text>
<text transform="translate(2160.5 3171.48) rotate(0.3)" textLength="178" lengthAdjust="spacingAndGlyphs">AX-109397993</text>
<text transform="translate(2030 3204.3) rotate(0.3)" text-anchor="end" textLength="65.05" lengthAdjust="spacingAndGlyphs">442.5</text>
<text transform="translate(2160.5 3204.3) rotate(0.3)" textLength="178" lengthAdjust="spacingAndGlyphs">AX-111461799</text>
<text transform="translate(2030 3237.12) rotate(0.3)" text-anchor="end" textLength="65.05" lengthAdjust="spacingAndGlyphs">446.2</text>
<text transform="translate(2160.5 3237.12) rotate(0.3)" textLength="178" lengthAdjust="spacingAndGlyphs">AX-110405326</text>
<text transform="translate(2030 3269.94) rotate(0.3)" text-anchor="end" textLength="65.05" lengthAdjust="spacingAndGlyphs">449.3</text>
<text transform="translate(2160.5 3269.94) rotate(0.3)" textLength="178" lengthAdjust="spacingAndGlyphs">AX-109000857</text>
<text transform="translate(2030 3302.76) rotate(0.3)" text-anchor="end" textLength="65.05" lengthAdjust="spacingAndGlyphs">452.9</text>
<text transform="translate(2160.5 3302.76) rotate(0.3)" textLength="178" lengthAdjust="spacingAndGlyphs">AX-108196114</text>
<text transform="translate(2030 3335.58) rotate(0.3)" text-anchor="end" textLength="65.05" lengthAdjust="spacingAndGlyphs">454.2</text>
<text transform="translate(2160.5 3335.58) rotate(0.3)" textLength="178" lengthAdjust="spacingAndGlyphs">AX-111931862</text>
<text transform="translate(2030 3368.4) rotate(0.3)" text-anchor="end" textLength="65.05" lengthAdjust="spacingAndGlyphs">455.5</text>
<text transform="translate(2160.5 3368.4) rotate(0.3)" textLength="372" lengthAdjust="spacingAndGlyphs">AX-108253320 AX-111508004</text>
<text transform="translate(2030 3401.22) rotate(0.3)" text-anchor="end" textLength="65.05" lengthAdjust="spacingAndGlyphs">464.4</text>
<text transform="translate(2160.5 3401.22) rotate(0.3)" textLength="178" lengthAdjust="spacingAndGlyphs">AX-949701250</text>
<text transform="translate(2030 3434.04) rotate(0.3)" text-anchor="end" textLength="65.05" lengthAdjust="spacingAndGlyphs">466.1</text>
<text transform="translate(2160.5 3434.04) rotate(0.3)" textLength="372" lengthAdjust="spacingAndGlyphs">AX-110499717 AX-111546157</text>
<text transform="translate(2030 3466.86) rotate(0.3)" text-anchor="end" textLength="65.05" lengthAdjust="spacingAndGlyphs">474.0</text>
<text transform="translate(2160.5 3466.86) rotate(0.3)" textLength="372" lengthAdjust="spacingAndGlyphs">AX-108273207 AX-944302319</text>
<text transform="translate(2030 3499.68) rotate(0.3)" text-anchor="end" textLength="65.05" lengthAdjust="spacingAndGlyphs">480.5</text>
<text transform="translate(2160.5 3499.68) rotate(0.3)" textLength="178" lengthAdjust="spacingAndGlyphs">AX-111271601</text>
<text transform="translate(2030 3532.5) rotate(0.3)" text-anchor="end" textLength="65.05" lengthAdjust="spacingAndGlyphs">483.0</text>
<text transform="translate(2160.5 3532.5) rotate(0.3)" textLength="372" lengthAdjust="spacingAndGlyphs">AX-108553715 AX-110530278</text>
<text transform="translate(2030 3565.32) rotate(0.3)" text-anchor="end" textLength="65.05" lengthAdjust="spacingAndGlyphs">487.2</text>
<text transform="translate(2160.5 3565.32) rotate(0.3)" textLength="178" lengthAdjust="spacingAndGlyphs">AX-110724663</text>
<text transform="translate(2030 3598.14) rotate(0.3)" text-anchor="end" textLength="65.05" lengthAdjust="spacingAndGlyphs">491.1</text>
<text transform="translate(2160.5 3598.14) rotate(0.3)" textLength="178" lengthAdjust="spacingAndGlyphs">AX-110049452</text>
<text transform="translate(2030 3630.96) rotate(0.3)" text-anchor="end" textLength="65.05" lengthAdjust="spacingAndGlyphs">492.7</text>
<text transform="translate(2160.5 3630.96) rotate(0.3)" textLength="178" lengthAdjust="spacingAndGlyphs">AX-111715771</text>
<text transform="translate(2030 3663.78) rotate(0.3)" text-anchor="end" textLength="65.05" lengthAdjust="spacingAndGlyphs">493.9</text>
<text transform="translate(2160.5 3663.78) rotate(0.3)" textLength="178" lengthAdjust="spacingAndGlyphs">AX-110803874</text>
<text transform="translate(2030 3696.6) rotate(0.3)" text-anchor="end" textLength="65.05" lengthAdjust="spacingAndGlyphs">495.3</text>
<text transform="translate(2160.5 3696.6) rotate(0.3)" textLength="178" lengthAdjust="spacingAndGlyphs">AX-109435643</text>
<text transform="translate(2030 3729.42) rotate(0.3)" text-anchor="end" textLength="65.05" lengthAdjust="spacingAndGlyphs">499.8</text>
<text transform="translate(2160.5 3729.42) rotate(0.3)" textLength="178" lengthAdjust="spacingAndGlyphs">AX-110164620</text>
<text transform="translate(2030 3762.24) rotate(0.3)" text-anchor="end" textLength="65.05" lengthAdjust="spacingAndGlyphs">501.3</text>
<text transform="translate(2160.5 3762.24) rotate(0.3)" textLength="178" lengthAdjust="spacingAndGlyphs">AX-944420785</text>
<text transform="translate(2030 3795.06) rotate(0.3)" text-anchor="end" textLength="65.05" lengthAdjust="spacingAndGlyphs">510.6</text>
<text transform="translate(2160.5 3795.06) rotate(0.3)" textLength="178" lengthAdjust="spacingAndGlyphs">AX-949270842</text>
<text transform="translate(2030 3827.88) rotate(0.3)" text-anchor="end" textLength="65.05" lengthAdjust="spacingAndGlyphs">516.0</text>
<text transform="translate(2160.5 3827.88) rotate(0.3)" textLength="178" lengthAdjust="spacingAndGlyphs">AX-111606349</text>
<text transform="translate(2030 3860.7) rotate(0.3)" text-anchor="end" textLength="65.05" lengthAdjust="spacingAndGlyphs">517.3</text>
<text transform="translate(2160.5 3860.7) rotate(0.3)" textLength="178" lengthAdjust="spacingAndGlyphs">AX-110228323</text>
<text transform="translate(2030 3893.52) rotate(0.3)" text-anchor="end" textLength="65.05" lengthAdjust="spacingAndGlyphs">518.7</text>
<text transform="translate(2160.5 3893.52) rotate(0.3)" textLength="178" lengthAdjust="spacingAndGlyphs">AX-949119742</text>
<text transform="translate(2030 3926.34) rotate(0.3)" text-anchor="end" textLength="65.05" lengthAdjust="spacingAndGlyphs">523.5</text>
<text transform="translate(2160.5 3926.34) rotate(0.3)" textLength="178" lengthAdjust="spacingAndGlyphs">AX-110293943</text>
<text transform="translate(2030 3959.16) rotate(0.3)" text-anchor="end" textLength="65.05" lengthAdjust="spacingAndGlyphs">524.7</text>
<text transform="translate(2160.5 3959.16) rotate(0.3)" textLength="178" lengthAdjust="spacingAndGlyphs">AX-109186085</text>
<text transform="translate(2030 3991.98) rotate(0.3)" text-anchor="end" textLength="65.05" lengthAdjust="spacingAndGlyphs">526.0</text>
<text transform="translate(2160.5 3991.98) rotate(0.3)" textLength="178" lengthAdjust="spacingAndGlyphs">AX-111471067</text>
<text transform="translate(2030 4024.8) rotate(0.3)" text-anchor="end" textLength="65.05" lengthAdjust="spacingAndGlyphs">527.3</text>
<text transform="translate(2160.5 4024.8) rotate(0.3)" textLength="178" lengthAdjust="spacingAndGlyphs">AX-110432950</text>
<text transform="translate(2030 4057.62) rotate(0.3)" text-anchor="end" textLength="65.05" lengthAdjust="spacingAndGlyphs">534.8</text>
<text transform="translate(2160.5 4057.62) rotate(0.3)" textLength="178" lengthAdjust="spacingAndGlyphs">AX-110599058</text>
<text transform="translate(2030 4090.44) rotate(0.3)" text-anchor="end" textLength="65.05" lengthAdjust="spacingAndGlyphs">540.9</text>
<text transform="translate(2160.5 4090.44) rotate(0.3)" textLength="178" lengthAdjust="spacingAndGlyphs">AX-108811535</text>
</g>
</g>
<g>
<text x="341.7" y="9.7" font-family="'Liberation Serif',serif" font-weight="bold" font-size="7.5" text-anchor="middle">3A</text>
<path d="M338.9 161.7 A3.1 3.1 0 0 1 345.1 161.7 L345.1 199.5 L345.1 201.7 L345.1 203.9 L345.1 254.1 A3.1 3.1 0 0 1 338.9 254.1 L338.9 203.9 L338.9 201.7 L338.9 199.5 Z" fill="#fff" stroke="#000" stroke-width="0.2"/>
<path d="M338.9 160.16L345.1 160.16L345.1 160.44L338.9 160.44ZM338.9 160.66L345.1 160.66L345.1 160.94L338.9 160.94ZM338.9 161.16L345.1 161.16L345.1 161.44L338.9 161.44ZM338.9 164.66L345.1 164.66L345.1 164.94L338.9 164.94ZM338.9 167.26L345.1 167.26L345.1 167.54L338.9 167.54ZM338.9 170.96L345.1 170.96L345.1 171.24L338.9 171.24ZM338.9 172.96L345.1 172.96L345.1 173.24L338.9 173.24ZM338.9 175.86L345.1 175.86L345.1 176.14L338.9 176.14ZM338.9 178.06L345.1 178.06L345.1 178.34L338.9 178.34ZM338.9 179.86L345.1 179.86L345.1 180.14L338.9 180.14ZM338.9 181.26L345.1 181.26L345.1 181.54L338.9 181.54ZM338.9 182.26L345.1 182.26L345.1 182.54L338.9 182.54ZM338.9 183.26L345.1 183.26L345.1 183.54L338.9 183.54ZM338.9 185.26L345.1 185.26L345.1 185.54L338.9 185.54ZM338.9 186.66L345.1 186.66L345.1 186.94L338.9 186.94ZM338.9 188.16L345.1 188.16L345.1 188.44L338.9 188.44ZM338.9 188.91L345.1 188.91L345.1 189.19L338.9 189.19ZM338.9 189.66L345.1 189.66L345.1 189.94L338.9 189.94ZM338.9 190.16L345.1 190.16L345.1 190.44L338.9 190.44ZM338.9 191.36L345.1 191.36L345.1 191.64L338.9 191.64ZM338.9 192.56L345.1 192.56L345.1 192.84L338.9 192.84ZM338.9 194.76L345.1 194.76L345.1 195.04L338.9 195.04ZM338.9 195.093L345.1 195.093L345.1 195.373L338.9 195.373ZM338.9 195.427L345.1 195.427L345.1 195.707L338.9 195.707ZM338.9 195.76L345.1 195.76L345.1 196.04L338.9 196.04ZM338.9 198.16L345.1 198.16L345.1 198.44L338.9 198.44ZM338.9 198.31L345.1 198.31L345.1 198.59L338.9 198.59ZM338.9 198.46L345.1 198.46L345.1 198.74L338.9 198.74ZM338.9 198.61L345.1 198.61L345.1 198.89L338.9 198.89ZM338.9 198.76L345.1 198.76L345.1 199.04L338.9 199.04ZM338.9 198.91L345.1 198.91L345.1 199.19L338.9 199.19ZM338.9 199.06L345.1 199.06L345.1 199.34L338.9 199.34ZM338.9 199.21L345.1 199.21L345.1 199.49L338.9 199.49ZM338.9 199.36L345.1 199.36L345.1 199.64L338.9 199.64ZM338.9 200.66L345.1 200.66L345.1 200.94L338.9 200.94ZM338.9 202.56L345.1 202.56L345.1 202.84L338.9 202.84ZM338.9 204.06L345.1 204.06L345.1 204.34L338.9 204.34ZM338.9 204.21L345.1 204.21L345.1 204.49L338.9 204.49ZM338.9 204.36L345.1 204.36L345.1 204.64L338.9 204.64ZM338.9 204.51L345.1 204.51L345.1 204.79L338.9 204.79ZM338.9 204.66L345.1 204.66L345.1 204.94L338.9 204.94ZM338.9 204.81L345.1 204.81L345.1 205.09L338.9 205.09ZM338.9 204.96L345.1 204.96L345.1 205.24L338.9 205.24ZM338.9 205.11L345.1 205.11L345.1 205.39L338.9 205.39ZM338.9 205.26L345.1 205.26L345.1 205.54L338.9 205.54ZM338.9 205.41L345.1 205.41L345.1 205.69L338.9 205.69ZM338.9 205.56L345.1 205.56L345.1 205.84L338.9 205.84ZM338.9 208.36L345.1 208.36L345.1 208.64L338.9 208.64ZM338.9 210.46L345.1 210.46L345.1 210.74L338.9 210.74ZM338.9 211.86L345.1 211.86L345.1 212.14L338.9 212.14ZM338.9 213.86L345.1 213.86L345.1 214.14L338.9 214.14ZM338.9 214.86L345.1 214.86L345.1 215.14L338.9 215.14ZM338.9 218.06L345.1 218.06L345.1 218.34L338.9 218.34ZM338.9 220.26L345.1 220.26L345.1 220.54L338.9 220.54ZM338.9 220.76L345.1 220.76L345.1 221.04L338.9 221.04ZM338.9 221.26L345.1 221.26L345.1 221.54L338.9 221.54ZM338.9 223.66L345.1 223.66L345.1 223.94L338.9 223.94ZM338.9 224.493L345.1 224.493L345.1 224.773L338.9 224.773ZM338.9 225.327L345.1 225.327L345.1 225.607L338.9 225.607ZM338.9 226.16L345.1 226.16L345.1 226.44L338.9 226.44ZM338.9 228.26L345.1 228.26L345.1 228.54L338.9 228.54ZM338.9 232.16L345.1 232.16L345.1 232.44L338.9 232.44ZM338.9 234.16L345.1 234.16L345.1 234.44L338.9 234.44ZM338.9 235.66L345.1 235.66L345.1 235.94L338.9 235.94ZM338.9 237.06L345.1 237.06L345.1 237.34L338.9 237.34ZM338.9 238.06L345.1 238.06L345.1 238.34L338.9 238.34ZM338.9 239.06L345.1 239.06L345.1 239.34L338.9 239.34ZM338.9 240.06L345.1 240.06L345.1 240.34L338.9 240.34ZM338.9 243.96L345.1 243.96L345.1 244.24L338.9 244.24ZM338.9 245.46L345.1 245.46L345.1 245.74L338.9 245.74ZM338.9 247.86L345.1 247.86L345.1 248.14L338.9 248.14ZM338.9 248.86L345.1 248.86L345.1 249.14L338.9 249.14ZM338.9 250.86L345.1 250.86L345.1 251.14L338.9 251.14ZM338.9 256.56L345.1 256.56L345.1 256.84L338.9 256.84Z" fill="#000" stroke="none"/>
<path d="M335.6 88.44L336.73 88.44L336.73 88.56L335.6 88.56ZM347.07 88.44L347.8 88.44L347.8 88.56L347.07 88.56ZM336.47 88.5L336.73 88.5L338.98 160.3L338.72 160.3ZM347.07 88.5L347.33 88.5L345.28 160.3L345.02 160.3ZM335.6 91.722L336.73 91.722L336.73 91.842L335.6 91.842ZM347.07 91.722L347.8 91.722L347.8 91.842L347.07 91.842ZM336.47 91.782L336.73 91.782L338.98 160.8L338.72 160.8ZM347.07 91.782L347.33 91.782L345.28 160.8L345.02 160.8ZM335.6 95.004L336.73 95.004L336.73 95.124L335.6 95.124ZM347.07 95.004L347.8 95.004L347.8 95.124L347.07 95.124ZM336.47 95.064L336.73 95.064L338.98 161.3L338.72 161.3ZM347.07 95.064L347.33 95.064L345.28 161.3L345.02 161.3ZM335.6 98.286L336.73 98.286L336.73 98.406L335.6 98.406ZM347.07 98.286L347.8 98.286L347.8 98.406L347.07 98.406ZM336.47 98.346L336.73 98.346L338.98 164.8L338.72 164.8ZM347.07 98.346L347.33 98.346L345.28 164.8L345.02 164.8ZM335.6 101.568L336.73 101.568L336.73 101.688L335.6 101.688ZM347.07 101.568L347.8 101.568L347.8 101.688L347.07 101.688ZM336.47 101.628L336.73 101.628L338.98 167.4L338.72 167.4ZM347.07 101.628L347.33 101.628L345.28 167.4L345.02 167.4ZM335.6 104.85L336.73 104.85L336.73 104.97L335.6 104.97ZM347.07 104.85L347.8 104.85L347.8 104.97L347.07 104.97ZM336.47 104.91L336.73 104.91L338.98 171.1L338.72 171.1ZM347.07 104.91L347.33 104.91L345.28 171.1L345.02 171.1ZM335.6 108.132L336.73 108.132L336.73 108.252L335.6 108.252ZM347.07 108.132L347.8 108.132L347.8 108.252L347.07 108.252ZM336.47 108.192L336.73 108.192L338.98 173.1L338.72 173.1ZM347.07 108.192L347.33 108.192L345.28 173.1L345.02 173.1ZM335.6 111.414L336.73 111.414L336.73 111.534L335.6 111.534ZM347.07 111.414L347.8 111.414L347.8 111.534L347.07 111.534ZM336.47 111.474L336.73 111.474L338.98 176L338.72 176ZM347.07 111.474L347.33 111.474L345.28 176L345.02 176ZM335.6 114.696L336.73 114.696L336.73 114.816L335.6 114.816ZM347.07 114.696L347.8 114.696L347.8 114.816L347.07 114.816ZM336.47 114.756L336.73 114.756L338.98 178.2L338.72 178.2ZM347.07 114.756L347.33 114.756L345.28 178.2L345.02 178.2ZM335.6 117.978L336.73 117.978L336.73 118.098L335.6 118.098ZM347.07 117.978L347.8 117.978L347.8 118.098L347.07 118.098ZM336.47 118.038L336.73 118.038L338.98 180L338.72 180ZM347.07 118.038L347.33 118.038L345.28 180L345.02 180ZM335.6 121.26L336.73 121.26L336.73 121.38L335.6 121.38ZM347.07 121.26L347.8 121.26L347.8 121.38L347.07 121.38ZM336.47 121.32L336.73 121.32L338.98 181.4L338.72 181.4ZM347.07 121.32L347.33 121.32L345.28 181.4L345.02 181.4ZM335.6 124.542L336.73 124.542L336.73 124.662L335.6 124.662ZM347.07 124.542L347.8 124.542L347.8 124.662L347.07 124.662ZM336.47 124.602L336.73 124.602L338.98 182.4L338.72 182.4ZM347.07 124.602L347.33 124.602L345.28 182.4L345.02 182.4ZM335.6 127.824L336.73 127.824L336.73 127.944L335.6 127.944ZM347.07 127.824L347.8 127.824L347.8 127.944L347.07 127.944ZM336.47 127.884L336.73 127.884L338.98 183.4L338.72 183.4ZM347.07 127.884L347.33 127.884L345.28 183.4L345.02 183.4ZM335.6 131.106L336.73 131.106L336.73 131.226L335.6 131.226ZM347.07 131.106L347.8 131.106L347.8 131.226L347.07 131.226ZM336.47 131.166L336.73 131.166L338.98 185.4L338.72 185.4ZM347.07 131.166L347.33 131.166L345.28 185.4L345.02 185.4ZM335.6 134.388L336.73 134.388L336.73 134.508L335.6 134.508ZM347.07 134.388L347.8 134.388L347.8 134.508L347.07 134.508ZM336.47 134.448L336.73 134.448L338.98 186.8L338.72 186.8ZM347.07 134.448L347.33 134.448L345.28 186.8L345.02 186.8ZM335.6 137.67L336.73 137.67L336.73 137.79L335.6 137.79ZM347.07 137.67L347.8 137.67L347.8 137.79L347.07 137.79ZM336.47 137.73L336.73 137.73L338.98 188.3L338.72 188.3ZM347.07 137.73L347.33 137.73L345.28 188.3L345.02 188.3ZM335.6 140.952L336.73 140.952L336.73 141.072L335.6 141.072ZM347.07 140.952L347.8 140.952L347.8 141.072L347.07 141.072ZM336.47 141.012L336.73 141.012L338.98 189.05L338.72 189.05ZM347.07 141.012L347.33 141.012L345.28 189.05L345.02 189.05ZM335.6 144.234L336.73 144.234L336.73 144.354L335.6 144.354ZM347.07 144.234L347.8 144.234L347.8 144.354L347.07 144.354ZM336.47 144.294L336.73 144.294L338.98 189.8L338.72 189.8ZM347.07 144.294L347.33 144.294L345.28 189.8L345.02 189.8ZM335.6 147.516L336.73 147.516L336.73 147.636L335.6 147.636ZM347.07 147.516L347.8 147.516L347.8 147.636L347.07 147.636ZM336.47 147.576L336.73 147.576L338.98 190.3L338.72 190.3ZM347.07 147.576L347.33 147.576L345.28 190.3L345.02 190.3ZM335.6 150.798L336.73 150.798L336.73 150.918L335.6 150.918ZM347.07 150.798L347.8 150.798L347.8 150.918L347.07 150.918ZM336.47 150.858L336.73 150.858L338.98 191.5L338.72 191.5ZM347.07 150.858L347.33 150.858L345.28 191.5L345.02 191.5ZM335.6 154.08L336.73 154.08L336.73 154.2L335.6 154.2ZM347.07 154.08L347.8 154.08L347.8 154.2L347.07 154.2ZM336.47 154.14L336.73 154.14L338.98 192.7L338.72 192.7ZM347.07 154.14L347.33 154.14L345.28 192.7L345.02 192.7ZM335.6 157.362L336.73 157.362L336.73 157.482L335.6 157.482ZM347.07 157.362L347.8 157.362L347.8 157.482L347.07 157.482ZM336.47 157.422L336.73 157.422L338.98 194.9L338.72 194.9ZM347.07 157.422L347.33 157.422L345.28 194.9L345.02 194.9ZM335.6 160.644L336.73 160.644L336.73 160.764L335.6 160.764ZM347.07 160.644L347.8 160.644L347.8 160.764L347.07 160.764ZM336.47 160.704L336.73 160.704L338.98 195.233L338.72 195.233ZM347.07 160.704L347.33 160.704L345.28 195.233L345.02 195.233ZM335.6 163.926L336.73 163.926L336.73 164.046L335.6 164.046ZM347.07 163.926L347.8 163.926L347.8 164.046L347.07 164.046ZM336.47 163.986L336.73 163.986L338.98 195.567L338.72 195.567ZM347.07 163.986L347.33 163.986L345.28 195.567L345.02 195.567ZM335.6 167.208L336.73 167.208L336.73 167.328L335.6 167.328ZM347.07 167.208L347.8 167.208L347.8 167.328L347.07 167.328ZM336.47 167.268L336.73 167.268L338.98 195.9L338.72 195.9ZM347.07 167.268L347.33 167.268L345.28 195.9L345.02 195.9ZM335.6 170.49L336.73 170.49L336.73 170.61L335.6 170.61ZM347.07 170.49L347.8 170.49L347.8 170.61L347.07 170.61ZM336.47 170.55L336.73 170.55L338.98 198.3L338.72 198.3ZM347.07 170.55L347.33 170.55L345.28 198.3L345.02 198.3ZM335.6 173.772L336.73 173.772L336.73 173.892L335.6 173.892ZM347.07 173.772L347.8 173.772L347.8 173.892L347.07 173.892ZM336.469 173.832L336.731 173.832L338.981 198.45L338.719 198.45ZM347.07 173.832L347.33 173.832L345.28 198.45L345.02 198.45ZM335.6 177.054L336.73 177.054L336.73 177.174L335.6 177.174ZM347.07 177.054L347.8 177.054L347.8 177.174L347.07 177.174ZM336.469 177.114L336.731 177.114L338.981 198.6L338.719 198.6ZM347.069 177.114L347.331 177.114L345.281 198.6L345.019 198.6ZM335.6 180.336L336.73 180.336L336.73 180.456L335.6 180.456ZM347.07 180.336L347.8 180.336L347.8 180.456L347.07 180.456ZM336.469 180.396L336.731 180.396L338.981 198.75L338.719 198.75ZM347.069 180.396L347.331 180.396L345.281 198.75L345.019 198.75ZM335.6 183.618L336.73 183.618L336.73 183.738L335.6 183.738ZM347.07 183.618L347.8 183.618L347.8 183.738L347.07 183.738ZM336.469 183.678L336.731 183.678L338.981 198.9L338.719 198.9ZM347.069 183.678L347.331 183.678L345.281 198.9L345.019 198.9ZM335.6 186.9L336.73 186.9L336.73 187.02L335.6 187.02ZM347.07 186.9L347.8 186.9L347.8 187.02L347.07 187.02ZM336.468 186.96L336.732 186.96L338.982 199.05L338.718 199.05ZM347.068 186.96L347.332 186.96L345.282 199.05L345.018 199.05ZM335.6 190.182L336.73 190.182L336.73 190.302L335.6 190.302ZM347.07 190.182L347.8 190.182L347.8 190.302L347.07 190.302ZM336.466 190.242L336.734 190.242L338.984 199.2L338.716 199.2ZM347.067 190.242L347.333 190.242L345.283 199.2L345.017 199.2ZM335.6 193.464L336.73 193.464L336.73 193.584L335.6 193.584ZM347.07 193.464L347.8 193.464L347.8 193.584L347.07 193.584ZM336.461 193.524L336.739 193.524L338.989 199.35L338.711 199.35ZM347.062 193.524L347.338 193.524L345.288 199.35L345.012 199.35ZM335.6 196.746L336.73 196.746L336.73 196.866L335.6 196.866ZM347.07 196.746L347.8 196.746L347.8 196.866L347.07 196.866ZM336.431 196.806L336.769 196.806L339.019 199.5L338.681 199.5ZM347.037 196.806L347.363 196.806L345.313 199.5L344.987 199.5ZM335.6 200.028L336.73 200.028L336.73 200.148L335.6 200.148ZM347.07 200.028L347.8 200.028L347.8 200.148L347.07 200.148ZM336.6 199.952L338.85 200.664L338.85 200.936L336.6 200.224ZM347.2 200.226L345.15 200.938L345.15 200.662L347.2 199.95ZM335.6 203.31L336.73 203.31L336.73 203.43L335.6 203.43ZM347.07 203.31L347.8 203.31L347.8 203.43L347.07 203.43ZM336.6 203.234L338.85 202.564L338.85 202.836L336.6 203.506ZM347.2 203.507L345.15 202.837L345.15 202.563L347.2 203.233ZM335.6 206.592L336.73 206.592L336.73 206.712L335.6 206.712ZM347.07 206.592L347.8 206.592L347.8 206.712L347.07 206.712ZM338.674 204.2L339.026 204.2L336.776 206.652L336.424 206.652ZM344.981 204.2L345.319 204.2L347.369 206.652L347.031 206.652ZM335.6 209.874L336.73 209.874L336.73 209.994L335.6 209.994ZM347.07 209.874L347.8 209.874L347.8 209.994L347.07 209.994ZM338.71 204.35L338.99 204.35L336.74 209.934L336.46 209.934ZM345.012 204.35L345.288 204.35L347.338 209.934L347.062 209.934ZM335.6 213.156L336.73 213.156L336.73 213.276L335.6 213.276ZM347.07 213.156L347.8 213.156L347.8 213.276L347.07 213.276ZM338.716 204.5L338.984 204.5L336.734 213.216L336.466 213.216ZM345.016 204.5L345.284 204.5L347.334 213.216L347.066 213.216ZM335.6 216.438L336.73 216.438L336.73 216.558L335.6 216.558ZM347.07 216.438L347.8 216.438L347.8 216.558L347.07 216.558ZM338.718 204.65L338.982 204.65L336.732 216.498L336.468 216.498ZM345.018 204.65L345.282 204.65L347.332 216.498L347.068 216.498ZM335.6 219.72L336.73 219.72L336.73 219.84L335.6 219.84ZM347.07 219.72L347.8 219.72L347.8 219.84L347.07 219.84ZM338.719 204.8L338.981 204.8L336.731 219.78L336.469 219.78ZM345.019 204.8L345.281 204.8L347.331 219.78L347.069 219.78ZM335.6 223.002L336.73 223.002L336.73 223.122L335.6 223.122ZM347.07 223.002L347.8 223.002L347.8 223.122L347.07 223.122ZM338.719 204.95L338.981 204.95L336.731 223.062L336.469 223.062ZM345.019 204.95L345.281 204.95L347.331 223.062L347.069 223.062ZM335.6 226.284L336.73 226.284L336.73 226.404L335.6 226.404ZM347.07 226.284L347.8 226.284L347.8 226.404L347.07 226.404ZM338.719 205.1L338.981 205.1L336.731 226.344L336.469 226.344ZM345.019 205.1L345.281 205.1L347.331 226.344L347.069 226.344ZM335.6 229.566L336.73 229.566L336.73 229.686L335.6 229.686ZM347.07 229.566L347.8 229.566L347.8 229.686L347.07 229.686ZM338.719 205.25L338.981 205.25L336.731 229.626L336.469 229.626ZM345.02 205.25L345.28 205.25L347.33 229.626L347.07 229.626ZM335.6 232.848L336.73 232.848L336.73 232.968L335.6 232.968ZM347.07 232.848L347.8 232.848L347.8 232.968L347.07 232.968ZM338.72 205.4L338.98 205.4L336.73 232.908L336.47 232.908ZM345.02 205.4L345.28 205.4L347.33 232.908L347.07 232.908ZM335.6 236.13L336.73 236.13L336.73 236.25L335.6 236.25ZM347.07 236.13L347.8 236.13L347.8 236.25L347.07 236.25ZM338.72 205.55L338.98 205.55L336.73 236.19L336.47 236.19ZM345.02 205.55L345.28 205.55L347.33 236.19L347.07 236.19ZM335.6 239.412L336.73 239.412L336.73 239.532L335.6 239.532ZM347.07 239.412L347.8 239.412L347.8 239.532L347.07 239.532ZM338.72 205.7L338.98 205.7L336.73 239.472L336.47 239.472ZM345.02 205.7L345.28 205.7L347.33 239.472L347.07 239.472ZM335.6 242.694L336.73 242.694L336.73 242.814L335.6 242.814ZM347.07 242.694L347.8 242.694L347.8 242.814L347.07 242.814ZM338.72 208.5L338.98 208.5L336.73 242.754L336.47 242.754ZM345.02 208.5L345.28 208.5L347.33 242.754L347.07 242.754ZM335.6 245.976L336.73 245.976L336.73 246.096L335.6 246.096ZM347.07 245.976L347.8 245.976L347.8 246.096L347.07 246.096ZM338.72 210.6L338.98 210.6L336.73 246.036L336.47 246.036ZM345.02 210.6L345.28 210.6L347.33 246.036L347.07 246.036ZM335.6 249.258L336.73 249.258L336.73 249.378L335.6 249.378ZM347.07 249.258L347.8 249.258L347.8 249.378L347.07 249.378ZM338.72 212L338.98 212L336.73 249.318L336.47 249.318ZM345.02 212L345.28 212L347.33 249.318L347.07 249.318ZM335.6 252.54L336.73 252.54L336.73 252.66L335.6 252.66ZM347.07 252.54L347.8 252.54L347.8 252.66L347.07 252.66ZM338.72 214L338.98 214L336.73 252.6L336.47 252.6ZM345.02 214L345.28 214L347.33 252.6L347.07 252.6ZM335.6 255.822L336.73 255.822L336.73 255.942L335.6 255.942ZM347.07 255.822L347.8 255.822L347.8 255.942L347.07 255.942ZM338.72 215L338.98 215L336.73 255.882L336.47 255.882ZM345.02 215L345.28 215L347.33 255.882L347.07 255.882ZM335.6 259.104L336.73 259.104L336.73 259.224L335.6 259.224ZM347.07 259.104L347.8 259.104L347.8 259.224L347.07 259.224ZM338.72 218.2L338.98 218.2L336.73 259.164L336.47 259.164ZM345.02 218.2L345.28 218.2L347.33 259.164L347.07 259.164ZM335.6 262.386L336.73 262.386L336.73 262.506L335.6 262.506ZM347.07 262.386L347.8 262.386L347.8 262.506L347.07 262.506ZM338.72 220.4L338.98 220.4L336.73 262.446L336.47 262.446ZM345.02 220.4L345.28 220.4L347.33 262.446L347.07 262.446ZM335.6 265.668L336.73 265.668L336.73 265.788L335.6 265.788ZM347.07 265.668L347.8 265.668L347.8 265.788L347.07 265.788ZM338.72 220.9L338.98 220.9L336.73 265.728L336.47 265.728ZM345.02 220.9L345.28 220.9L347.33 265.728L347.07 265.728ZM335.6 268.95L336.73 268.95L336.73 269.07L335.6 269.07ZM347.07 268.95L347.8 268.95L347.8 269.07L347.07 269.07ZM338.72 221.4L338.98 221.4L336.73 269.01L336.47 269.01ZM345.02 221.4L345.28 221.4L347.33 269.01L347.07 269.01ZM335.6 272.232L336.73 272.232L336.73 272.352L335.6 272.352ZM347.07 272.232L347.8 272.232L347.8 272.352L347.07 272.352ZM338.72 223.8L338.98 223.8L336.73 272.292L336.47 272.292ZM345.02 223.8L345.28 223.8L347.33 272.292L347.07 272.292ZM335.6 275.514L336.73 275.514L336.73 275.634L335.6 275.634ZM347.07 275.514L347.8 275.514L347.8 275.634L347.07 275.634ZM338.72 224.633L338.98 224.633L336.73 275.574L336.47 275.574ZM345.02 224.633L345.28 224.633L347.33 275.574L347.07 275.574ZM335.6 278.796L336.73 278.796L336.73 278.916L335.6 278.916ZM347.07 278.796L347.8 278.796L347.8 278.916L347.07 278.916ZM338.72 225.467L338.98 225.467L336.73 278.856L336.47 278.856ZM345.02 225.467L345.28 225.467L347.33 278.856L347.07 278.856ZM335.6 282.078L336.73 282.078L336.73 282.198L335.6 282.198ZM347.07 282.078L347.8 282.078L347.8 282.198L347.07 282.198ZM338.72 226.3L338.98 226.3L336.73 282.138L336.47 282.138ZM345.02 226.3L345.28 226.3L347.33 282.138L347.07 282.138ZM335.6 285.36L336.73 285.36L336.73 285.48L335.6 285.48ZM347.07 285.36L347.8 285.36L347.8 285.48L347.07 285.48ZM338.72 228.4L338.98 228.4L336.73 285.42L336.47 285.42ZM345.02 228.4L345.28 228.4L347.33 285.42L347.07 285.42ZM335.6 288.642L336.73 288.642L336.73 288.762L335.6 288.762ZM347.07 288.642L347.8 288.642L347.8 288.762L347.07 288.762ZM338.72 232.3L338.98 232.3L336.73 288.702L336.47 288.702ZM345.02 232.3L345.28 232.3L347.33 288.702L347.07 288.702ZM335.6 291.924L336.73 291.924L336.73 292.044L335.6 292.044ZM347.07 291.924L347.8 291.924L347.8 292.044L347.07 292.044ZM338.72 234.3L338.98 234.3L336.73 291.984L336.47 291.984ZM345.02 234.3L345.28 234.3L347.33 291.984L347.07 291.984ZM335.6 295.206L336.73 295.206L336.73 295.326L335.6 295.326ZM347.07 295.206L347.8 295.206L347.8 295.326L347.07 295.326ZM338.72 235.8L338.98 235.8L336.73 295.266L336.47 295.266ZM345.02 235.8L345.28 235.8L347.33 295.266L347.07 295.266ZM335.6 298.488L336.73 298.488L336.73 298.608L335.6 298.608ZM347.07 298.488L347.8 298.488L347.8 298.608L347.07 298.608ZM338.72 237.2L338.98 237.2L336.73 298.548L336.47 298.548ZM345.02 237.2L345.28 237.2L347.33 298.548L347.07 298.548ZM335.6 301.77L336.73 301.77L336.73 301.89L335.6 301.89ZM347.07 301.77L347.8 301.77L347.8 301.89L347.07 301.89ZM338.72 238.2L338.98 238.2L336.73 301.83L336.47 301.83ZM345.02 238.2L345.28 238.2L347.33 301.83L347.07 301.83ZM335.6 305.052L336.73 305.052L336.73 305.172L335.6 305.172ZM347.07 305.052L347.8 305.052L347.8 305.172L347.07 305.172ZM338.72 239.2L338.98 239.2L336.73 305.112L336.47 305.112ZM345.02 239.2L345.28 239.2L347.33 305.112L347.07 305.112ZM335.6 308.334L336.73 308.334L336.73 308.454L335.6 308.454ZM347.07 308.334L347.8 308.334L347.8 308.454L347.07 308.454ZM338.72 240.2L338.98 240.2L336.73 308.394L336.47 308.394ZM345.02 240.2L345.28 240.2L347.33 308.394L347.07 308.394ZM335.6 311.616L336.73 311.616L336.73 311.736L335.6 311.736ZM347.07 311.616L347.8 311.616L347.8 311.736L347.07 311.736ZM338.72 244.1L338.98 244.1L336.73 311.676L336.47 311.676ZM345.02 244.1L345.28 244.1L347.33 311.676L347.07 311.676ZM335.6 314.898L336.73 314.898L336.73 315.018L335.6 315.018ZM347.07 314.898L347.8 314.898L347.8 315.018L347.07 315.018ZM338.72 245.6L338.98 245.6L336.73 314.958L336.47 314.958ZM345.02 245.6L345.28 245.6L347.33 314.958L347.07 314.958ZM335.6 318.18L336.73 318.18L336.73 318.3L335.6 318.3ZM347.07 318.18L347.8 318.18L347.8 318.3L347.07 318.3ZM338.72 248L338.98 248L336.73 318.24L336.47 318.24ZM345.02 248L345.28 248L347.33 318.24L347.07 318.24ZM335.6 321.462L336.73 321.462L336.73 321.582L335.6 321.582ZM347.07 321.462L347.8 321.462L347.8 321.582L347.07 321.582ZM338.72 249L338.98 249L336.73 321.522L336.47 321.522ZM345.02 249L345.28 249L347.33 321.522L347.07 321.522ZM335.6 324.744L336.73 324.744L336.73 324.864L335.6 324.864ZM347.07 324.744L347.8 324.744L347.8 324.864L347.07 324.864ZM338.72 251L338.98 251L336.73 324.804L336.47 324.804ZM345.02 251L345.28 251L347.33 324.804L347.07 324.804ZM335.6 328.026L336.73 328.026L336.73 328.146L335.6 328.146ZM347.07 328.026L347.8 328.026L347.8 328.146L347.07 328.146ZM338.72 256.7L338.98 256.7L336.73 328.086L336.47 328.086ZM345.02 256.7L345.28 256.7L347.33 328.086L347.07 328.086Z" fill="#000" stroke="none"/>
<g transform="scale(0.1)" text-rendering="geometricPrecision" font-family="'Liberation Sans',sans-serif" font-size="23" fill="#000" stroke="#000" stroke-width="0.4">
<text transform="translate(3354 893.5) rotate(0.3)" text-anchor="end" textLength="36.14" lengthAdjust="spacingAndGlyphs">0.0</text>
<text transform="translate(3488.5 893.5) rotate(0.3)" textLength="178" lengthAdjust="spacingAndGlyphs">AX-110803266</text>
<text transform="translate(3354 926.32) rotate(0.3)" text-anchor="end" textLength="50.6" lengthAdjust="spacingAndGlyphs">27.8</text>
<text transform="translate(3488.5 926.32) rotate(0.3)" textLength="178" lengthAdjust="spacingAndGlyphs">AX-108000949</text>
<text transform="translate(3354 959.14) rotate(0.3)" text-anchor="end" textLength="50.6" lengthAdjust="spacingAndGlyphs">43.5</text>
<text transform="translate(3488.5 959.14) rotate(0.3)" textLength="178" lengthAdjust="spacingAndGlyphs">AX-111809141</text>
<text transform="translate(3354 991.96) rotate(0.3)" text-anchor="end" textLength="50.6" lengthAdjust="spacingAndGlyphs">62.3</text>
<text transform="translate(3488.5 991.96) rotate(0.3)" textLength="178" lengthAdjust="spacingAndGlyphs">AX-949063041</text>
<text transform="translate(3354 1024.78) rotate(0.3)" text-anchor="end" textLength="50.6" lengthAdjust="spacingAndGlyphs">72.3</text>
<text transform="translate(3488.5 1024.78) rotate(0.3)" textLength="178" lengthAdjust="spacingAndGlyphs">AX-111521098</text>
<text transform="translate(3354 1057.6) rotate(0.3)" text-anchor="end" textLength="50.6" lengthAdjust="spacingAndGlyphs">92.2</text>
<text transform="translate(3488.5 1057.6) rotate(0.3)" textLength="178" lengthAdjust="spacingAndGlyphs">AX-111179827</text>
<text transform="translate(3354 1090.42) rotate(0.3)" text-anchor="end" textLength="50.6" lengthAdjust="spacingAndGlyphs">97.0</text>
<text transform="translate(3488.5 1090.42) rotate(0.3)" textLength="178" lengthAdjust="spacingAndGlyphs">AX-109824694</text>
<text transform="translate(3354 1123.24) rotate(0.3)" text-anchor="end" textLength="65.05" lengthAdjust="spacingAndGlyphs">100.4</text>
<text transform="translate(3488.5 1123.24) rotate(0.3)" textLength="178" lengthAdjust="spacingAndGlyphs">AX-111318479</text>
<text transform="translate(3354 1156.06) rotate(0.3)" text-anchor="end" textLength="65.05" lengthAdjust="spacingAndGlyphs">109.3</text>
<text transform="translate(3488.5 1156.06) rotate(0.3)" textLength="178" lengthAdjust="spacingAndGlyphs">AX-944936385</text>
<text transform="translate(3354 1188.88) rotate(0.3)" text-anchor="end" textLength="65.05" lengthAdjust="spacingAndGlyphs">113.8</text>
<text transform="translate(3488.5 1188.88) rotate(0.3)" textLength="178" lengthAdjust="spacingAndGlyphs">AX-108849774</text>
<text transform="translate(3354 1221.7) rotate(0.3)" text-anchor="end" textLength="65.05" lengthAdjust="spacingAndGlyphs">115.8</text>
<text transform="translate(3488.5 1221.7) rotate(0.3)" textLength="178" lengthAdjust="spacingAndGlyphs">AX-109353388</text>
<text transform="translate(3354 1254.52) rotate(0.3)" text-anchor="end" textLength="65.05" lengthAdjust="spacingAndGlyphs">126.1</text>
<text transform="translate(3488.5 1254.52) rotate(0.3)" textLength="178" lengthAdjust="spacingAndGlyphs">AX-108960523</text>
<text transform="translate(3354 1287.34) rotate(0.3)" text-anchor="end" textLength="65.05" lengthAdjust="spacingAndGlyphs">128.3</text>
<text transform="translate(3488.5 1287.34) rotate(0.3)" textLength="178" lengthAdjust="spacingAndGlyphs">AX-111857443</text>
<text transform="translate(3354 1320.16) rotate(0.3)" text-anchor="end" textLength="65.05" lengthAdjust="spacingAndGlyphs">131.0</text>
<text transform="translate(3488.5 1320.16) rotate(0.3)" textLength="178" lengthAdjust="spacingAndGlyphs">AX-111002819</text>
<text transform="translate(3354 1352.98) rotate(0.3)" text-anchor="end" textLength="65.05" lengthAdjust="spacingAndGlyphs">133.1</text>
<text transform="translate(3488.5 1352.98) rotate(0.3)" textLength="178" lengthAdjust="spacingAndGlyphs">AX-111708675</text>
<text transform="translate(3354 1385.8) rotate(0.3)" text-anchor="end" textLength="65.05" lengthAdjust="spacingAndGlyphs">140.0</text>
<text transform="translate(3488.5 1385.8) rotate(0.3)" textLength="178" lengthAdjust="spacingAndGlyphs">AX-944183265</text>
<text transform="translate(3354 1418.62) rotate(0.3)" text-anchor="end" textLength="65.05" lengthAdjust="spacingAndGlyphs">142.3</text>
<text transform="translate(3488.5 1418.62) rotate(0.3)" textLength="178" lengthAdjust="spacingAndGlyphs">AX-944523994</text>
<text transform="translate(3354 1451.44) rotate(0.3)" text-anchor="end" textLength="65.05" lengthAdjust="spacingAndGlyphs">145.5</text>
<text transform="translate(3488.5 1451.44) rotate(0.3)" textLength="178" lengthAdjust="spacingAndGlyphs">AX-949174261</text>
<text transform="translate(3354 1484.26) rotate(0.3)" text-anchor="end" textLength="65.05" lengthAdjust="spacingAndGlyphs">151.5</text>
<text transform="translate(3488.5 1484.26) rotate(0.3)" textLength="178" lengthAdjust="spacingAndGlyphs">AX-109689176</text>
<text transform="translate(3354 1517.08) rotate(0.3)" text-anchor="end" textLength="65.05" lengthAdjust="spacingAndGlyphs">165.3</text>
<text transform="translate(3488.5 1517.08) rotate(0.3)" textLength="178" lengthAdjust="spacingAndGlyphs">AX-949264991</text>
<text transform="translate(3354 1549.9) rotate(0.3)" text-anchor="end" textLength="65.05" lengthAdjust="spacingAndGlyphs">167.2</text>
<text transform="translate(3488.5 1549.9) rotate(0.3)" textLength="178" lengthAdjust="spacingAndGlyphs">AX-108774545</text>
<text transform="translate(3354 1582.72) rotate(0.3)" text-anchor="end" textLength="65.05" lengthAdjust="spacingAndGlyphs">180.3</text>
<text transform="translate(3488.5 1582.72) rotate(0.3)" textLength="178" lengthAdjust="spacingAndGlyphs">AX-108889650</text>
<text transform="translate(3354 1615.54) rotate(0.3)" text-anchor="end" textLength="65.05" lengthAdjust="spacingAndGlyphs">189.4</text>
<text transform="translate(3488.5 1615.54) rotate(0.3)" textLength="178" lengthAdjust="spacingAndGlyphs">AX-944767428</text>
<text transform="translate(3354 1648.36) rotate(0.3)" text-anchor="end" textLength="65.05" lengthAdjust="spacingAndGlyphs">192.2</text>
<text transform="translate(3488.5 1648.36) rotate(0.3)" textLength="178" lengthAdjust="spacingAndGlyphs">AX-111269693</text>
<text transform="translate(3354 1681.18) rotate(0.3)" text-anchor="end" textLength="65.05" lengthAdjust="spacingAndGlyphs">203.2</text>
<text transform="translate(3488.5 1681.18) rotate(0.3)" textLength="178" lengthAdjust="spacingAndGlyphs">AX-109559353</text>
<text transform="translate(3354 1714) rotate(0.3)" text-anchor="end" textLength="65.05" lengthAdjust="spacingAndGlyphs">210.5</text>
<text transform="translate(3488.5 1714) rotate(0.3)" textLength="178" lengthAdjust="spacingAndGlyphs">AX-108000497</text>
<text transform="translate(3354 1746.82) rotate(0.3)" text-anchor="end" textLength="65.05" lengthAdjust="spacingAndGlyphs">215.2</text>
<text transform="translate(3488.5 1746.82) rotate(0.3)" textLength="178" lengthAdjust="spacingAndGlyphs">AX-111848968</text>
<text transform="translate(3354 1779.64) rotate(0.3)" text-anchor="end" textLength="65.05" lengthAdjust="spacingAndGlyphs">217.9</text>
<text transform="translate(3488.5 1779.64) rotate(0.3)" textLength="178" lengthAdjust="spacingAndGlyphs">AX-949667509</text>
<text transform="translate(3354 1812.46) rotate(0.3)" text-anchor="end" textLength="65.05" lengthAdjust="spacingAndGlyphs">222.4</text>
<text transform="translate(3488.5 1812.46) rotate(0.3)" textLength="178" lengthAdjust="spacingAndGlyphs">AX-944570183</text>
<text transform="translate(3354 1845.28) rotate(0.3)" text-anchor="end" textLength="65.05" lengthAdjust="spacingAndGlyphs">225.9</text>
<text transform="translate(3488.5 1845.28) rotate(0.3)" textLength="178" lengthAdjust="spacingAndGlyphs">AX-109658689</text>
<text transform="translate(3354 1878.1) rotate(0.3)" text-anchor="end" textLength="65.05" lengthAdjust="spacingAndGlyphs">228.0</text>
<text transform="translate(3488.5 1878.1) rotate(0.3)" textLength="178" lengthAdjust="spacingAndGlyphs">AX-110367679</text>
<text transform="translate(3354 1910.92) rotate(0.3)" text-anchor="end" textLength="65.05" lengthAdjust="spacingAndGlyphs">230.4</text>
<text transform="translate(3488.5 1910.92) rotate(0.3)" textLength="178" lengthAdjust="spacingAndGlyphs">AX-949581255</text>
<text transform="translate(3354 1943.74) rotate(0.3)" text-anchor="end" textLength="65.05" lengthAdjust="spacingAndGlyphs">233.3</text>
<text transform="translate(3488.5 1943.74) rotate(0.3)" textLength="178" lengthAdjust="spacingAndGlyphs">AX-111148214</text>
<text transform="translate(3354 1976.56) rotate(0.3)" text-anchor="end" textLength="65.05" lengthAdjust="spacingAndGlyphs">238.0</text>
<text transform="translate(3488.5 1976.56) rotate(0.3)" textLength="178" lengthAdjust="spacingAndGlyphs">AX-944586284</text>
<text transform="translate(3354 2009.38) rotate(0.3)" text-anchor="end" textLength="65.05" lengthAdjust="spacingAndGlyphs">244.4</text>
<text transform="translate(3488.5 2009.38) rotate(0.3)" textLength="178" lengthAdjust="spacingAndGlyphs">AX-949383620</text>
<text transform="translate(3354 2042.2) rotate(0.3)" text-anchor="end" textLength="65.05" lengthAdjust="spacingAndGlyphs">253.9</text>
<text transform="translate(3488.5 2042.2) rotate(0.3)" textLength="178" lengthAdjust="spacingAndGlyphs">AX-944991590</text>
<text transform="translate(3354 2075.02) rotate(0.3)" text-anchor="end" textLength="65.05" lengthAdjust="spacingAndGlyphs">256.0</text>
<text transform="translate(3488.5 2075.02) rotate(0.3)" textLength="178" lengthAdjust="spacingAndGlyphs">AX-944600480</text>
<text transform="translate(3354 2107.84) rotate(0.3)" text-anchor="end" textLength="65.05" lengthAdjust="spacingAndGlyphs">258.2</text>
<text transform="translate(3488.5 2107.84) rotate(0.3)" textLength="178" lengthAdjust="spacingAndGlyphs">AX-111619003</text>
<text transform="translate(3354 2140.66) rotate(0.3)" text-anchor="end" textLength="65.05" lengthAdjust="spacingAndGlyphs">270.3</text>
<text transform="translate(3488.5 2140.66) rotate(0.3)" textLength="178" lengthAdjust="spacingAndGlyphs">AX-110789488</text>
<text transform="translate(3354 2173.48) rotate(0.3)" text-anchor="end" textLength="65.05" lengthAdjust="spacingAndGlyphs">276.0</text>
<text transform="translate(3488.5 2173.48) rotate(0.3)" textLength="178" lengthAdjust="spacingAndGlyphs">AX-110936912</text>
<text transform="translate(3354 2206.3) rotate(0.3)" text-anchor="end" textLength="65.05" lengthAdjust="spacingAndGlyphs">278.7</text>
<text transform="translate(3488.5 2206.3) rotate(0.3)" textLength="178" lengthAdjust="spacingAndGlyphs">AX-110881011</text>
<text transform="translate(3354 2239.12) rotate(0.3)" text-anchor="end" textLength="65.05" lengthAdjust="spacingAndGlyphs">281.3</text>
<text transform="translate(3488.5 2239.12) rotate(0.3)" textLength="178" lengthAdjust="spacingAndGlyphs">AX-110877960</text>
<text transform="translate(3354 2271.94) rotate(0.3)" text-anchor="end" textLength="65.05" lengthAdjust="spacingAndGlyphs">289.0</text>
<text transform="translate(3488.5 2271.94) rotate(0.3)" textLength="178" lengthAdjust="spacingAndGlyphs">AX-944095235</text>
<text transform="translate(3354 2304.76) rotate(0.3)" text-anchor="end" textLength="65.05" lengthAdjust="spacingAndGlyphs">293.7</text>
<text transform="translate(3488.5 2304.76) rotate(0.3)" textLength="178" lengthAdjust="spacingAndGlyphs">AX-111204191</text>
<text transform="translate(3354 2337.58) rotate(0.3)" text-anchor="end" textLength="65.05" lengthAdjust="spacingAndGlyphs">297.7</text>
<text transform="translate(3488.5 2337.58) rotate(0.3)" textLength="178" lengthAdjust="spacingAndGlyphs">AX-111379600</text>
<text transform="translate(3354 2370.4) rotate(0.3)" text-anchor="end" textLength="65.05" lengthAdjust="spacingAndGlyphs">311.4</text>
<text transform="translate(3488.5 2370.4) rotate(0.3)" textLength="178" lengthAdjust="spacingAndGlyphs">AX-110690709</text>
<text transform="translate(3354 2403.22) rotate(0.3)" text-anchor="end" textLength="65.05" lengthAdjust="spacingAndGlyphs">313.3</text>
<text transform="translate(3488.5 2403.22) rotate(0.3)" textLength="178" lengthAdjust="spacingAndGlyphs">AX-110330292</text>
<text transform="translate(3354 2436.04) rotate(0.3)" text-anchor="end" textLength="65.05" lengthAdjust="spacingAndGlyphs">320.5</text>
<text transform="translate(3488.5 2436.04) rotate(0.3)" textLength="178" lengthAdjust="spacingAndGlyphs">AX-111074694</text>
<text transform="translate(3354 2468.86) rotate(0.3)" text-anchor="end" textLength="65.05" lengthAdjust="spacingAndGlyphs">328.7</text>
<text transform="translate(3488.5 2468.86) rotate(0.3)" textLength="178" lengthAdjust="spacingAndGlyphs">AX-108136936</text>
<text transform="translate(3354 2501.68) rotate(0.3)" text-anchor="end" textLength="65.05" lengthAdjust="spacingAndGlyphs">335.3</text>
<text transform="translate(3488.5 2501.68) rotate(0.3)" textLength="178" lengthAdjust="spacingAndGlyphs">AX-111670312</text>
<text transform="translate(3354 2534.5) rotate(0.3)" text-anchor="end" textLength="65.05" lengthAdjust="spacingAndGlyphs">341.9</text>
<text transform="translate(3488.5 2534.5) rotate(0.3)" textLength="178" lengthAdjust="spacingAndGlyphs">AX-110562046</text>
<text transform="translate(3354 2567.32) rotate(0.3)" text-anchor="end" textLength="65.05" lengthAdjust="spacingAndGlyphs">343.9</text>
<text transform="translate(3488.5 2567.32) rotate(0.3)" textLength="372" lengthAdjust="spacingAndGlyphs">AX-949515865 AX-108116583</text>
<text transform="translate(3354 2600.14) rotate(0.3)" text-anchor="end" textLength="65.05" lengthAdjust="spacingAndGlyphs">358.1</text>
<text transform="translate(3488.5 2600.14) rotate(0.3)" textLength="178" lengthAdjust="spacingAndGlyphs">AX-108374536</text>
<text transform="translate(3354 2632.96) rotate(0.3)" text-anchor="end" textLength="65.05" lengthAdjust="spacingAndGlyphs">360.1</text>
<text transform="translate(3488.5 2632.96) rotate(0.3)" textLength="178" lengthAdjust="spacingAndGlyphs">AX-109405232</text>
<text transform="translate(3354 2665.78) rotate(0.3)" text-anchor="end" textLength="65.05" lengthAdjust="spacingAndGlyphs">363.7</text>
<text transform="translate(3488.5 2665.78) rotate(0.3)" textLength="178" lengthAdjust="spacingAndGlyphs">AX-109348287</text>
<text transform="translate(3354 2698.6) rotate(0.3)" text-anchor="end" textLength="65.05" lengthAdjust="spacingAndGlyphs">367.8</text>
<text transform="translate(3488.5 2698.6) rotate(0.3)" textLength="178" lengthAdjust="spacingAndGlyphs">AX-108325536</text>
<text transform="translate(3354 2731.42) rotate(0.3)" text-anchor="end" textLength="65.05" lengthAdjust="spacingAndGlyphs">378.8</text>
<text transform="translate(3488.5 2731.42) rotate(0.3)" textLength="178" lengthAdjust="spacingAndGlyphs">AX-108934783</text>
<text transform="translate(3354 2764.24) rotate(0.3)" text-anchor="end" textLength="65.05" lengthAdjust="spacingAndGlyphs">387.4</text>
<text transform="translate(3488.5 2764.24) rotate(0.3)" textLength="178" lengthAdjust="spacingAndGlyphs">AX-110724979</text>
<text transform="translate(3354 2797.06) rotate(0.3)" text-anchor="end" textLength="65.05" lengthAdjust="spacingAndGlyphs">398.6</text>
<text transform="translate(3488.5 2797.06) rotate(0.3)" textLength="178" lengthAdjust="spacingAndGlyphs">AX-111836983</text>
<text transform="translate(3354 2829.88) rotate(0.3)" text-anchor="end" textLength="65.05" lengthAdjust="spacingAndGlyphs">404.7</text>
<text transform="translate(3488.5 2829.88) rotate(0.3)" textLength="178" lengthAdjust="spacingAndGlyphs">AX-110181846</text>
<text transform="translate(3354 2862.7) rotate(0.3)" text-anchor="end" textLength="65.05" lengthAdjust="spacingAndGlyphs">419.3</text>
<text transform="translate(3488.5 2862.7) rotate(0.3)" textLength="178" lengthAdjust="spacingAndGlyphs">AX-109924061</text>
<text transform="translate(3354 2895.52) rotate(0.3)" text-anchor="end" textLength="65.05" lengthAdjust="spacingAndGlyphs">422.5</text>
<text transform="translate(3488.5 2895.52) rotate(0.3)" textLength="178" lengthAdjust="spacingAndGlyphs">AX-944235311</text>
<text transform="translate(3354 2928.34) rotate(0.3)" text-anchor="end" textLength="65.05" lengthAdjust="spacingAndGlyphs">426.6</text>
<text transform="translate(3488.5 2928.34) rotate(0.3)" textLength="178" lengthAdjust="spacingAndGlyphs">AX-949584314</text>
<text transform="translate(3354 2961.16) rotate(0.3)" text-anchor="end" textLength="65.05" lengthAdjust="spacingAndGlyphs">432.6</text>
<text transform="translate(3488.5 2961.16) rotate(0.3)" textLength="178" lengthAdjust="spacingAndGlyphs">AX-109342645</text>
<text transform="translate(3354 2993.98) rotate(0.3)" text-anchor="end" textLength="65.05" lengthAdjust="spacingAndGlyphs">435.9</text>
<text transform="translate(3488.5 2993.98) rotate(0.3)" textLength="372" lengthAdjust="spacingAndGlyphs">AX-108724205 AX-944560736</text>
<text transform="translate(3354 3026.8) rotate(0.3)" text-anchor="end" textLength="65.05" lengthAdjust="spacingAndGlyphs">438.2</text>
<text transform="translate(3488.5 3026.8) rotate(0.3)" textLength="178" lengthAdjust="spacingAndGlyphs">AX-111124149</text>
<text transform="translate(3354 3059.62) rotate(0.3)" text-anchor="end" textLength="65.05" lengthAdjust="spacingAndGlyphs">446.1</text>
<text transform="translate(3488.5 3059.62) rotate(0.3)" textLength="372" lengthAdjust="spacingAndGlyphs">AX-944306092 AX-108342608</text>
<text transform="translate(3354 3092.44) rotate(0.3)" text-anchor="end" textLength="65.05" lengthAdjust="spacingAndGlyphs">449.7</text>
<text transform="translate(3488.5 3092.44) rotate(0.3)" textLength="178" lengthAdjust="spacingAndGlyphs">AX-111293978</text>
<text transform="translate(3354 3125.26) rotate(0.3)" text-anchor="end" textLength="65.05" lengthAdjust="spacingAndGlyphs">461.5</text>
<text transform="translate(3488.5 3125.26) rotate(0.3)" textLength="178" lengthAdjust="spacingAndGlyphs">AX-111695014</text>
<text transform="translate(3354 3158.08) rotate(0.3)" text-anchor="end" textLength="65.05" lengthAdjust="spacingAndGlyphs">469.1</text>
<text transform="translate(3488.5 3158.08) rotate(0.3)" textLength="178" lengthAdjust="spacingAndGlyphs">AX-109990310</text>
<text transform="translate(3354 3190.9) rotate(0.3)" text-anchor="end" textLength="65.05" lengthAdjust="spacingAndGlyphs">471.1</text>
<text transform="translate(3488.5 3190.9) rotate(0.3)" textLength="178" lengthAdjust="spacingAndGlyphs">AX-111351669</text>
<text transform="translate(3354 3223.72) rotate(0.3)" text-anchor="end" textLength="65.05" lengthAdjust="spacingAndGlyphs">473.2</text>
<text transform="translate(3488.5 3223.72) rotate(0.3)" textLength="178" lengthAdjust="spacingAndGlyphs">AX-110481567</text>
<text transform="translate(3354 3256.54) rotate(0.3)" text-anchor="end" textLength="65.05" lengthAdjust="spacingAndGlyphs">475.6</text>
<text transform="translate(3488.5 3256.54) rotate(0.3)" textLength="178" lengthAdjust="spacingAndGlyphs">AX-111878036</text>
<text transform="translate(3354 3289.36) rotate(0.3)" text-anchor="end" textLength="65.05" lengthAdjust="spacingAndGlyphs">478.9</text>
<text transform="translate(3488.5 3289.36) rotate(0.3)" textLength="178" lengthAdjust="spacingAndGlyphs">AX-944827308</text>
</g>
</g>
<g>
<text x="474.6" y="9.8" font-family="'Liberation Serif',serif" font-weight="bold" font-size="8.2" text-anchor="middle">3B</text>
<path d="M471.6 161.65 A2.95 2.95 0 0 1 477.5 161.65 L477.5 192.7 L477.5 194.9 L477.5 197.1 L477.5 234.85 A2.95 2.95 0 0 1 471.6 234.85 L471.6 197.1 L471.6 194.9 L471.6 192.7 Z" fill="#fff" stroke="#000" stroke-width="0.2"/>
<path d="M471.6 160.66L477.5 160.66L477.5 160.94L471.6 160.94ZM471.6 161.41L477.5 161.41L477.5 161.69L471.6 161.69ZM471.6 162.16L477.5 162.16L477.5 162.44L471.6 162.44ZM471.6 163.66L477.5 163.66L477.5 163.94L471.6 163.94ZM471.6 164.127L477.5 164.127L477.5 164.407L471.6 164.407ZM471.6 164.593L477.5 164.593L477.5 164.873L471.6 164.873ZM471.6 165.06L477.5 165.06L477.5 165.34L471.6 165.34ZM471.6 167.06L477.5 167.06L477.5 167.34L471.6 167.34ZM471.6 172.96L477.5 172.96L477.5 173.24L471.6 173.24ZM471.6 173.86L477.5 173.86L477.5 174.14L471.6 174.14ZM471.6 175.86L477.5 175.86L477.5 176.14L471.6 176.14ZM471.6 176.86L477.5 176.86L477.5 177.14L471.6 177.14ZM471.6 177.36L477.5 177.36L477.5 177.64L471.6 177.64ZM471.6 177.86L477.5 177.86L477.5 178.14L471.6 178.14ZM471.6 178.36L477.5 178.36L477.5 178.64L471.6 178.64ZM471.6 180.86L477.5 180.86L477.5 181.14L471.6 181.14ZM471.6 185.76L477.5 185.76L477.5 186.04L471.6 186.04ZM471.6 186.06L477.5 186.06L477.5 186.34L471.6 186.34ZM471.6 186.36L477.5 186.36L477.5 186.64L471.6 186.64ZM471.6 186.66L477.5 186.66L477.5 186.94L471.6 186.94ZM471.6 189.16L477.5 189.16L477.5 189.44L471.6 189.44ZM471.6 189.523L477.5 189.523L477.5 189.803L471.6 189.803ZM471.6 189.885L477.5 189.885L477.5 190.165L471.6 190.165ZM471.6 190.248L477.5 190.248L477.5 190.527L471.6 190.527ZM471.6 190.61L477.5 190.61L477.5 190.89L471.6 190.89ZM471.6 190.973L477.5 190.973L477.5 191.252L471.6 191.252ZM471.6 191.335L477.5 191.335L477.5 191.615L471.6 191.615ZM471.6 191.697L477.5 191.697L477.5 191.977L471.6 191.977ZM471.6 192.06L477.5 192.06L477.5 192.34L471.6 192.34ZM471.6 192.56L477.5 192.56L477.5 192.84L471.6 192.84ZM471.6 192.731L477.5 192.731L477.5 193.011L471.6 193.011ZM471.6 192.903L477.5 192.903L477.5 193.183L471.6 193.183ZM471.6 193.074L477.5 193.074L477.5 193.354L471.6 193.354ZM471.6 193.246L477.5 193.246L477.5 193.526L471.6 193.526ZM471.6 193.417L477.5 193.417L477.5 193.697L471.6 193.697ZM471.6 193.589L477.5 193.589L477.5 193.869L471.6 193.869ZM471.6 193.76L477.5 193.76L477.5 194.04L471.6 194.04ZM471.6 195.66L477.5 195.66L477.5 195.94L471.6 195.94ZM471.6 196.66L477.5 196.66L477.5 196.94L471.6 196.94ZM471.6 199.26L477.5 199.26L477.5 199.54L471.6 199.54ZM471.6 199.393L477.5 199.393L477.5 199.673L471.6 199.673ZM471.6 199.527L477.5 199.527L477.5 199.807L471.6 199.807ZM471.6 199.66L477.5 199.66L477.5 199.94L471.6 199.94ZM471.6 199.793L477.5 199.793L477.5 200.073L471.6 200.073ZM471.6 199.927L477.5 199.927L477.5 200.207L471.6 200.207ZM471.6 200.06L477.5 200.06L477.5 200.34L471.6 200.34ZM471.6 200.193L477.5 200.193L477.5 200.473L471.6 200.473ZM471.6 200.327L477.5 200.327L477.5 200.607L471.6 200.607ZM471.6 200.46L477.5 200.46L477.5 200.74L471.6 200.74ZM471.6 202.36L477.5 202.36L477.5 202.64L471.6 202.64ZM471.6 202.677L477.5 202.677L477.5 202.957L471.6 202.957ZM471.6 202.993L477.5 202.993L477.5 203.273L471.6 203.273ZM471.6 203.31L477.5 203.31L477.5 203.59L471.6 203.59ZM471.6 203.627L477.5 203.627L477.5 203.907L471.6 203.907ZM471.6 203.943L477.5 203.943L477.5 204.223L471.6 204.223ZM471.6 204.26L477.5 204.26L477.5 204.54L471.6 204.54ZM471.6 204.577L477.5 204.577L477.5 204.857L471.6 204.857ZM471.6 204.893L477.5 204.893L477.5 205.173L471.6 205.173ZM471.6 205.21L477.5 205.21L477.5 205.49L471.6 205.49ZM471.6 205.527L477.5 205.527L477.5 205.807L471.6 205.807ZM471.6 205.843L477.5 205.843L477.5 206.123L471.6 206.123ZM471.6 206.16L477.5 206.16L477.5 206.44L471.6 206.44ZM471.6 210.56L477.5 210.56L477.5 210.84L471.6 210.84ZM471.6 213.06L477.5 213.06L477.5 213.34L471.6 213.34ZM471.6 213.693L477.5 213.693L477.5 213.973L471.6 213.973ZM471.6 214.327L477.5 214.327L477.5 214.607L471.6 214.607ZM471.6 214.96L477.5 214.96L477.5 215.24L471.6 215.24ZM471.6 215.66L477.5 215.66L477.5 215.94L471.6 215.94ZM471.6 216.048L477.5 216.048L477.5 216.327L471.6 216.327ZM471.6 216.435L477.5 216.435L477.5 216.715L471.6 216.715ZM471.6 216.823L477.5 216.823L477.5 217.102L471.6 217.102ZM471.6 217.21L477.5 217.21L477.5 217.49L471.6 217.49ZM471.6 217.598L477.5 217.598L477.5 217.877L471.6 217.877ZM471.6 217.985L477.5 217.985L477.5 218.265L471.6 218.265ZM471.6 218.373L477.5 218.373L477.5 218.653L471.6 218.653ZM471.6 218.76L477.5 218.76L477.5 219.04L471.6 219.04ZM471.6 225.06L477.5 225.06L477.5 225.34L471.6 225.34ZM471.6 237.16L477.5 237.16L477.5 237.44L471.6 237.44Z" fill="#000" stroke="none"/>
<path d="M468.4 72.14L469.53 72.14L469.53 72.26L468.4 72.26ZM479.52 72.14L480.25 72.14L480.25 72.26L479.52 72.26ZM469.27 72.2L469.53 72.2L471.68 160.8L471.42 160.8ZM479.52 72.2L479.78 72.2L477.68 160.8L477.42 160.8ZM468.4 75.431L469.53 75.431L469.53 75.551L468.4 75.551ZM479.52 75.431L480.25 75.431L480.25 75.551L479.52 75.551ZM469.27 75.491L469.53 75.491L471.68 161.55L471.42 161.55ZM479.52 75.491L479.78 75.491L477.68 161.55L477.42 161.55ZM468.4 78.722L469.53 78.722L469.53 78.842L468.4 78.842ZM479.52 78.722L480.25 78.722L480.25 78.842L479.52 78.842ZM469.27 78.782L469.53 78.782L471.68 162.3L471.42 162.3ZM479.52 78.782L479.78 78.782L477.68 162.3L477.42 162.3ZM468.4 82.013L469.53 82.013L469.53 82.133L468.4 82.133ZM479.52 82.013L480.25 82.013L480.25 82.133L479.52 82.133ZM469.27 82.073L469.53 82.073L471.68 163.8L471.42 163.8ZM479.52 82.073L479.78 82.073L477.68 163.8L477.42 163.8ZM468.4 85.304L469.53 85.304L469.53 85.424L468.4 85.424ZM479.52 85.304L480.25 85.304L480.25 85.424L479.52 85.424ZM469.27 85.364L469.53 85.364L471.68 164.267L471.42 164.267ZM479.52 85.364L479.78 85.364L477.68 164.267L477.42 164.267ZM468.4 88.595L469.53 88.595L469.53 88.715L468.4 88.715ZM479.52 88.595L480.25 88.595L480.25 88.715L479.52 88.715ZM469.27 88.655L469.53 88.655L471.68 164.733L471.42 164.733ZM479.52 88.655L479.78 88.655L477.68 164.733L477.42 164.733ZM468.4 91.886L469.53 91.886L469.53 92.006L468.4 92.006ZM479.52 91.886L480.25 91.886L480.25 92.006L479.52 92.006ZM469.27 91.946L469.53 91.946L471.68 165.2L471.42 165.2ZM479.52 91.946L479.78 91.946L477.68 165.2L477.42 165.2ZM468.4 95.177L469.53 95.177L469.53 95.297L468.4 95.297ZM479.52 95.177L480.25 95.177L480.25 95.297L479.52 95.297ZM469.27 95.237L469.53 95.237L471.68 167.2L471.42 167.2ZM479.52 95.237L479.78 95.237L477.68 167.2L477.42 167.2ZM468.4 98.468L469.53 98.468L469.53 98.588L468.4 98.588ZM479.52 98.468L480.25 98.468L480.25 98.588L479.52 98.588ZM469.27 98.528L469.53 98.528L471.68 173.1L471.42 173.1ZM479.52 98.528L479.78 98.528L477.68 173.1L477.42 173.1ZM468.4 101.759L469.53 101.759L469.53 101.879L468.4 101.879ZM479.52 101.759L480.25 101.759L480.25 101.879L479.52 101.879ZM469.27 101.819L469.53 101.819L471.68 174L471.42 174ZM479.52 101.819L479.78 101.819L477.68 174L477.42 174ZM468.4 105.05L469.53 105.05L469.53 105.17L468.4 105.17ZM479.52 105.05L480.25 105.05L480.25 105.17L479.52 105.17ZM469.27 105.11L469.53 105.11L471.68 176L471.42 176ZM479.52 105.11L479.78 105.11L477.68 176L477.42 176ZM468.4 108.341L469.53 108.341L469.53 108.461L468.4 108.461ZM479.52 108.341L480.25 108.341L480.25 108.461L479.52 108.461ZM469.27 108.401L469.53 108.401L471.68 177L471.42 177ZM479.52 108.401L479.78 108.401L477.68 177L477.42 177ZM468.4 111.632L469.53 111.632L469.53 111.752L468.4 111.752ZM479.52 111.632L480.25 111.632L480.25 111.752L479.52 111.752ZM469.27 111.692L469.53 111.692L471.68 177.5L471.42 177.5ZM479.52 111.692L479.78 111.692L477.68 177.5L477.42 177.5ZM468.4 114.923L469.53 114.923L469.53 115.043L468.4 115.043ZM479.52 114.923L480.25 114.923L480.25 115.043L479.52 115.043ZM469.27 114.983L469.53 114.983L471.68 178L471.42 178ZM479.52 114.983L479.78 114.983L477.68 178L477.42 178ZM468.4 118.214L469.53 118.214L469.53 118.334L468.4 118.334ZM479.52 118.214L480.25 118.214L480.25 118.334L479.52 118.334ZM469.27 118.274L469.53 118.274L471.68 178.5L471.42 178.5ZM479.52 118.274L479.78 118.274L477.68 178.5L477.42 178.5ZM468.4 121.505L469.53 121.505L469.53 121.625L468.4 121.625ZM479.52 121.505L480.25 121.505L480.25 121.625L479.52 121.625ZM469.27 121.565L469.53 121.565L471.68 181L471.42 181ZM479.52 121.565L479.78 121.565L477.68 181L477.42 181ZM468.4 124.796L469.53 124.796L469.53 124.916L468.4 124.916ZM479.52 124.796L480.25 124.796L480.25 124.916L479.52 124.916ZM469.27 124.856L469.53 124.856L471.68 185.9L471.42 185.9ZM479.52 124.856L479.78 124.856L477.68 185.9L477.42 185.9ZM468.4 128.087L469.53 128.087L469.53 128.207L468.4 128.207ZM479.52 128.087L480.25 128.087L480.25 128.207L479.52 128.207ZM469.27 128.147L469.53 128.147L471.68 186.2L471.42 186.2ZM479.52 128.147L479.78 128.147L477.68 186.2L477.42 186.2ZM468.4 131.378L469.53 131.378L469.53 131.498L468.4 131.498ZM479.52 131.378L480.25 131.378L480.25 131.498L479.52 131.498ZM469.27 131.438L469.53 131.438L471.68 186.5L471.42 186.5ZM479.52 131.438L479.78 131.438L477.68 186.5L477.42 186.5ZM468.4 134.669L469.53 134.669L469.53 134.789L468.4 134.789ZM479.52 134.669L480.25 134.669L480.25 134.789L479.52 134.789ZM469.27 134.729L469.53 134.729L471.68 186.8L471.42 186.8ZM479.52 134.729L479.78 134.729L477.68 186.8L477.42 186.8ZM468.4 137.96L469.53 137.96L469.53 138.08L468.4 138.08ZM479.52 137.96L480.25 137.96L480.25 138.08L479.52 138.08ZM469.27 138.02L469.53 138.02L471.68 189.3L471.42 189.3ZM479.52 138.02L479.78 138.02L477.68 189.3L477.42 189.3ZM468.4 141.251L469.53 141.251L469.53 141.371L468.4 141.371ZM479.52 141.251L480.25 141.251L480.25 141.371L479.52 141.371ZM469.27 141.311L469.53 141.311L471.68 189.663L471.42 189.663ZM479.52 141.311L479.78 141.311L477.68 189.663L477.42 189.663ZM468.4 144.542L469.53 144.542L469.53 144.662L468.4 144.662ZM479.52 144.542L480.25 144.542L480.25 144.662L479.52 144.662ZM469.27 144.602L469.53 144.602L471.68 190.025L471.42 190.025ZM479.52 144.602L479.78 144.602L477.68 190.025L477.42 190.025ZM468.4 147.833L469.53 147.833L469.53 147.953L468.4 147.953ZM479.52 147.833L480.25 147.833L480.25 147.953L479.52 147.953ZM469.27 147.893L469.53 147.893L471.68 190.387L471.42 190.387ZM479.52 147.893L479.78 147.893L477.68 190.387L477.42 190.387ZM468.4 151.124L469.53 151.124L469.53 151.244L468.4 151.244ZM479.52 151.124L480.25 151.124L480.25 151.244L479.52 151.244ZM469.27 151.184L469.53 151.184L471.68 190.75L471.42 190.75ZM479.52 151.184L479.78 151.184L477.68 190.75L477.42 190.75ZM468.4 154.415L469.53 154.415L469.53 154.535L468.4 154.535ZM479.52 154.415L480.25 154.415L480.25 154.535L479.52 154.535ZM469.27 154.475L469.53 154.475L471.68 191.113L471.42 191.113ZM479.52 154.475L479.78 154.475L477.68 191.113L477.42 191.113ZM468.4 157.706L469.53 157.706L469.53 157.826L468.4 157.826ZM479.52 157.706L480.25 157.706L480.25 157.826L479.52 157.826ZM469.27 157.766L469.53 157.766L471.68 191.475L471.42 191.475ZM479.52 157.766L479.78 157.766L477.68 191.475L477.42 191.475ZM468.4 160.997L469.53 160.997L469.53 161.117L468.4 161.117ZM479.52 160.997L480.25 160.997L480.25 161.117L479.52 161.117ZM469.27 161.057L469.53 161.057L471.68 191.837L471.42 191.837ZM479.52 161.057L479.78 161.057L477.68 191.837L477.42 191.837ZM468.4 164.288L469.53 164.288L469.53 164.408L468.4 164.408ZM479.52 164.288L480.25 164.288L480.25 164.408L479.52 164.408ZM469.27 164.348L469.53 164.348L471.68 192.2L471.42 192.2ZM479.52 164.348L479.78 164.348L477.68 192.2L477.42 192.2ZM468.4 167.579L469.53 167.579L469.53 167.699L468.4 167.699ZM479.52 167.579L480.25 167.579L480.25 167.699L479.52 167.699ZM469.27 167.639L469.53 167.639L471.68 192.7L471.42 192.7ZM479.52 167.639L479.78 167.639L477.68 192.7L477.42 192.7ZM468.4 170.87L469.53 170.87L469.53 170.99L468.4 170.99ZM479.52 170.87L480.25 170.87L480.25 170.99L479.52 170.99ZM469.269 170.93L469.531 170.93L471.681 192.871L471.419 192.871ZM479.519 170.93L479.781 170.93L477.681 192.871L477.419 192.871ZM468.4 174.161L469.53 174.161L469.53 174.281L468.4 174.281ZM479.52 174.161L480.25 174.161L480.25 174.281L479.52 174.281ZM469.269 174.221L469.531 174.221L471.681 193.043L471.419 193.043ZM479.519 174.221L479.781 174.221L477.681 193.043L477.419 193.043ZM468.4 177.452L469.53 177.452L469.53 177.572L468.4 177.572ZM479.52 177.452L480.25 177.452L480.25 177.572L479.52 177.572ZM469.269 177.512L469.531 177.512L471.681 193.214L471.419 193.214ZM479.519 177.512L479.781 177.512L477.681 193.214L477.419 193.214ZM468.4 180.743L469.53 180.743L469.53 180.863L468.4 180.863ZM479.52 180.743L480.25 180.743L480.25 180.863L479.52 180.863ZM469.268 180.803L469.532 180.803L471.682 193.386L471.418 193.386ZM479.518 180.803L479.782 180.803L477.682 193.386L477.418 193.386ZM468.4 184.034L469.53 184.034L469.53 184.154L468.4 184.154ZM479.52 184.034L480.25 184.034L480.25 184.154L479.52 184.154ZM469.267 184.094L469.533 184.094L471.683 193.557L471.417 193.557ZM479.517 184.094L479.783 184.094L477.683 193.557L477.417 193.557ZM468.4 187.325L469.53 187.325L469.53 187.445L468.4 187.445ZM479.52 187.325L480.25 187.325L480.25 187.445L479.52 187.445ZM469.263 187.385L469.537 187.385L471.687 193.729L471.413 193.729ZM479.513 187.385L479.787 187.385L477.687 193.729L477.413 193.729ZM468.4 190.616L469.53 190.616L469.53 190.736L468.4 190.736ZM479.52 190.616L480.25 190.616L480.25 190.736L479.52 190.736ZM469.244 190.676L469.556 190.676L471.706 193.9L471.394 193.9ZM479.495 190.676L479.805 190.676L477.705 193.9L477.395 193.9ZM468.4 193.907L469.53 193.907L469.53 194.027L468.4 194.027ZM479.52 193.907L480.25 193.907L480.25 194.027L479.52 194.027ZM469.4 193.796L471.55 195.629L471.55 195.971L469.4 194.138ZM479.65 194.14L477.55 195.973L477.55 195.627L479.65 193.794ZM468.4 197.198L469.53 197.198L469.53 197.318L468.4 197.318ZM479.52 197.198L480.25 197.198L480.25 197.318L479.52 197.318ZM469.4 197.125L471.55 196.667L471.55 196.933L469.4 197.391ZM479.65 197.391L477.55 196.933L477.55 196.667L479.65 197.125ZM468.4 200.489L469.53 200.489L469.53 200.609L468.4 200.609ZM479.52 200.489L480.25 200.489L480.25 200.609L479.52 200.609ZM469.4 200.402L471.55 199.253L471.55 199.547L469.4 200.696ZM479.65 200.697L477.55 199.548L477.55 199.252L479.65 200.401ZM468.4 203.78L469.53 203.78L469.53 203.9L468.4 203.9ZM479.52 203.78L480.25 203.78L480.25 203.9L479.52 203.9ZM471.405 199.533L471.695 199.533L469.545 203.84L469.255 203.84ZM477.405 199.533L477.695 199.533L479.795 203.84L479.505 203.84ZM468.4 207.071L469.53 207.071L469.53 207.191L468.4 207.191ZM479.52 207.071L480.25 207.071L480.25 207.191L479.52 207.191ZM471.415 199.667L471.685 199.667L469.535 207.131L469.265 207.131ZM477.415 199.667L477.685 199.667L479.785 207.131L479.515 207.131ZM468.4 210.362L469.53 210.362L469.53 210.482L468.4 210.482ZM479.52 210.362L480.25 210.362L480.25 210.482L479.52 210.482ZM471.417 199.8L471.683 199.8L469.533 210.422L469.267 210.422ZM477.417 199.8L477.683 199.8L479.783 210.422L479.517 210.422ZM468.4 213.653L469.53 213.653L469.53 213.773L468.4 213.773ZM479.52 213.653L480.25 213.653L480.25 213.773L479.52 213.773ZM471.418 199.933L471.682 199.933L469.532 213.713L469.268 213.713ZM477.418 199.933L477.682 199.933L479.782 213.713L479.518 213.713ZM468.4 216.944L469.53 216.944L469.53 217.064L468.4 217.064ZM479.52 216.944L480.25 216.944L480.25 217.064L479.52 217.064ZM471.419 200.067L471.681 200.067L469.531 217.004L469.269 217.004ZM477.419 200.067L477.681 200.067L479.781 217.004L479.519 217.004ZM468.4 220.235L469.53 220.235L469.53 220.355L468.4 220.355ZM479.52 220.235L480.25 220.235L480.25 220.355L479.52 220.355ZM471.419 200.2L471.681 200.2L469.531 220.295L469.269 220.295ZM477.419 200.2L477.681 200.2L479.781 220.295L479.519 220.295ZM468.4 223.526L469.53 223.526L469.53 223.646L468.4 223.646ZM479.52 223.526L480.25 223.526L480.25 223.646L479.52 223.646ZM471.419 200.333L471.681 200.333L469.531 223.586L469.269 223.586ZM477.419 200.333L477.681 200.333L479.781 223.586L479.519 223.586ZM468.4 226.817L469.53 226.817L469.53 226.937L468.4 226.937ZM479.52 226.817L480.25 226.817L480.25 226.937L479.52 226.937ZM471.42 200.467L471.68 200.467L469.53 226.877L469.27 226.877ZM477.42 200.467L477.68 200.467L479.78 226.877L479.52 226.877ZM468.4 230.108L469.53 230.108L469.53 230.228L468.4 230.228ZM479.52 230.108L480.25 230.108L480.25 230.228L479.52 230.228ZM471.42 200.6L471.68 200.6L469.53 230.168L469.27 230.168ZM477.42 200.6L477.68 200.6L479.78 230.168L479.52 230.168ZM468.4 233.399L469.53 233.399L469.53 233.519L468.4 233.519ZM479.52 233.399L480.25 233.399L480.25 233.519L479.52 233.519ZM471.42 202.5L471.68 202.5L469.53 233.459L469.27 233.459ZM477.42 202.5L477.68 202.5L479.78 233.459L479.52 233.459ZM468.4 236.69L469.53 236.69L469.53 236.81L468.4 236.81ZM479.52 236.69L480.25 236.69L480.25 236.81L479.52 236.81ZM471.42 202.817L471.68 202.817L469.53 236.75L469.27 236.75ZM477.42 202.817L477.68 202.817L479.78 236.75L479.52 236.75ZM468.4 239.981L469.53 239.981L469.53 240.101L468.4 240.101ZM479.52 239.981L480.25 239.981L480.25 240.101L479.52 240.101ZM471.42 203.133L471.68 203.133L469.53 240.041L469.27 240.041ZM477.42 203.133L477.68 203.133L479.78 240.041L479.52 240.041ZM468.4 243.272L469.53 243.272L469.53 243.392L468.4 243.392ZM479.52 243.272L480.25 243.272L480.25 243.392L479.52 243.392ZM471.42 203.45L471.68 203.45L469.53 243.332L469.27 243.332ZM477.42 203.45L477.68 203.45L479.78 243.332L479.52 243.332ZM468.4 246.563L469.53 246.563L469.53 246.683L468.4 246.683ZM479.52 246.563L480.25 246.563L480.25 246.683L479.52 246.683ZM471.42 203.767L471.68 203.767L469.53 246.623L469.27 246.623ZM477.42 203.767L477.68 203.767L479.78 246.623L479.52 246.623ZM468.4 249.854L469.53 249.854L469.53 249.974L468.4 249.974ZM479.52 249.854L480.25 249.854L480.25 249.974L479.52 249.974ZM471.42 204.083L471.68 204.083L469.53 249.914L469.27 249.914ZM477.42 204.083L477.68 204.083L479.78 249.914L479.52 249.914ZM468.4 253.145L469.53 253.145L469.53 253.265L468.4 253.265ZM479.52 253.145L480.25 253.145L480.25 253.265L479.52 253.265ZM471.42 204.4L471.68 204.4L469.53 253.205L469.27 253.205ZM477.42 204.4L477.68 204.4L479.78 253.205L479.52 253.205ZM468.4 256.436L469.53 256.436L469.53 256.556L468.4 256.556ZM479.52 256.436L480.25 256.436L480.25 256.556L479.52 256.556ZM471.42 204.717L471.68 204.717L469.53 256.496L469.27 256.496ZM477.42 204.717L477.68 204.717L479.78 256.496L479.52 256.496ZM468.4 259.727L469.53 259.727L469.53 259.847L468.4 259.847ZM479.52 259.727L480.25 259.727L480.25 259.847L479.52 259.847ZM471.42 205.033L471.68 205.033L469.53 259.787L469.27 259.787ZM477.42 205.033L477.68 205.033L479.78 259.787L479.52 259.787ZM468.4 263.018L469.53 263.018L469.53 263.138L468.4 263.138ZM479.52 263.018L480.25 263.018L480.25 263.138L479.52 263.138ZM471.42 205.35L471.68 205.35L469.53 263.078L469.27 263.078ZM477.42 205.35L477.68 205.35L479.78 263.078L479.52 263.078ZM468.4 266.309L469.53 266.309L469.53 266.429L468.4 266.429ZM479.52 266.309L480.25 266.309L480.25 266.429L479.52 266.429ZM471.42 205.667L471.68 205.667L469.53 266.369L469.27 266.369ZM477.42 205.667L477.68 205.667L479.78 266.369L479.52 266.369ZM468.4 269.6L469.53 269.6L469.53 269.72L468.4 269.72ZM479.52 269.6L480.25 269.6L480.25 269.72L479.52 269.72ZM471.42 205.983L471.68 205.983L469.53 269.66L469.27 269.66ZM477.42 205.983L477.68 205.983L479.78 269.66L479.52 269.66ZM468.4 272.891L469.53 272.891L469.53 273.011L468.4 273.011ZM479.52 272.891L480.25 272.891L480.25 273.011L479.52 273.011ZM471.42 206.3L471.68 206.3L469.53 272.951L469.27 272.951ZM477.42 206.3L477.68 206.3L479.78 272.951L479.52 272.951ZM468.4 276.182L469.53 276.182L469.53 276.302L468.4 276.302ZM479.52 276.182L480.25 276.182L480.25 276.302L479.52 276.302ZM471.42 210.7L471.68 210.7L469.53 276.242L469.27 276.242ZM477.42 210.7L477.68 210.7L479.78 276.242L479.52 276.242ZM468.4 279.473L469.53 279.473L469.53 279.593L468.4 279.593ZM479.52 279.473L480.25 279.473L480.25 279.593L479.52 279.593ZM471.42 213.2L471.68 213.2L469.53 279.533L469.27 279.533ZM477.42 213.2L477.68 213.2L479.78 279.533L479.52 279.533ZM468.4 282.764L469.53 282.764L469.53 282.884L468.4 282.884ZM479.52 282.764L480.25 282.764L480.25 282.884L479.52 282.884ZM471.42 213.833L471.68 213.833L469.53 282.824L469.27 282.824ZM477.42 213.833L477.68 213.833L479.78 282.824L479.52 282.824ZM468.4 286.055L469.53 286.055L469.53 286.175L468.4 286.175ZM479.52 286.055L480.25 286.055L480.25 286.175L479.52 286.175ZM471.42 214.467L471.68 214.467L469.53 286.115L469.27 286.115ZM477.42 214.467L477.68 214.467L479.78 286.115L479.52 286.115ZM468.4 289.346L469.53 289.346L469.53 289.466L468.4 289.466ZM479.52 289.346L480.25 289.346L480.25 289.466L479.52 289.466ZM471.42 215.1L471.68 215.1L469.53 289.406L469.27 289.406ZM477.42 215.1L477.68 215.1L479.78 289.406L479.52 289.406ZM468.4 292.637L469.53 292.637L469.53 292.757L468.4 292.757ZM479.52 292.637L480.25 292.637L480.25 292.757L479.52 292.757ZM471.42 215.8L471.68 215.8L469.53 292.697L469.27 292.697ZM477.42 215.8L477.68 215.8L479.78 292.697L479.52 292.697ZM468.4 295.928L469.53 295.928L469.53 296.048L468.4 296.048ZM479.52 295.928L480.25 295.928L480.25 296.048L479.52 296.048ZM471.42 216.188L471.68 216.188L469.53 295.988L469.27 295.988ZM477.42 216.188L477.68 216.188L479.78 295.988L479.52 295.988ZM468.4 299.219L469.53 299.219L469.53 299.339L468.4 299.339ZM479.52 299.219L480.25 299.219L480.25 299.339L479.52 299.339ZM471.42 216.575L471.68 216.575L469.53 299.279L469.27 299.279ZM477.42 216.575L477.68 216.575L479.78 299.279L479.52 299.279ZM468.4 302.51L469.53 302.51L469.53 302.63L468.4 302.63ZM479.52 302.51L480.25 302.51L480.25 302.63L479.52 302.63ZM471.42 216.963L471.68 216.963L469.53 302.57L469.27 302.57ZM477.42 216.963L477.68 216.963L479.78 302.57L479.52 302.57ZM468.4 305.801L469.53 305.801L469.53 305.921L468.4 305.921ZM479.52 305.801L480.25 305.801L480.25 305.921L479.52 305.921ZM471.42 217.35L471.68 217.35L469.53 305.861L469.27 305.861ZM477.42 217.35L477.68 217.35L479.78 305.861L479.52 305.861ZM468.4 309.092L469.53 309.092L469.53 309.212L468.4 309.212ZM479.52 309.092L480.25 309.092L480.25 309.212L479.52 309.212ZM471.42 217.738L471.68 217.738L469.53 309.152L469.27 309.152ZM477.42 217.738L477.68 217.738L479.78 309.152L479.52 309.152ZM468.4 312.383L469.53 312.383L469.53 312.503L468.4 312.503ZM479.52 312.383L480.25 312.383L480.25 312.503L479.52 312.503ZM471.42 218.125L471.68 218.125L469.53 312.443L469.27 312.443ZM477.42 218.125L477.68 218.125L479.78 312.443L479.52 312.443ZM468.4 315.674L469.53 315.674L469.53 315.794L468.4 315.794ZM479.52 315.674L480.25 315.674L480.25 315.794L479.52 315.794ZM471.42 218.513L471.68 218.513L469.53 315.734L469.27 315.734ZM477.42 218.513L477.68 218.513L479.78 315.734L479.52 315.734ZM468.4 318.965L469.53 318.965L469.53 319.085L468.4 319.085ZM479.52 318.965L480.25 318.965L480.25 319.085L479.52 319.085ZM471.42 218.9L471.68 218.9L469.53 319.025L469.27 319.025ZM477.42 218.9L477.68 218.9L479.78 319.025L479.52 319.025ZM468.4 322.256L469.53 322.256L469.53 322.376L468.4 322.376ZM479.52 322.256L480.25 322.256L480.25 322.376L479.52 322.376ZM471.42 225.2L471.68 225.2L469.53 322.316L469.27 322.316ZM477.42 225.2L477.68 225.2L479.78 322.316L479.52 322.316ZM468.4 325.547L469.53 325.547L469.53 325.667L468.4 325.667ZM479.52 325.547L480.25 325.547L480.25 325.667L479.52 325.667ZM471.42 237.3L471.68 237.3L469.53 325.607L469.27 325.607ZM477.42 237.3L477.68 237.3L479.78 325.607L479.52 325.607Z" fill="#000" stroke="none"/>
<g transform="scale(0.1)" text-rendering="geometricPrecision" font-family="'Liberation Sans',sans-serif" font-size="23" fill="#000" stroke="#000" stroke-width="0.4">
<text transform="translate(4682 730.5) rotate(0.3)" text-anchor="end" textLength="36.14" lengthAdjust="spacingAndGlyphs">0.0</text>
<text transform="translate(4813 730.5) rotate(0.3)" textLength="178" lengthAdjust="spacingAndGlyphs">AX-944214956</text>
<text transform="translate(4682 763.41) rotate(0.3)" text-anchor="end" textLength="50.6" lengthAdjust="spacingAndGlyphs">12.0</text>
<text transform="translate(4813 763.41) rotate(0.3)" textLength="178" lengthAdjust="spacingAndGlyphs">AX-110553528</text>
<text transform="translate(4682 796.32) rotate(0.3)" text-anchor="end" textLength="50.6" lengthAdjust="spacingAndGlyphs">14.1</text>
<text transform="translate(4813 796.32) rotate(0.3)" textLength="178" lengthAdjust="spacingAndGlyphs">AX-111430019</text>
<text transform="translate(4682 829.23) rotate(0.3)" text-anchor="end" textLength="50.6" lengthAdjust="spacingAndGlyphs">18.3</text>
<text transform="translate(4813 829.23) rotate(0.3)" textLength="178" lengthAdjust="spacingAndGlyphs">AX-944603767</text>
<text transform="translate(4682 862.14) rotate(0.3)" text-anchor="end" textLength="50.6" lengthAdjust="spacingAndGlyphs">28.5</text>
<text transform="translate(4813 862.14) rotate(0.3)" textLength="178" lengthAdjust="spacingAndGlyphs">AX-944249912</text>
<text transform="translate(4682 895.05) rotate(0.3)" text-anchor="end" textLength="50.6" lengthAdjust="spacingAndGlyphs">33.8</text>
<text transform="translate(4813 895.05) rotate(0.3)" textLength="178" lengthAdjust="spacingAndGlyphs">AX-944322761</text>
<text transform="translate(4682 927.96) rotate(0.3)" text-anchor="end" textLength="50.6" lengthAdjust="spacingAndGlyphs">38.0</text>
<text transform="translate(4813 927.96) rotate(0.3)" textLength="178" lengthAdjust="spacingAndGlyphs">AX-109773350</text>
<text transform="translate(4682 960.87) rotate(0.3)" text-anchor="end" textLength="50.6" lengthAdjust="spacingAndGlyphs">39.9</text>
<text transform="translate(4813 960.87) rotate(0.3)" textLength="178" lengthAdjust="spacingAndGlyphs">AX-109986241</text>
<text transform="translate(4682 993.78) rotate(0.3)" text-anchor="end" textLength="50.6" lengthAdjust="spacingAndGlyphs">41.4</text>
<text transform="translate(4813 993.78) rotate(0.3)" textLength="178" lengthAdjust="spacingAndGlyphs">AX-944086517</text>
<text transform="translate(4682 1026.69) rotate(0.3)" text-anchor="end" textLength="50.6" lengthAdjust="spacingAndGlyphs">44.0</text>
<text transform="translate(4813 1026.69) rotate(0.3)" textLength="178" lengthAdjust="spacingAndGlyphs">AX-109226407</text>
<text transform="translate(4682 1059.6) rotate(0.3)" text-anchor="end" textLength="50.6" lengthAdjust="spacingAndGlyphs">47.0</text>
<text transform="translate(4813 1059.6) rotate(0.3)" textLength="178" lengthAdjust="spacingAndGlyphs">AX-949593718</text>
<text transform="translate(4682 1092.51) rotate(0.3)" text-anchor="end" textLength="50.6" lengthAdjust="spacingAndGlyphs">48.8</text>
<text transform="translate(4813 1092.51) rotate(0.3)" textLength="178" lengthAdjust="spacingAndGlyphs">AX-111876826</text>
<text transform="translate(4682 1125.42) rotate(0.3)" text-anchor="end" textLength="50.6" lengthAdjust="spacingAndGlyphs">51.1</text>
<text transform="translate(4813 1125.42) rotate(0.3)" textLength="178" lengthAdjust="spacingAndGlyphs">AX-949910594</text>
<text transform="translate(4682 1158.33) rotate(0.3)" text-anchor="end" textLength="50.6" lengthAdjust="spacingAndGlyphs">52.7</text>
<text transform="translate(4813 1158.33) rotate(0.3)" textLength="178" lengthAdjust="spacingAndGlyphs">AX-949965724</text>
<text transform="translate(4682 1191.24) rotate(0.3)" text-anchor="end" textLength="50.6" lengthAdjust="spacingAndGlyphs">58.8</text>
<text transform="translate(4813 1191.24) rotate(0.3)" textLength="178" lengthAdjust="spacingAndGlyphs">AX-111803371</text>
<text transform="translate(4682 1224.15) rotate(0.3)" text-anchor="end" textLength="50.6" lengthAdjust="spacingAndGlyphs">64.5</text>
<text transform="translate(4813 1224.15) rotate(0.3)" textLength="178" lengthAdjust="spacingAndGlyphs">AX-110958965</text>
<text transform="translate(4682 1257.06) rotate(0.3)" text-anchor="end" textLength="50.6" lengthAdjust="spacingAndGlyphs">66.4</text>
<text transform="translate(4813 1257.06) rotate(0.3)" textLength="178" lengthAdjust="spacingAndGlyphs">AX-949397641</text>
<text transform="translate(4682 1289.97) rotate(0.3)" text-anchor="end" textLength="50.6" lengthAdjust="spacingAndGlyphs">68.4</text>
<text transform="translate(4813 1289.97) rotate(0.3)" textLength="178" lengthAdjust="spacingAndGlyphs">AX-110238134</text>
<text transform="translate(4682 1322.88) rotate(0.3)" text-anchor="end" textLength="50.6" lengthAdjust="spacingAndGlyphs">72.3</text>
<text transform="translate(4813 1322.88) rotate(0.3)" textLength="372" lengthAdjust="spacingAndGlyphs">AX-944138473 AX-949738918</text>
<text transform="translate(4682 1355.79) rotate(0.3)" text-anchor="end" textLength="50.6" lengthAdjust="spacingAndGlyphs">75.5</text>
<text transform="translate(4813 1355.79) rotate(0.3)" textLength="178" lengthAdjust="spacingAndGlyphs">AX-949916172</text>
<text transform="translate(4682 1388.7) rotate(0.3)" text-anchor="end" textLength="50.6" lengthAdjust="spacingAndGlyphs">85.2</text>
<text transform="translate(4813 1388.7) rotate(0.3)" textLength="178" lengthAdjust="spacingAndGlyphs">AX-949881817</text>
<text transform="translate(4682 1421.61) rotate(0.3)" text-anchor="end" textLength="50.6" lengthAdjust="spacingAndGlyphs">87.8</text>
<text transform="translate(4813 1421.61) rotate(0.3)" textLength="178" lengthAdjust="spacingAndGlyphs">AX-944682397</text>
<text transform="translate(4682 1454.52) rotate(0.3)" text-anchor="end" textLength="50.6" lengthAdjust="spacingAndGlyphs">90.0</text>
<text transform="translate(4813 1454.52) rotate(0.3)" textLength="178" lengthAdjust="spacingAndGlyphs">AX-109259063</text>
<text transform="translate(4682 1487.43) rotate(0.3)" text-anchor="end" textLength="50.6" lengthAdjust="spacingAndGlyphs">98.8</text>
<text transform="translate(4813 1487.43) rotate(0.3)" textLength="178" lengthAdjust="spacingAndGlyphs">AX-109500937</text>
<text transform="translate(4682 1520.34) rotate(0.3)" text-anchor="end" textLength="65.05" lengthAdjust="spacingAndGlyphs">100.4</text>
<text transform="translate(4813 1520.34) rotate(0.3)" textLength="372" lengthAdjust="spacingAndGlyphs">AX-111126193 AX-949152550</text>
<text transform="translate(4682 1553.25) rotate(0.3)" text-anchor="end" textLength="65.05" lengthAdjust="spacingAndGlyphs">105.6</text>
<text transform="translate(4813 1553.25) rotate(0.3)" textLength="178" lengthAdjust="spacingAndGlyphs">AX-111135885</text>
<text transform="translate(4682 1586.16) rotate(0.3)" text-anchor="end" textLength="65.05" lengthAdjust="spacingAndGlyphs">108.5</text>
<text transform="translate(4813 1586.16) rotate(0.3)" textLength="178" lengthAdjust="spacingAndGlyphs">AX-944709515</text>
<text transform="translate(4682 1619.07) rotate(0.3)" text-anchor="end" textLength="65.05" lengthAdjust="spacingAndGlyphs">117.5</text>
<text transform="translate(4813 1619.07) rotate(0.3)" textLength="178" lengthAdjust="spacingAndGlyphs">AX-949591034</text>
<text transform="translate(4682 1651.98) rotate(0.3)" text-anchor="end" textLength="65.05" lengthAdjust="spacingAndGlyphs">122.5</text>
<text transform="translate(4813 1651.98) rotate(0.3)" textLength="178" lengthAdjust="spacingAndGlyphs">AX-111370971</text>
<text transform="translate(4682 1684.89) rotate(0.3)" text-anchor="end" textLength="65.05" lengthAdjust="spacingAndGlyphs">130.6</text>
<text transform="translate(4813 1684.89) rotate(0.3)" textLength="178" lengthAdjust="spacingAndGlyphs">AX-109711422</text>
<text transform="translate(4682 1717.8) rotate(0.3)" text-anchor="end" textLength="65.05" lengthAdjust="spacingAndGlyphs">132.5</text>
<text transform="translate(4813 1717.8) rotate(0.3)" textLength="178" lengthAdjust="spacingAndGlyphs">AX-949462948</text>
<text transform="translate(4682 1750.71) rotate(0.3)" text-anchor="end" textLength="65.05" lengthAdjust="spacingAndGlyphs">139.1</text>
<text transform="translate(4813 1750.71) rotate(0.3)" textLength="178" lengthAdjust="spacingAndGlyphs">AX-944470052</text>
<text transform="translate(4682 1783.62) rotate(0.3)" text-anchor="end" textLength="65.05" lengthAdjust="spacingAndGlyphs">144.8</text>
<text transform="translate(4813 1783.62) rotate(0.3)" textLength="178" lengthAdjust="spacingAndGlyphs">AX-108870012</text>
<text transform="translate(4682 1816.53) rotate(0.3)" text-anchor="end" textLength="65.05" lengthAdjust="spacingAndGlyphs">148.8</text>
<text transform="translate(4813 1816.53) rotate(0.3)" textLength="178" lengthAdjust="spacingAndGlyphs">AX-949967276</text>
<text transform="translate(4682 1849.44) rotate(0.3)" text-anchor="end" textLength="65.05" lengthAdjust="spacingAndGlyphs">156.9</text>
<text transform="translate(4813 1849.44) rotate(0.3)" textLength="178" lengthAdjust="spacingAndGlyphs">AX-110981558</text>
<text transform="translate(4682 1882.35) rotate(0.3)" text-anchor="end" textLength="65.05" lengthAdjust="spacingAndGlyphs">166.3</text>
<text transform="translate(4813 1882.35) rotate(0.3)" textLength="178" lengthAdjust="spacingAndGlyphs">AX-110429903</text>
<text transform="translate(4682 1915.26) rotate(0.3)" text-anchor="end" textLength="65.05" lengthAdjust="spacingAndGlyphs">168.1</text>
<text transform="translate(4813 1915.26) rotate(0.3)" textLength="178" lengthAdjust="spacingAndGlyphs">AX-110575976</text>
<text transform="translate(4682 1948.17) rotate(0.3)" text-anchor="end" textLength="65.05" lengthAdjust="spacingAndGlyphs">170.6</text>
<text transform="translate(4813 1948.17) rotate(0.3)" textLength="178" lengthAdjust="spacingAndGlyphs">AX-111505975</text>
<text transform="translate(4682 1981.08) rotate(0.3)" text-anchor="end" textLength="65.05" lengthAdjust="spacingAndGlyphs">173.8</text>
<text transform="translate(4813 1981.08) rotate(0.3)" textLength="178" lengthAdjust="spacingAndGlyphs">AX-110037902</text>
<text transform="translate(4682 2013.99) rotate(0.3)" text-anchor="end" textLength="65.05" lengthAdjust="spacingAndGlyphs">175.9</text>
<text transform="translate(4813 2013.99) rotate(0.3)" textLength="178" lengthAdjust="spacingAndGlyphs">AX-944246418</text>
<text transform="translate(4682 2046.9) rotate(0.3)" text-anchor="end" textLength="65.05" lengthAdjust="spacingAndGlyphs">177.6</text>
<text transform="translate(4813 2046.9) rotate(0.3)" textLength="178" lengthAdjust="spacingAndGlyphs">AX-111599892</text>
<text transform="translate(4682 2079.81) rotate(0.3)" text-anchor="end" textLength="65.05" lengthAdjust="spacingAndGlyphs">180.1</text>
<text transform="translate(4813 2079.81) rotate(0.3)" textLength="178" lengthAdjust="spacingAndGlyphs">AX-944081369</text>
<text transform="translate(4682 2112.72) rotate(0.3)" text-anchor="end" textLength="65.05" lengthAdjust="spacingAndGlyphs">182.2</text>
<text transform="translate(4813 2112.72) rotate(0.3)" textLength="178" lengthAdjust="spacingAndGlyphs">AX-944154321</text>
<text transform="translate(4682 2145.63) rotate(0.3)" text-anchor="end" textLength="65.05" lengthAdjust="spacingAndGlyphs">189.3</text>
<text transform="translate(4813 2145.63) rotate(0.3)" textLength="178" lengthAdjust="spacingAndGlyphs">AX-111558358</text>
<text transform="translate(4682 2178.54) rotate(0.3)" text-anchor="end" textLength="65.05" lengthAdjust="spacingAndGlyphs">193.2</text>
<text transform="translate(4813 2178.54) rotate(0.3)" textLength="178" lengthAdjust="spacingAndGlyphs">AX-944650557</text>
<text transform="translate(4682 2211.45) rotate(0.3)" text-anchor="end" textLength="65.05" lengthAdjust="spacingAndGlyphs">195.0</text>
<text transform="translate(4813 2211.45) rotate(0.3)" textLength="178" lengthAdjust="spacingAndGlyphs">AX-949533522</text>
<text transform="translate(4682 2244.36) rotate(0.3)" text-anchor="end" textLength="65.05" lengthAdjust="spacingAndGlyphs">197.8</text>
<text transform="translate(4813 2244.36) rotate(0.3)" textLength="178" lengthAdjust="spacingAndGlyphs">AX-110076769</text>
<text transform="translate(4682 2277.27) rotate(0.3)" text-anchor="end" textLength="65.05" lengthAdjust="spacingAndGlyphs">201.9</text>
<text transform="translate(4813 2277.27) rotate(0.3)" textLength="178" lengthAdjust="spacingAndGlyphs">AX-111291244</text>
<text transform="translate(4682 2310.18) rotate(0.3)" text-anchor="end" textLength="65.05" lengthAdjust="spacingAndGlyphs">205.1</text>
<text transform="translate(4813 2310.18) rotate(0.3)" textLength="178" lengthAdjust="spacingAndGlyphs">AX-111985139</text>
<text transform="translate(4682 2343.09) rotate(0.3)" text-anchor="end" textLength="65.05" lengthAdjust="spacingAndGlyphs">207.0</text>
<text transform="translate(4813 2343.09) rotate(0.3)" textLength="178" lengthAdjust="spacingAndGlyphs">AX-109924957</text>
<text transform="translate(4682 2376) rotate(0.3)" text-anchor="end" textLength="65.05" lengthAdjust="spacingAndGlyphs">208.8</text>
<text transform="translate(4813 2376) rotate(0.3)" textLength="178" lengthAdjust="spacingAndGlyphs">AX-111617524</text>
<text transform="translate(4682 2408.91) rotate(0.3)" text-anchor="end" textLength="65.05" lengthAdjust="spacingAndGlyphs">210.4</text>
<text transform="translate(4813 2408.91) rotate(0.3)" textLength="178" lengthAdjust="spacingAndGlyphs">AX-111802430</text>
<text transform="translate(4682 2441.82) rotate(0.3)" text-anchor="end" textLength="65.05" lengthAdjust="spacingAndGlyphs">223.0</text>
<text transform="translate(4813 2441.82) rotate(0.3)" textLength="178" lengthAdjust="spacingAndGlyphs">AX-110067394</text>
<text transform="translate(4682 2474.73) rotate(0.3)" text-anchor="end" textLength="65.05" lengthAdjust="spacingAndGlyphs">230.9</text>
<text transform="translate(4813 2474.73) rotate(0.3)" textLength="178" lengthAdjust="spacingAndGlyphs">AX-949133029</text>
<text transform="translate(4682 2507.64) rotate(0.3)" text-anchor="end" textLength="65.05" lengthAdjust="spacingAndGlyphs">232.6</text>
<text transform="translate(4813 2507.64) rotate(0.3)" textLength="178" lengthAdjust="spacingAndGlyphs">AX-109119520</text>
<text transform="translate(4682 2540.55) rotate(0.3)" text-anchor="end" textLength="65.05" lengthAdjust="spacingAndGlyphs">240.0</text>
<text transform="translate(4813 2540.55) rotate(0.3)" textLength="178" lengthAdjust="spacingAndGlyphs">AX-110480503</text>
<text transform="translate(4682 2573.46) rotate(0.3)" text-anchor="end" textLength="65.05" lengthAdjust="spacingAndGlyphs">252.3</text>
<text transform="translate(4813 2573.46) rotate(0.3)" textLength="178" lengthAdjust="spacingAndGlyphs">AX-111507695</text>
<text transform="translate(4682 2606.37) rotate(0.3)" text-anchor="end" textLength="65.05" lengthAdjust="spacingAndGlyphs">257.5</text>
<text transform="translate(4813 2606.37) rotate(0.3)" textLength="178" lengthAdjust="spacingAndGlyphs">AX-110060195</text>
<text transform="translate(4682 2639.28) rotate(0.3)" text-anchor="end" textLength="65.05" lengthAdjust="spacingAndGlyphs">259.3</text>
<text transform="translate(4813 2639.28) rotate(0.3)" textLength="178" lengthAdjust="spacingAndGlyphs">AX-108964700</text>
<text transform="translate(4682 2672.19) rotate(0.3)" text-anchor="end" textLength="65.05" lengthAdjust="spacingAndGlyphs">263.6</text>
<text transform="translate(4813 2672.19) rotate(0.3)" textLength="178" lengthAdjust="spacingAndGlyphs">AX-111950695</text>
<text transform="translate(4682 2705.1) rotate(0.3)" text-anchor="end" textLength="65.05" lengthAdjust="spacingAndGlyphs">267.3</text>
<text transform="translate(4813 2705.1) rotate(0.3)" textLength="178" lengthAdjust="spacingAndGlyphs">AX-110102328</text>
<text transform="translate(4682 2738.01) rotate(0.3)" text-anchor="end" textLength="65.05" lengthAdjust="spacingAndGlyphs">269.4</text>
<text transform="translate(4813 2738.01) rotate(0.3)" textLength="178" lengthAdjust="spacingAndGlyphs">AX-109556589</text>
<text transform="translate(4682 2770.92) rotate(0.3)" text-anchor="end" textLength="65.05" lengthAdjust="spacingAndGlyphs">274.3</text>
<text transform="translate(4813 2770.92) rotate(0.3)" textLength="178" lengthAdjust="spacingAndGlyphs">AX-949299539</text>
<text transform="translate(4682 2803.83) rotate(0.3)" text-anchor="end" textLength="65.05" lengthAdjust="spacingAndGlyphs">276.0</text>
<text transform="translate(4813 2803.83) rotate(0.3)" textLength="178" lengthAdjust="spacingAndGlyphs">AX-111704878</text>
<text transform="translate(4682 2836.74) rotate(0.3)" text-anchor="end" textLength="65.05" lengthAdjust="spacingAndGlyphs">287.0</text>
<text transform="translate(4813 2836.74) rotate(0.3)" textLength="178" lengthAdjust="spacingAndGlyphs">AX-111588424</text>
<text transform="translate(4682 2869.65) rotate(0.3)" text-anchor="end" textLength="65.05" lengthAdjust="spacingAndGlyphs">293.3</text>
<text transform="translate(4813 2869.65) rotate(0.3)" textLength="178" lengthAdjust="spacingAndGlyphs">AX-109871523</text>
<text transform="translate(4682 2902.56) rotate(0.3)" text-anchor="end" textLength="65.05" lengthAdjust="spacingAndGlyphs">299.3</text>
<text transform="translate(4813 2902.56) rotate(0.3)" textLength="178" lengthAdjust="spacingAndGlyphs">AX-108109210</text>
<text transform="translate(4682 2935.47) rotate(0.3)" text-anchor="end" textLength="65.05" lengthAdjust="spacingAndGlyphs">310.7</text>
<text transform="translate(4813 2935.47) rotate(0.3)" textLength="178" lengthAdjust="spacingAndGlyphs">AX-949838249</text>
<text transform="translate(4682 2968.38) rotate(0.3)" text-anchor="end" textLength="65.05" lengthAdjust="spacingAndGlyphs">317.0</text>
<text transform="translate(4813 2968.38) rotate(0.3)" textLength="178" lengthAdjust="spacingAndGlyphs">AX-111222805</text>
<text transform="translate(4682 3001.29) rotate(0.3)" text-anchor="end" textLength="65.05" lengthAdjust="spacingAndGlyphs">319.4</text>
<text transform="translate(4813 3001.29) rotate(0.3)" textLength="178" lengthAdjust="spacingAndGlyphs">AX-944377356</text>
<text transform="translate(4682 3034.2) rotate(0.3)" text-anchor="end" textLength="65.05" lengthAdjust="spacingAndGlyphs">321.7</text>
<text transform="translate(4813 3034.2) rotate(0.3)" textLength="178" lengthAdjust="spacingAndGlyphs">AX-108350101</text>
<text transform="translate(4682 3067.11) rotate(0.3)" text-anchor="end" textLength="65.05" lengthAdjust="spacingAndGlyphs">323.6</text>
<text transform="translate(4813 3067.11) rotate(0.3)" textLength="178" lengthAdjust="spacingAndGlyphs">AX-944650396</text>
<text transform="translate(4682 3100.02) rotate(0.3)" text-anchor="end" textLength="65.05" lengthAdjust="spacingAndGlyphs">325.3</text>
<text transform="translate(4813 3100.02) rotate(0.3)" textLength="178" lengthAdjust="spacingAndGlyphs">AX-108630404</text>
<text transform="translate(4682 3132.93) rotate(0.3)" text-anchor="end" textLength="65.05" lengthAdjust="spacingAndGlyphs">333.6</text>
<text transform="translate(4813 3132.93) rotate(0.3)" textLength="178" lengthAdjust="spacingAndGlyphs">AX-944633535</text>
<text transform="translate(4682 3165.84) rotate(0.3)" text-anchor="end" textLength="65.05" lengthAdjust="spacingAndGlyphs">343.0</text>
<text transform="translate(4813 3165.84) rotate(0.3)" textLength="178" lengthAdjust="spacingAndGlyphs">AX-108447392</text>
<text transform="translate(4682 3198.75) rotate(0.3)" text-anchor="end" textLength="65.05" lengthAdjust="spacingAndGlyphs">345.7</text>
<text transform="translate(4813 3198.75) rotate(0.3)" textLength="178" lengthAdjust="spacingAndGlyphs">AX-108424415</text>
<text transform="translate(4682 3231.66) rotate(0.3)" text-anchor="end" textLength="65.05" lengthAdjust="spacingAndGlyphs">347.7</text>
<text transform="translate(4813 3231.66) rotate(0.3)" textLength="178" lengthAdjust="spacingAndGlyphs">AX-109732599</text>
<text transform="translate(4682 3264.57) rotate(0.3)" text-anchor="end" textLength="65.05" lengthAdjust="spacingAndGlyphs">353.9</text>
<text transform="translate(4813 3264.57) rotate(0.3)" textLength="178" lengthAdjust="spacingAndGlyphs">AX-108390350</text>
</g>
</g>
<g fill="#808000" stroke="none">
<text transform="translate(68.4 154) rotate(90) scale(0.1)" font-family="'Liberation Serif',serif" font-weight="bold" font-size="55.2" textLength="491" lengthAdjust="spacingAndGlyphs" stroke="#808000" stroke-width="1.5">QTKW.<tspan font-style="italic">nwafu</tspan>-1B.1</text>
<rect x="67.15" y="154" width="0.48" height="49.1"/>
<rect x="61.9" y="178.25" width="5.3" height="0.55"/>
</g>
<g fill="#00ffff" stroke="none">
<text transform="translate(82.9 149) rotate(90) scale(0.1)" font-family="'Liberation Serif',serif" font-weight="bold" font-size="55.2" textLength="460" lengthAdjust="spacingAndGlyphs" stroke="#00ffff" stroke-width="1.5">QArea.<tspan font-style="italic">nwafu</tspan>-1B.1</text>
<rect x="76.1" y="170.8" width="4.9" height="3.3"/>
</g>
<g fill="#00ffff" stroke="none">
<text transform="translate(97.6 153.2) rotate(90) scale(0.1)" font-family="'Liberation Serif',serif" font-weight="bold" font-size="55.2" textLength="466" lengthAdjust="spacingAndGlyphs" stroke="#00ffff" stroke-width="1.5">QArea.<tspan font-style="italic">nwafu</tspan>-1B.2</text>
<rect x="90.9" y="176.2" width="4.2" height="1.3"/>
</g>
<g fill="#00008b" stroke="none">
<text transform="translate(68.4 231.3) rotate(90) scale(0.1)" font-family="'Liberation Serif',serif" font-weight="bold" font-size="55.2" textLength="490" lengthAdjust="spacingAndGlyphs" stroke="#00008b" stroke-width="1.5">QLWR.<tspan font-style="italic">nwafu</tspan>-1B.4</text>
<rect x="67.15" y="231.3" width="0.48" height="49"/>
<rect x="62.1" y="254.9" width="5.1" height="2.1"/>
</g>
<g fill="#149414" stroke="none">
<text transform="translate(97.1 232.1) rotate(90) scale(0.1)" font-family="'Liberation Serif',serif" font-weight="bold" font-size="55.2" textLength="431" lengthAdjust="spacingAndGlyphs" stroke="#149414" stroke-width="1.5">QAC.<tspan font-style="italic">nwafu</tspan>-1B.3</text>
<rect x="95.85" y="232.1" width="0.48" height="43.1"/>
<rect x="90.8" y="253.4" width="5.1" height="1"/>
</g>
<g fill="#149414" stroke="none">
<text transform="translate(111.5 234.8) rotate(90) scale(0.1)" font-family="'Liberation Serif',serif" font-weight="bold" font-size="55.2" textLength="432" lengthAdjust="spacingAndGlyphs" stroke="#149414" stroke-width="1.5">QAC.<tspan font-style="italic">nwafu</tspan>-1B.4</text>
<rect x="110.25" y="234.8" width="0.48" height="43.2"/>
<rect x="105.2" y="255.9" width="5.1" height="1.4"/>
</g>
<g fill="#000" stroke="none">
<text transform="translate(186.45 152.4) rotate(90) scale(0.1)" font-family="'Liberation Serif',serif" font-weight="bold" font-size="55.2" textLength="375" lengthAdjust="spacingAndGlyphs" stroke="#000" stroke-width="1.5">QSL.<tspan font-style="italic">nwafu</tspan>-2A</text>
<rect x="185.2" y="152.4" width="0.48" height="37.5"/>
<rect x="180.4" y="167.2" width="4.6" height="8.4"/>
</g>
<g fill="#ff00ff" stroke="none">
<text transform="translate(262.2 172.9) rotate(90) scale(0.1)" font-family="'Liberation Serif',serif" font-weight="bold" font-size="55.2" textLength="427" lengthAdjust="spacingAndGlyphs" stroke="#ff00ff" stroke-width="1.5">QPH.<tspan font-style="italic">nwafu</tspan>-2B.2</text>
<rect x="260.95" y="172.9" width="0.48" height="42.7"/>
<rect x="256" y="194" width="5" height="0.6"/>
</g>
<g fill="#800000" stroke="none">
<text transform="translate(276.6 189.9) rotate(90) scale(0.1)" font-family="'Liberation Serif',serif" font-weight="bold" font-size="55.2" textLength="461" lengthAdjust="spacingAndGlyphs" stroke="#800000" stroke-width="1.5">QNPS.<tspan font-style="italic">nwafu</tspan>-2B.1</text>
<rect x="275.35" y="189.9" width="0.48" height="46.1"/>
<rect x="270.3" y="212.1" width="5.1" height="1.7"/>
</g>
<g fill="#808000" stroke="none">
<text transform="translate(291.1 210.8) rotate(90) scale(0.1)" font-family="'Liberation Serif',serif" font-weight="bold" font-size="55.2" textLength="462" lengthAdjust="spacingAndGlyphs" stroke="#808000" stroke-width="1.5">QTKW.<tspan font-style="italic">nwafu</tspan>-2B.1</text>
<rect x="283.8" y="234.9" width="5.4" height="2.1"/>
</g>
<g fill="#00ff00" stroke="none">
<text transform="translate(305 192) rotate(90) scale(0.1)" font-family="'Liberation Serif',serif" font-weight="bold" font-size="55.2" textLength="414" lengthAdjust="spacingAndGlyphs" stroke="#00ff00" stroke-width="1.5">QSB.<tspan font-style="italic">nwafu</tspan>-3B.1</text>
<rect x="303.75" y="192" width="0.48" height="41.4"/>
<rect x="298.6" y="212" width="5.2" height="2.1"/>
</g>
<g fill="#00ff00" stroke="none">
<text transform="translate(319.4 192.9) rotate(90) scale(0.1)" font-family="'Liberation Serif',serif" font-weight="bold" font-size="55.2" textLength="419" lengthAdjust="spacingAndGlyphs" stroke="#00ff00" stroke-width="1.5">QSB.<tspan font-style="italic">nwafu</tspan>-3B.2</text>
<rect x="318.15" y="192.9" width="0.48" height="41.9"/>
<rect x="313" y="213.6" width="5.2" height="1.5"/>
</g>
<g fill="#000" stroke="none">
<text transform="translate(395 190.6) rotate(90) scale(0.1)" font-family="'Liberation Serif',serif" font-weight="bold" font-size="55.2" textLength="375" lengthAdjust="spacingAndGlyphs" stroke="#000" stroke-width="1.5">QSL.<tspan font-style="italic">nwafu</tspan>-3A</text>
<rect x="393.75" y="190.6" width="0.48" height="37.5"/>
<rect x="388.1" y="208.5" width="5.7" height="2.2"/>
</g>
<g fill="#008000" stroke="none">
<text transform="translate(409.3 197.9) rotate(90) scale(0.1)" font-family="'Liberation Serif',serif" font-weight="bold" font-size="55.2" textLength="403" lengthAdjust="spacingAndGlyphs" stroke="#008000" stroke-width="1.5">QKW.<tspan font-style="italic">nwafu</tspan>-3A</text>
<rect x="402.8" y="217.1" width="4.4" height="2"/>
</g>
<g fill="#00008b" stroke="none">
<text transform="translate(423.6 207.9) rotate(90) scale(0.1)" font-family="'Liberation Serif',serif" font-weight="bold" font-size="55.2" textLength="482" lengthAdjust="spacingAndGlyphs" stroke="#00008b" stroke-width="1.5">QLWR.<tspan font-style="italic">nwafu</tspan>-3A.2</text>
<rect x="422.35" y="207.9" width="0.48" height="48.2"/>
<rect x="416.8" y="231.1" width="5.6" height="2.3"/>
</g>
<g fill="#149414" stroke="none">
<text transform="translate(437.5 222.8) rotate(90) scale(0.1)" font-family="'Liberation Serif',serif" font-weight="bold" font-size="55.2" textLength="435" lengthAdjust="spacingAndGlyphs" stroke="#149414" stroke-width="1.5">QAC.<tspan font-style="italic">nwafu</tspan>-3A.1</text>
<rect x="436.25" y="222.8" width="0.48" height="43.5"/>
<rect x="431" y="244.35" width="5.3" height="0.5"/>
</g>
<g fill="#149414" stroke="none">
<text transform="translate(452.1 227.2) rotate(90) scale(0.1)" font-family="'Liberation Serif',serif" font-weight="bold" font-size="55.2" textLength="430" lengthAdjust="spacingAndGlyphs" stroke="#149414" stroke-width="1.5">QAC.<tspan font-style="italic">nwafu</tspan>-3A.2</text>
<rect x="450.85" y="227.2" width="0.48" height="43"/>
<rect x="445.6" y="248.1" width="5.3" height="1.7"/>
</g>
<g fill="#808000" stroke="none">
<text transform="translate(527.2 173.2) rotate(90) scale(0.1)" font-family="'Liberation Serif',serif" font-weight="bold" font-size="55.2" textLength="489" lengthAdjust="spacingAndGlyphs" stroke="#808000" stroke-width="1.5">QTKW.<tspan font-style="italic">nwafu</tspan>-3B.2</text>
<rect x="525.95" y="173.2" width="0.48" height="48.9"/>
<rect x="520.9" y="197.4" width="5.1" height="1"/>
</g>
<g fill="#ff0000" stroke="none">
<text transform="translate(541.6 179) rotate(90) scale(0.1)" font-family="'Liberation Serif',serif" font-weight="bold" font-size="55.2" textLength="412" lengthAdjust="spacingAndGlyphs" stroke="#ff0000" stroke-width="1.5">QPerk.<tspan font-style="italic">nwafu</tspan>-3B</text>
<rect x="534.8" y="198.75" width="5.2" height="1.85"/>
</g>
</svg>
</body>
</html>
